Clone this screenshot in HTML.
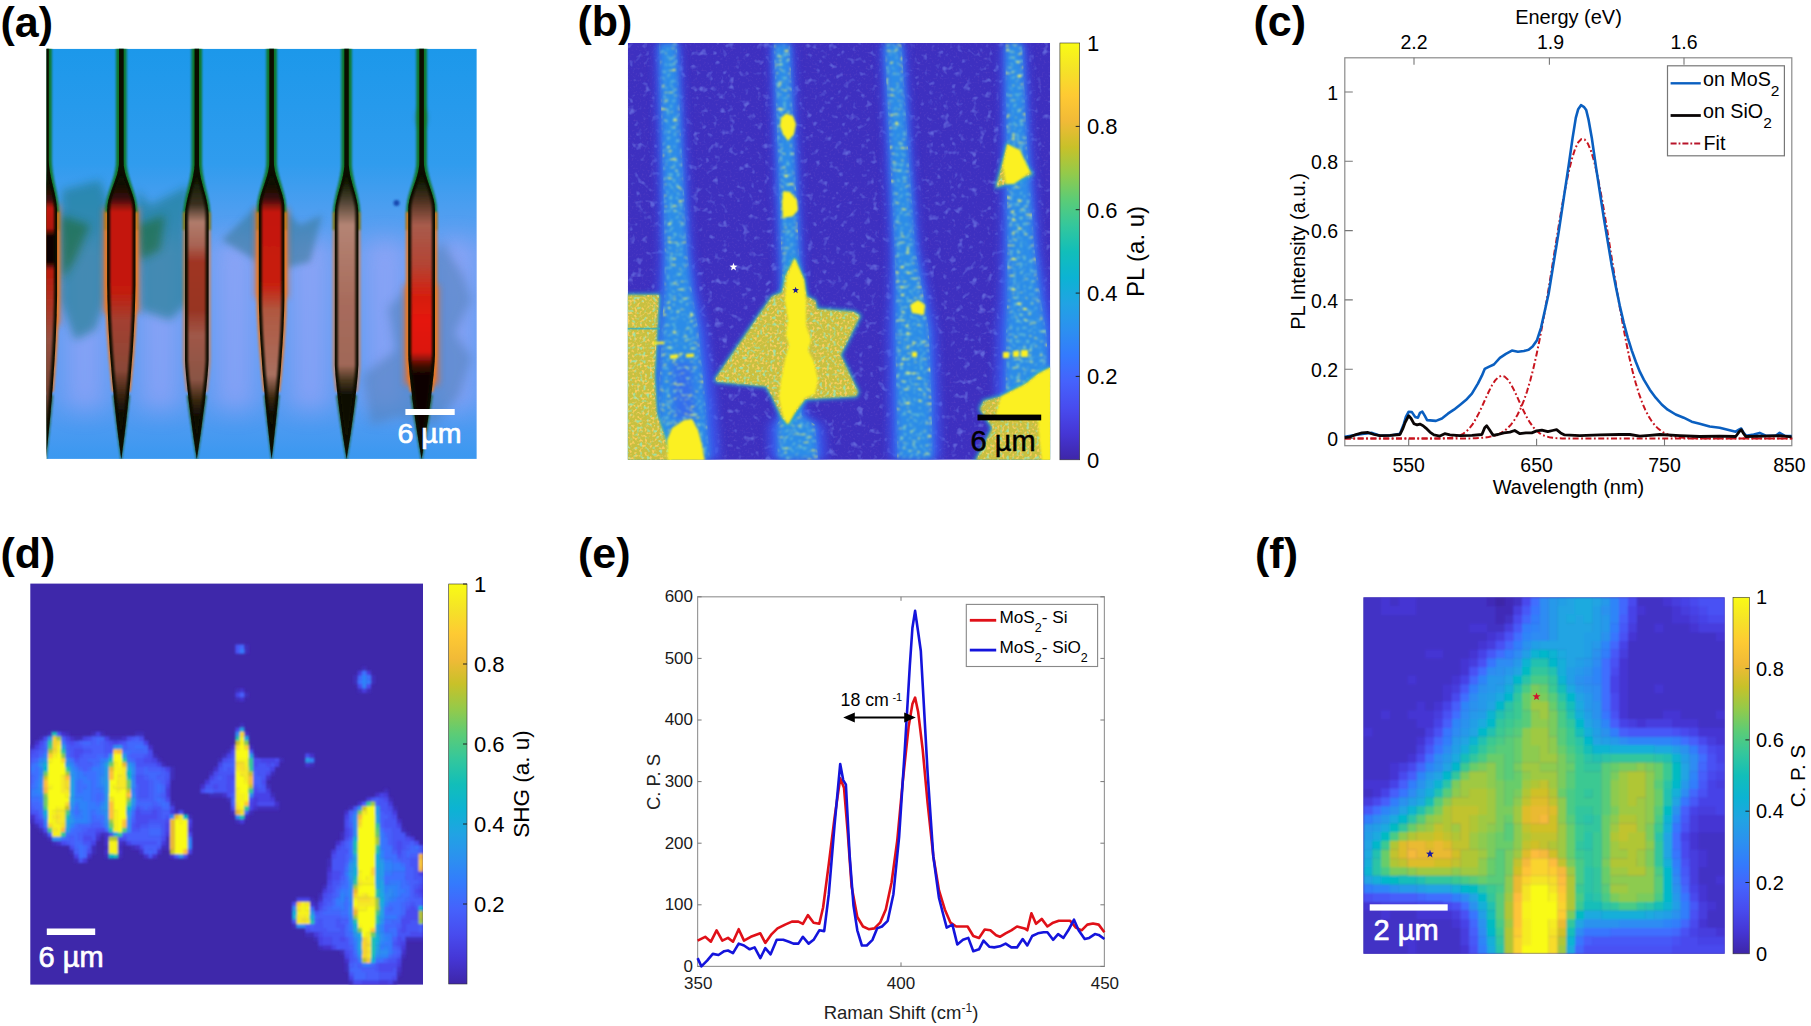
<!DOCTYPE html><html><head><meta charset="utf-8"><title>Figure</title><style>html,body{margin:0;padding:0;background:#fff}svg{display:block}text{font-family:"Liberation Sans",sans-serif}</style></head><body><svg width="1811" height="1026" viewBox="0 0 1811 1026"><defs><linearGradient id="par" x1="0" y1="0" x2="0" y2="1"><stop offset="0.0000" stop-color="#f9fb15"/><stop offset="0.0625" stop-color="#f5e327"/><stop offset="0.1250" stop-color="#feca33"/><stop offset="0.1875" stop-color="#f1ba37"/><stop offset="0.2500" stop-color="#c8c129"/><stop offset="0.3125" stop-color="#94ca4a"/><stop offset="0.3750" stop-color="#5ccc76"/><stop offset="0.4375" stop-color="#34c79c"/><stop offset="0.5000" stop-color="#12beb9"/><stop offset="0.5625" stop-color="#0cb3d3"/><stop offset="0.6250" stop-color="#21a3e3"/><stop offset="0.6875" stop-color="#2c90f0"/><stop offset="0.7500" stop-color="#347afd"/><stop offset="0.8125" stop-color="#4562fc"/><stop offset="0.8750" stop-color="#484cef"/><stop offset="0.9375" stop-color="#4536d5"/><stop offset="1.0000" stop-color="#3e26a8"/></linearGradient><filter id="bl05" x="-30%" y="-30%" width="160%" height="160%"><feGaussianBlur stdDeviation="0.5"/></filter><filter id="bl1" x="-30%" y="-30%" width="160%" height="160%"><feGaussianBlur stdDeviation="1"/></filter><filter id="bl2" x="-30%" y="-30%" width="160%" height="160%"><feGaussianBlur stdDeviation="2"/></filter><filter id="bl3" x="-30%" y="-30%" width="160%" height="160%"><feGaussianBlur stdDeviation="3"/></filter><filter id="bl4" x="-30%" y="-30%" width="160%" height="160%"><feGaussianBlur stdDeviation="4"/></filter><filter id="bl5" x="-30%" y="-30%" width="160%" height="160%"><feGaussianBlur stdDeviation="5"/></filter><filter id="bl12" x="-30%" y="-30%" width="160%" height="160%"><feGaussianBlur stdDeviation="12"/></filter></defs><rect width="1811" height="1026" fill="#fff"/><g id="pa"><text x="0.5" y="36.5" font-size="43" font-weight="bold">(a)</text><defs><clipPath id="ca"><rect x="46.5" y="48.7" width="430.3" height="410.2"/></clipPath><linearGradient id="abg" x1="0" y1="0" x2="0" y2="1"><stop offset="0" stop-color="#1c98ea"/><stop offset="0.28" stop-color="#309cee"/><stop offset="0.5" stop-color="#68a0f2"/><stop offset="0.85" stop-color="#5c9cf2"/><stop offset="1" stop-color="#3a98f0"/></linearGradient><linearGradient id="ag1" gradientUnits="userSpaceOnUse" x1="0" y1="160" x2="0" y2="460"><stop offset="0.033" stop-color="#081000" stop-opacity="0"/><stop offset="0.083" stop-color="#101004" stop-opacity="1"/><stop offset="0.133" stop-color="#401008" stop-opacity="1"/><stop offset="0.160" stop-color="#c01408" stop-opacity="1"/><stop offset="0.227" stop-color="#b01408" stop-opacity="1"/><stop offset="0.253" stop-color="#100404" stop-opacity="1"/><stop offset="0.340" stop-color="#100404" stop-opacity="1"/><stop offset="0.367" stop-color="#b81a0c" stop-opacity="1"/><stop offset="0.467" stop-color="#b03020" stop-opacity="1"/><stop offset="0.600" stop-color="#985040" stop-opacity="1"/><stop offset="0.800" stop-color="#704030" stop-opacity="1"/><stop offset="0.900" stop-color="#201408" stop-opacity="1"/></linearGradient><linearGradient id="ag2" gradientUnits="userSpaceOnUse" x1="0" y1="160" x2="0" y2="460"><stop offset="0.033" stop-color="#081000" stop-opacity="0"/><stop offset="0.083" stop-color="#101004" stop-opacity="1"/><stop offset="0.127" stop-color="#381008" stop-opacity="1"/><stop offset="0.173" stop-color="#c41408" stop-opacity="1"/><stop offset="0.433" stop-color="#c41a0c" stop-opacity="1"/><stop offset="0.533" stop-color="#a44030" stop-opacity="1"/><stop offset="0.700" stop-color="#8a4838" stop-opacity="1"/><stop offset="0.783" stop-color="#3a2410" stop-opacity="1"/><stop offset="0.850" stop-color="#0c0a04" stop-opacity="1"/></linearGradient><linearGradient id="ag3" gradientUnits="userSpaceOnUse" x1="0" y1="160" x2="0" y2="460"><stop offset="0.033" stop-color="#081000" stop-opacity="0"/><stop offset="0.083" stop-color="#182008" stop-opacity="1"/><stop offset="0.147" stop-color="#3a3020" stop-opacity="1"/><stop offset="0.207" stop-color="#b07c6c" stop-opacity="1"/><stop offset="0.283" stop-color="#a86454" stop-opacity="1"/><stop offset="0.340" stop-color="#a03424" stop-opacity="1"/><stop offset="0.500" stop-color="#983424" stop-opacity="1"/><stop offset="0.583" stop-color="#a05848" stop-opacity="1"/><stop offset="0.733" stop-color="#8a5444" stop-opacity="1"/><stop offset="0.800" stop-color="#3a2810" stop-opacity="1"/><stop offset="0.860" stop-color="#0c0a04" stop-opacity="1"/></linearGradient><linearGradient id="ag4" gradientUnits="userSpaceOnUse" x1="0" y1="160" x2="0" y2="460"><stop offset="0.033" stop-color="#081000" stop-opacity="0"/><stop offset="0.083" stop-color="#101004" stop-opacity="1"/><stop offset="0.127" stop-color="#381008" stop-opacity="1"/><stop offset="0.173" stop-color="#c41408" stop-opacity="1"/><stop offset="0.417" stop-color="#c82010" stop-opacity="1"/><stop offset="0.500" stop-color="#b05840" stop-opacity="1"/><stop offset="0.717" stop-color="#a87060" stop-opacity="1"/><stop offset="0.793" stop-color="#3a2810" stop-opacity="1"/><stop offset="0.850" stop-color="#0c0a04" stop-opacity="1"/></linearGradient><linearGradient id="ag5" gradientUnits="userSpaceOnUse" x1="0" y1="160" x2="0" y2="460"><stop offset="0.033" stop-color="#081000" stop-opacity="0"/><stop offset="0.083" stop-color="#182008" stop-opacity="1"/><stop offset="0.133" stop-color="#4a4030" stop-opacity="1"/><stop offset="0.217" stop-color="#b48474" stop-opacity="1"/><stop offset="0.467" stop-color="#a86c5c" stop-opacity="1"/><stop offset="0.683" stop-color="#a06858" stop-opacity="1"/><stop offset="0.733" stop-color="#4a3820" stop-opacity="1"/><stop offset="0.783" stop-color="#101004" stop-opacity="1"/></linearGradient><linearGradient id="ag6" gradientUnits="userSpaceOnUse" x1="0" y1="160" x2="0" y2="460"><stop offset="0.033" stop-color="#081000" stop-opacity="0"/><stop offset="0.083" stop-color="#182008" stop-opacity="1"/><stop offset="0.133" stop-color="#4a3020" stop-opacity="1"/><stop offset="0.217" stop-color="#a85c4c" stop-opacity="1"/><stop offset="0.350" stop-color="#b44434" stop-opacity="1"/><stop offset="0.450" stop-color="#d42010" stop-opacity="1"/><stop offset="0.533" stop-color="#e41808" stop-opacity="1"/><stop offset="0.640" stop-color="#dc1808" stop-opacity="1"/><stop offset="0.687" stop-color="#400c06" stop-opacity="1"/><stop offset="0.720" stop-color="#0c0404" stop-opacity="1"/></linearGradient></defs><g clip-path="url(#ca)"><rect x="46.5" y="48.7" width="430.3" height="410.2" fill="url(#abg)"/><g fill="#b8a8fa" opacity="0.45" filter="url(#bl12)"><rect x="67" y="240" width="36" height="170"/><rect x="142" y="240" width="36" height="170"/><rect x="217" y="240" width="36" height="170"/><rect x="292" y="240" width="36" height="170"/><rect x="367" y="240" width="36" height="170"/><rect x="437" y="240" width="36" height="170"/></g><g fill="#1c7c8c" opacity="0.62" filter="url(#bl4)"><polygon points="62,190 100,180 108,200 106,300 95,330 75,340 60,300"/><polygon points="137,190 150,205 190,185 186,230 192,300 170,320 140,310"/></g><g fill="#1a6a30" opacity="0.6" filter="url(#bl4)"><polygon points="60,215 90,225 75,260 62,280"/><polygon points="137,225 165,215 160,250 140,260"/></g><g fill="#3a7a9a" opacity="0.6" filter="url(#bl3)"><polygon points="222,240 258,205 258,262"/><polygon points="285,210 300,225 322,215 310,262 285,268"/></g><g fill="#5080b8" opacity="0.55" filter="url(#bl5)"><polygon points="442,241 463,275 471.5,300 455,333 471.5,358 459,396 434,425 400,417 371,425 362.6,375 396,350 388,308 404.5,291"/></g><ellipse cx="421.5" cy="118" rx="6" ry="11" fill="#2a7a48" opacity="0.55" filter="url(#bl2)"/><g fill="#f06a20" opacity="0.75" filter="url(#bl3)"><rect x="103.5" y="208" width="35.6" height="105"/><rect x="255.3" y="208" width="32.6" height="90"/><rect x="404.5" y="285" width="34.2" height="100"/><rect x="40" y="205" width="20" height="120"/></g><g fill="#0c7418" opacity="0.9" filter="url(#bl1)"><path d="M39.2 40L39.2 45L39.2 50L39.2 55L39.2 60L39.2 65L39.2 70L39.2 75L39.2 80L39.2 85L39.2 90L39.2 95L39.2 100L39.2 105L39.2 110L39.2 115L39.2 120L39.2 125L39.2 130L39.2 135L39.2 140L39.2 145L39.2 150L39.2 155L39.2 160L39 165L38.5 170L37.8 175L36.9 180L35.9 185L34.8 190L33.9 195L33.1 200L32.5 205L32.1 210L32.1 215L32.1 220L32.1 225L32.1 230L58.9 230L58.9 225L58.9 220L58.9 215L58.9 210L58.5 205L57.9 200L57.1 195L56.2 190L55.1 185L54.1 180L53.2 175L52.5 170L52 165L51.8 160L51.8 155L51.8 150L51.8 145L51.8 140L51.8 135L51.8 130L51.8 125L51.8 120L51.8 115L51.8 110L51.8 105L51.8 100L51.8 95L51.8 90L51.8 85L51.8 80L51.8 75L51.8 70L51.8 65L51.8 60L51.8 55L51.8 50L51.8 45L51.8 40Z"/><path d="M116 40L116 45L116 50L116 55L116 60L116 65L116 70L116 75L116 80L116 85L116 90L116 95L116 100L116 105L116 110L116 115L116 120L116 125L116 130L116 135L116 140L116 145L116 150L116 155L116 160L115.9 165L115.2 170L114.1 175L112.6 180L111 185L109.3 190L107.8 195L106.5 200L105.6 205L105.3 210L105.3 215L105.3 220L105.3 225L105.3 230L137.3 230L137.3 225L137.3 220L137.3 215L137.3 210L137 205L136.1 200L134.8 195L133.3 190L131.6 185L130 180L128.5 175L127.4 170L126.7 165L126.6 160L126.6 155L126.6 150L126.6 145L126.6 140L126.6 135L126.6 130L126.6 125L126.6 120L126.6 115L126.6 110L126.6 105L126.6 100L126.6 95L126.6 90L126.6 85L126.6 80L126.6 75L126.6 70L126.6 65L126.6 60L126.6 55L126.6 50L126.6 45L126.6 40Z"/><path d="M191.6 40L191.6 45L191.6 50L191.6 55L191.6 60L191.6 65L191.6 70L191.6 75L191.6 80L191.6 85L191.6 90L191.6 95L191.6 100L191.6 105L191.6 110L191.6 115L191.6 120L191.6 125L191.6 130L191.6 135L191.6 140L191.6 145L191.6 150L191.6 155L191.6 160L191.6 165L191.2 170L190.5 175L189.6 180L188.5 185L187.3 190L186.1 195L185 200L184.1 205L183.5 210L183.2 215L183.2 220L183.2 225L183.2 230L210.4 230L210.4 225L210.4 220L210.4 215L210.1 210L209.5 205L208.6 200L207.5 195L206.3 190L205.1 185L204 180L203.1 175L202.4 170L202 165L202 160L202 155L202 150L202 145L202 140L202 135L202 130L202 125L202 120L202 115L202 110L202 105L202 100L202 95L202 90L202 85L202 80L202 75L202 70L202 65L202 60L202 55L202 50L202 45L202 40Z"/><path d="M266.3 40L266.3 45L266.3 50L266.3 55L266.3 60L266.3 65L266.3 70L266.3 75L266.3 80L266.3 85L266.3 90L266.3 95L266.3 100L266.3 105L266.3 110L266.3 115L266.3 120L266.3 125L266.3 130L266.3 135L266.3 140L266.3 145L266.3 150L266.3 155L266.3 160L266.2 165L265.6 170L264.5 175L263.1 180L261.7 185L260.2 190L258.8 195L257.7 200L257.1 205L257 210L257 215L257 220L257 225L257 230L286.2 230L286.2 225L286.2 220L286.2 215L286.2 210L286.1 205L285.5 200L284.4 195L283 190L281.6 185L280.1 180L278.7 175L277.6 170L277 165L276.9 160L276.9 155L276.9 150L276.9 145L276.9 140L276.9 135L276.9 130L276.9 125L276.9 120L276.9 115L276.9 110L276.9 105L276.9 100L276.9 95L276.9 90L276.9 85L276.9 80L276.9 75L276.9 70L276.9 65L276.9 60L276.9 55L276.9 50L276.9 45L276.9 40Z"/><path d="M341.4 40L341.4 45L341.4 50L341.4 55L341.4 60L341.4 65L341.4 70L341.4 75L341.4 80L341.4 85L341.4 90L341.4 95L341.4 100L341.4 105L341.4 110L341.4 115L341.4 120L341.4 125L341.4 130L341.4 135L341.4 140L341.4 145L341.4 150L341.4 155L341.4 160L341.4 165L341 170L340.2 175L339.2 180L338.1 185L336.8 190L335.6 195L334.6 200L333.7 205L333.1 210L333 215L333 220L333 225L333 230L360.2 230L360.2 225L360.2 220L360.2 215L360.1 210L359.5 205L358.6 200L357.6 195L356.4 190L355.1 185L354 180L353 175L352.2 170L351.8 165L351.8 160L351.8 155L351.8 150L351.8 145L351.8 140L351.8 135L351.8 130L351.8 125L351.8 120L351.8 115L351.8 110L351.8 105L351.8 100L351.8 95L351.8 90L351.8 85L351.8 80L351.8 75L351.8 70L351.8 65L351.8 60L351.8 55L351.8 50L351.8 45L351.8 40Z"/><path d="M416.3 40L416.3 45L416.3 50L416.3 55L416.3 60L416.3 65L416.3 70L416.3 75L416.3 80L416.3 85L416.3 90L416.3 95L416.3 100L416.3 105L416.3 110L416.3 115L416.3 120L416.3 125L416.3 130L416.3 135L416.3 140L416.3 145L416.3 150L416.3 155L416.3 160L416.2 165L415.6 170L414.5 175L413.2 180L411.7 185L410.1 190L408.7 195L407.5 200L406.7 205L406.4 210L406.4 215L406.4 220L406.4 225L406.4 230L436.8 230L436.8 225L436.8 220L436.8 215L436.8 210L436.5 205L435.7 200L434.5 195L433.1 190L431.5 185L430 180L428.7 175L427.6 170L427 165L426.9 160L426.9 155L426.9 150L426.9 145L426.9 140L426.9 135L426.9 130L426.9 125L426.9 120L426.9 115L426.9 110L426.9 105L426.9 100L426.9 95L426.9 90L426.9 85L426.9 80L426.9 75L426.9 70L426.9 65L426.9 60L426.9 55L426.9 50L426.9 45L426.9 40Z"/></g><g fill="#1c5c18" opacity="0.8" filter="url(#bl1)"><path d="M37.8 395L38.2 400L38.7 405L39.2 410L39.7 415L40.2 420L40.7 425L41.2 430L41.8 435L42.4 440L42.9 445L43.5 450L44.1 455L44.7 460L45.5 465L45.5 465L46.3 460L46.9 455L47.5 450L48.1 445L48.6 440L49.2 435L49.8 430L50.3 425L50.8 420L51.3 415L51.8 410L52.3 405L52.8 400L53.2 395Z"/><path d="M112.5 395L113 400L113.6 405L114.2 410L114.8 415L115.4 420L116 425L116.7 430L117.3 435L118 440L118.7 445L119.4 450L120.1 455L120.8 460L121.3 463L121.3 463L121.8 460L122.5 455L123.2 450L123.9 445L124.6 440L125.3 435L125.9 430L126.6 425L127.2 420L127.8 415L128.4 410L129 405L129.6 400L130.1 395Z"/><path d="M186.7 395L187.3 400L188 405L188.6 410L189.3 415L190 420L190.8 425L191.5 430L192.3 435L193 440L193.8 445L194.6 450L195.5 455L196.3 460L196.8 463L196.8 463L197.3 460L198.1 455L199 450L199.8 445L200.6 440L201.3 435L202.1 430L202.8 425L203.6 420L204.3 415L205 410L205.6 405L206.3 400L206.9 395Z"/><path d="M263.6 395L264.1 400L264.6 405L265.2 410L265.7 415L266.3 420L266.9 425L267.5 430L268.1 435L268.7 440L269.3 445L269.9 450L270.6 455L271.2 460L271.6 463L271.6 463L272 460L272.6 455L273.3 450L273.9 445L274.5 440L275.1 435L275.7 430L276.3 425L276.9 420L277.5 415L278 410L278.6 405L279.1 400L279.6 395Z"/><path d="M336.1 395L336.7 400L337.4 405L338.1 410L338.8 415L339.5 420L340.3 425L341.1 430L341.9 435L342.7 440L343.5 445L344.3 450L345.2 455L346.1 460L346.6 463L346.6 463L347.1 460L348 455L348.9 450L349.7 445L350.5 440L351.3 435L352.1 430L352.9 425L353.7 420L354.4 415L355.1 410L355.8 405L356.5 400L357.1 395Z"/><path d="M410.5 395L411.2 400L411.9 405L412.6 410L413.4 415L414.2 420L415 425L415.8 430L416.6 435L417.5 440L418.3 445L419.2 450L420.1 455L421 460L421.6 463L421.6 463L422.2 460L423.1 455L424 450L424.9 445L425.7 440L426.6 435L427.4 430L428.2 425L429 420L429.8 415L430.6 410L431.3 405L432 400L432.7 395Z"/></g><path d="M31.5 212L31.5 217L31.5 222L31.5 227L31.5 232L31.5 237L31.5 242L31.5 247L31.5 252L31.5 257L31.5 262L31.5 267L31.5 272L31.5 277L31.5 282L31.5 287L31.5 292L31.6 297L31.7 302L31.8 307L31.9 312L32.1 317L32.3 322L32.5 327L32.8 332L33 337L33.3 342L33.6 347L34 352L34.3 357L34.7 362L35.1 367L35.5 372L35.9 377L36.3 382L36.8 387L37.3 392L53.7 392L54.2 387L54.7 382L55.1 377L55.5 372L55.9 367L56.3 362L56.7 357L57 352L57.4 347L57.7 342L58 337L58.2 332L58.5 327L58.7 322L58.9 317L59.1 312L59.2 307L59.3 302L59.4 297L59.5 292L59.5 287L59.5 282L59.5 277L59.5 272L59.5 267L59.5 262L59.5 257L59.5 252L59.5 247L59.5 242L59.5 237L59.5 232L59.5 227L59.5 222L59.5 217L59.5 212Z" fill="#ee7a1c" opacity="0.85" filter="url(#bl1)"/><path d="M104.7 212L104.7 217L104.7 222L104.7 227L104.7 232L104.7 237L104.7 242L104.7 247L104.7 252L104.7 257L104.7 262L104.7 267L104.7 272L104.7 277L104.7 282L104.8 287L104.8 292L105 297L105.1 302L105.3 307L105.5 312L105.8 317L106 322L106.3 327L106.6 332L106.9 337L107.3 342L107.7 347L108.1 352L108.5 357L108.9 362L109.4 367L109.9 372L110.4 377L110.9 382L111.4 387L112 392L130.6 392L131.2 387L131.7 382L132.2 377L132.7 372L133.2 367L133.7 362L134.1 357L134.5 352L134.9 347L135.3 342L135.7 337L136 332L136.3 327L136.6 322L136.8 317L137.1 312L137.3 307L137.5 302L137.6 297L137.8 292L137.8 287L137.9 282L137.9 277L137.9 272L137.9 267L137.9 262L137.9 257L137.9 252L137.9 247L137.9 242L137.9 237L137.9 232L137.9 227L137.9 222L137.9 217L137.9 212Z" fill="#ee7a1c" opacity="0.85" filter="url(#bl1)"/><path d="M182.8 212L182.6 217L182.6 222L182.6 227L182.6 232L182.6 237L182.6 242L182.6 247L182.6 252L182.6 257L182.6 262L182.6 267L182.6 272L182.6 277L182.6 282L182.6 287L182.6 292L182.6 297L182.6 302L182.6 307L182.6 312L182.6 317L182.6 322L182.6 327L182.6 332L182.6 337L182.6 342L182.6 347L182.6 352L182.6 357L182.7 362L183.1 367L183.5 372L184 377L184.6 382L185.2 387L185.9 392L207.7 392L208.4 387L209 382L209.6 377L210.1 372L210.5 367L210.9 362L211 357L211 352L211 347L211 342L211 337L211 332L211 327L211 322L211 317L211 312L211 307L211 302L211 297L211 292L211 287L211 282L211 277L211 272L211 267L211 262L211 257L211 252L211 247L211 242L211 237L211 232L211 227L211 222L211 217L210.8 212Z" fill="#ee7a1c" opacity="0.5" filter="url(#bl1)"/><path d="M256.4 212L256.4 217L256.4 222L256.4 227L256.4 232L256.4 237L256.4 242L256.4 247L256.4 252L256.4 257L256.4 262L256.4 267L256.4 272L256.4 277L256.4 282L256.4 287L256.4 292L256.4 297L256.4 302L256.5 307L256.7 312L256.9 317L257.2 322L257.5 327L257.8 332L258.1 337L258.5 342L258.8 347L259.2 352L259.7 357L260.1 362L260.6 367L261 372L261.5 377L262 382L262.6 387L263.1 392L280.1 392L280.6 387L281.2 382L281.7 377L282.2 372L282.6 367L283.1 362L283.5 357L284 352L284.4 347L284.7 342L285.1 337L285.4 332L285.7 327L286 322L286.3 317L286.5 312L286.7 307L286.8 302L286.8 297L286.8 292L286.8 287L286.8 282L286.8 277L286.8 272L286.8 267L286.8 262L286.8 257L286.8 252L286.8 247L286.8 242L286.8 237L286.8 232L286.8 227L286.8 222L286.8 217L286.8 212Z" fill="#ee7a1c" opacity="0.85" filter="url(#bl1)"/><path d="M332.5 212L332.4 217L332.4 222L332.4 227L332.4 232L332.4 237L332.4 242L332.4 247L332.4 252L332.4 257L332.4 262L332.4 267L332.4 272L332.4 277L332.4 282L332.4 287L332.4 292L332.4 297L332.4 302L332.4 307L332.4 312L332.4 317L332.4 322L332.4 327L332.4 332L332.4 337L332.4 342L332.4 347L332.4 352L332.4 357L332.4 362L332.5 367L332.9 372L333.4 377L333.9 382L334.5 387L335.2 392L358 392L358.7 387L359.3 382L359.8 377L360.3 372L360.7 367L360.8 362L360.8 357L360.8 352L360.8 347L360.8 342L360.8 337L360.8 332L360.8 327L360.8 322L360.8 317L360.8 312L360.8 307L360.8 302L360.8 297L360.8 292L360.8 287L360.8 282L360.8 277L360.8 272L360.8 267L360.8 262L360.8 257L360.8 252L360.8 247L360.8 242L360.8 237L360.8 232L360.8 227L360.8 222L360.8 217L360.7 212Z" fill="#ee7a1c" opacity="0.5" filter="url(#bl1)"/><path d="M405.8 212L405.8 217L405.8 222L405.8 227L405.8 232L405.8 237L405.8 242L405.8 247L405.8 252L405.8 257L405.8 262L405.8 267L405.8 272L405.8 277L405.8 282L405.8 287L405.8 292L405.8 297L405.8 302L405.8 307L405.8 312L405.8 317L405.8 322L405.8 327L405.8 332L405.8 337L405.8 342L405.8 347L405.8 352L405.9 357L406.2 362L406.7 367L407.2 372L407.7 377L408.4 382L409 387L409.7 392L433.5 392L434.2 387L434.8 382L435.5 377L436 372L436.5 367L437 362L437.3 357L437.4 352L437.4 347L437.4 342L437.4 337L437.4 332L437.4 327L437.4 322L437.4 317L437.4 312L437.4 307L437.4 302L437.4 297L437.4 292L437.4 287L437.4 282L437.4 277L437.4 272L437.4 267L437.4 262L437.4 257L437.4 252L437.4 247L437.4 242L437.4 237L437.4 232L437.4 227L437.4 222L437.4 217L437.4 212Z" fill="#ee7a1c" opacity="0.85" filter="url(#bl1)"/><g fill="#0a0a04" filter="url(#bl05)"><path d="M42.2 40L42.2 45L42.2 50L42.2 55L42.2 60L42.2 65L42.2 70L42.2 75L42.2 80L42.2 85L42.2 90L42.2 95L42.2 100L42.2 105L42.2 110L42.2 115L42.2 120L42.2 125L42.2 130L42.2 135L42.2 140L42.2 145L42.2 150L42.2 155L42.2 160L42 165L41.4 170L40.5 175L39.5 180L38.3 185L37.1 190L36 195L35 200L34.3 205L33.9 210L33.9 215L33.9 220L33.9 225L33.9 230L33.9 235L33.9 240L33.9 245L33.9 250L33.9 255L33.9 260L33.9 265L33.9 270L33.9 275L33.9 280L33.9 285L33.9 290L33.9 295L34 300L34.1 305L34.2 310L34.3 315L34.5 320L34.7 325L34.9 330L35.1 335L35.3 340L35.6 345L35.8 350L36.1 355L36.4 360L36.7 365L37.1 370L37.4 375L37.8 380L38.1 385L38.5 390L38.9 395L39.3 400L39.8 405L40.2 410L40.6 415L41.1 420L41.6 425L42.1 430L42.6 435L43.1 440L43.6 445L44.2 450L44.7 455L45.3 460L45.5 462L45.5 462L45.7 460L46.3 455L46.8 450L47.4 445L47.9 440L48.4 435L48.9 430L49.4 425L49.9 420L50.4 415L50.8 410L51.2 405L51.7 400L52.1 395L52.5 390L52.9 385L53.2 380L53.6 375L53.9 370L54.3 365L54.6 360L54.9 355L55.2 350L55.4 345L55.7 340L55.9 335L56.1 330L56.3 325L56.5 320L56.7 315L56.8 310L56.9 305L57 300L57.1 295L57.1 290L57.1 285L57.1 280L57.1 275L57.1 270L57.1 265L57.1 260L57.1 255L57.1 250L57.1 245L57.1 240L57.1 235L57.1 230L57.1 225L57.1 220L57.1 215L57.1 210L56.7 205L56 200L55 195L53.9 190L52.7 185L51.5 180L50.5 175L49.6 170L49 165L48.8 160L48.8 155L48.8 150L48.8 145L48.8 140L48.8 135L48.8 130L48.8 125L48.8 120L48.8 115L48.8 110L48.8 105L48.8 100L48.8 95L48.8 90L48.8 85L48.8 80L48.8 75L48.8 70L48.8 65L48.8 60L48.8 55L48.8 50L48.8 45L48.8 40Z"/><path d="M119 40L119 45L119 50L119 55L119 60L119 65L119 70L119 75L119 80L119 85L119 90L119 95L119 100L119 105L119 110L119 115L119 120L119 125L119 130L119 135L119 140L119 145L119 150L119 155L119 160L118.9 165L118.1 170L116.9 175L115.2 180L113.4 185L111.6 190L109.9 195L108.4 200L107.5 205L107.1 210L107.1 215L107.1 220L107.1 225L107.1 230L107.1 235L107.1 240L107.1 245L107.1 250L107.1 255L107.1 260L107.1 265L107.1 270L107.1 275L107.1 280L107.1 285L107.2 290L107.3 295L107.4 300L107.6 305L107.7 310L107.9 315L108.1 320L108.4 325L108.6 330L108.9 335L109.2 340L109.5 345L109.8 350L110.2 355L110.6 360L111 365L111.4 370L111.8 375L112.2 380L112.7 385L113.2 390L113.6 395L114.2 400L114.7 405L115.2 410L115.8 415L116.3 420L116.9 425L117.5 430L118.1 435L118.8 440L119.4 445L120.1 450L120.7 455L121.3 459L121.3 459L121.9 455L122.5 450L123.2 445L123.8 440L124.5 435L125.1 430L125.7 425L126.3 420L126.8 415L127.4 410L127.9 405L128.4 400L129 395L129.4 390L129.9 385L130.4 380L130.8 375L131.2 370L131.6 365L132 360L132.4 355L132.8 350L133.1 345L133.4 340L133.7 335L134 330L134.2 325L134.5 320L134.7 315L134.9 310L135 305L135.2 300L135.3 295L135.4 290L135.5 285L135.5 280L135.5 275L135.5 270L135.5 265L135.5 260L135.5 255L135.5 250L135.5 245L135.5 240L135.5 235L135.5 230L135.5 225L135.5 220L135.5 215L135.5 210L135.1 205L134.2 200L132.7 195L131 190L129.2 185L127.4 180L125.7 175L124.5 170L123.7 165L123.6 160L123.6 155L123.6 150L123.6 145L123.6 140L123.6 135L123.6 130L123.6 125L123.6 120L123.6 115L123.6 110L123.6 105L123.6 100L123.6 95L123.6 90L123.6 85L123.6 80L123.6 75L123.6 70L123.6 65L123.6 60L123.6 55L123.6 50L123.6 45L123.6 40Z"/><path d="M194.6 40L194.6 45L194.6 50L194.6 55L194.6 60L194.6 65L194.6 70L194.6 75L194.6 80L194.6 85L194.6 90L194.6 95L194.6 100L194.6 105L194.6 110L194.6 115L194.6 120L194.6 125L194.6 130L194.6 135L194.6 140L194.6 145L194.6 150L194.6 155L194.6 160L194.6 165L194.1 170L193.3 175L192.3 180L191 185L189.7 190L188.3 195L187.1 200L186.1 205L185.3 210L185 215L185 220L185 225L185 230L185 235L185 240L185 245L185 250L185 255L185 260L185 265L185 270L185 275L185 280L185 285L185 290L185 295L185 300L185 305L185 310L185 315L185 320L185 325L185 330L185 335L185 340L185 345L185 350L185 355L185 360L185.2 365L185.6 370L186 375L186.5 380L187 385L187.5 390L188.1 395L188.6 400L189.2 405L189.9 410L190.5 415L191.2 420L191.8 425L192.5 430L193.2 435L193.9 440L194.7 445L195.4 450L196.2 455L196.8 459L196.8 459L197.4 455L198.2 450L198.9 445L199.7 440L200.4 435L201.1 430L201.8 425L202.4 420L203.1 415L203.7 410L204.4 405L205 400L205.5 395L206.1 390L206.6 385L207.1 380L207.6 375L208 370L208.4 365L208.6 360L208.6 355L208.6 350L208.6 345L208.6 340L208.6 335L208.6 330L208.6 325L208.6 320L208.6 315L208.6 310L208.6 305L208.6 300L208.6 295L208.6 290L208.6 285L208.6 280L208.6 275L208.6 270L208.6 265L208.6 260L208.6 255L208.6 250L208.6 245L208.6 240L208.6 235L208.6 230L208.6 225L208.6 220L208.6 215L208.3 210L207.5 205L206.5 200L205.3 195L203.9 190L202.6 185L201.3 180L200.3 175L199.5 170L199 165L199 160L199 155L199 150L199 145L199 140L199 135L199 130L199 125L199 120L199 115L199 110L199 105L199 100L199 95L199 90L199 85L199 80L199 75L199 70L199 65L199 60L199 55L199 50L199 45L199 40Z"/><path d="M269.3 40L269.3 45L269.3 50L269.3 55L269.3 60L269.3 65L269.3 70L269.3 75L269.3 80L269.3 85L269.3 90L269.3 95L269.3 100L269.3 105L269.3 110L269.3 115L269.3 120L269.3 125L269.3 130L269.3 135L269.3 140L269.3 145L269.3 150L269.3 155L269.3 160L269.2 165L268.5 170L267.3 175L265.7 180L264.1 185L262.4 190L260.8 195L259.6 200L258.9 205L258.8 210L258.8 215L258.8 220L258.8 225L258.8 230L258.8 235L258.8 240L258.8 245L258.8 250L258.8 255L258.8 260L258.8 265L258.8 270L258.8 275L258.8 280L258.8 285L258.8 290L258.8 295L258.8 300L258.9 305L259 310L259.2 315L259.4 320L259.6 325L259.8 330L260.1 335L260.4 340L260.7 345L261.1 350L261.4 355L261.8 360L262.1 365L262.5 370L262.9 375L263.4 380L263.8 385L264.3 390L264.7 395L265.2 400L265.7 405L266.2 410L266.7 415L267.2 420L267.7 425L268.3 430L268.8 435L269.4 440L269.9 445L270.5 450L271.1 455L271.6 459L271.6 459L272.1 455L272.7 450L273.3 445L273.8 440L274.4 435L274.9 430L275.5 425L276 420L276.5 415L277 410L277.5 405L278 400L278.5 395L278.9 390L279.4 385L279.8 380L280.3 375L280.7 370L281.1 365L281.4 360L281.8 355L282.1 350L282.5 345L282.8 340L283.1 335L283.4 330L283.6 325L283.8 320L284 315L284.2 310L284.3 305L284.4 300L284.4 295L284.4 290L284.4 285L284.4 280L284.4 275L284.4 270L284.4 265L284.4 260L284.4 255L284.4 250L284.4 245L284.4 240L284.4 235L284.4 230L284.4 225L284.4 220L284.4 215L284.4 210L284.3 205L283.6 200L282.4 195L280.8 190L279.2 185L277.5 180L275.9 175L274.7 170L274 165L273.9 160L273.9 155L273.9 150L273.9 145L273.9 140L273.9 135L273.9 130L273.9 125L273.9 120L273.9 115L273.9 110L273.9 105L273.9 100L273.9 95L273.9 90L273.9 85L273.9 80L273.9 75L273.9 70L273.9 65L273.9 60L273.9 55L273.9 50L273.9 45L273.9 40Z"/><path d="M344.4 40L344.4 45L344.4 50L344.4 55L344.4 60L344.4 65L344.4 70L344.4 75L344.4 80L344.4 85L344.4 90L344.4 95L344.4 100L344.4 105L344.4 110L344.4 115L344.4 120L344.4 125L344.4 130L344.4 135L344.4 140L344.4 145L344.4 150L344.4 155L344.4 160L344.4 165L343.9 170L343.1 175L341.9 180L340.6 185L339.2 190L337.8 195L336.6 200L335.6 205L335 210L334.8 215L334.8 220L334.8 225L334.8 230L334.8 235L334.8 240L334.8 245L334.8 250L334.8 255L334.8 260L334.8 265L334.8 270L334.8 275L334.8 280L334.8 285L334.8 290L334.8 295L334.8 300L334.8 305L334.8 310L334.8 315L334.8 320L334.8 325L334.8 330L334.8 335L334.8 340L334.8 345L334.8 350L334.8 355L334.8 360L334.8 365L335.1 370L335.4 375L335.9 380L336.4 385L336.9 390L337.5 395L338.1 400L338.7 405L339.3 410L340 415L340.7 420L341.4 425L342.1 430L342.8 435L343.6 440L344.4 445L345.2 450L346 455L346.6 459L346.6 459L347.2 455L348 450L348.8 445L349.6 440L350.4 435L351.1 430L351.8 425L352.5 420L353.2 415L353.9 410L354.5 405L355.1 400L355.7 395L356.3 390L356.8 385L357.3 380L357.8 375L358.1 370L358.4 365L358.4 360L358.4 355L358.4 350L358.4 345L358.4 340L358.4 335L358.4 330L358.4 325L358.4 320L358.4 315L358.4 310L358.4 305L358.4 300L358.4 295L358.4 290L358.4 285L358.4 280L358.4 275L358.4 270L358.4 265L358.4 260L358.4 255L358.4 250L358.4 245L358.4 240L358.4 235L358.4 230L358.4 225L358.4 220L358.4 215L358.2 210L357.6 205L356.6 200L355.4 195L354 190L352.6 185L351.3 180L350.1 175L349.3 170L348.8 165L348.8 160L348.8 155L348.8 150L348.8 145L348.8 140L348.8 135L348.8 130L348.8 125L348.8 120L348.8 115L348.8 110L348.8 105L348.8 100L348.8 95L348.8 90L348.8 85L348.8 80L348.8 75L348.8 70L348.8 65L348.8 60L348.8 55L348.8 50L348.8 45L348.8 40Z"/><path d="M419.3 40L419.3 45L419.3 50L419.3 55L419.3 60L419.3 65L419.3 70L419.3 75L419.3 80L419.3 85L419.3 90L419.3 95L419.3 100L419.3 105L419.3 110L419.3 115L419.3 120L419.3 125L419.3 130L419.3 135L419.3 140L419.3 145L419.3 150L419.3 155L419.3 160L419.2 165L418.5 170L417.3 175L415.8 180L414.1 185L412.4 190L410.8 195L409.4 200L408.5 205L408.2 210L408.2 215L408.2 220L408.2 225L408.2 230L408.2 235L408.2 240L408.2 245L408.2 250L408.2 255L408.2 260L408.2 265L408.2 270L408.2 275L408.2 280L408.2 285L408.2 290L408.2 295L408.2 300L408.2 305L408.2 310L408.2 315L408.2 320L408.2 325L408.2 330L408.2 335L408.2 340L408.2 345L408.2 350L408.2 355L408.4 360L408.8 365L409.2 370L409.6 375L410.2 380L410.7 385L411.3 390L411.9 395L412.5 400L413.2 405L413.9 410L414.6 415L415.3 420L416.1 425L416.8 430L417.6 435L418.4 440L419.2 445L420.1 450L420.9 455L421.6 459L421.6 459L422.3 455L423.1 450L424 445L424.8 440L425.6 435L426.4 430L427.1 425L427.9 420L428.6 415L429.3 410L430 405L430.7 400L431.3 395L431.9 390L432.5 385L433 380L433.6 375L434 370L434.4 365L434.8 360L435 355L435 350L435 345L435 340L435 335L435 330L435 325L435 320L435 315L435 310L435 305L435 300L435 295L435 290L435 285L435 280L435 275L435 270L435 265L435 260L435 255L435 250L435 245L435 240L435 235L435 230L435 225L435 220L435 215L435 210L434.7 205L433.8 200L432.4 195L430.8 190L429.1 185L427.4 180L425.9 175L424.7 170L424 165L423.9 160L423.9 155L423.9 150L423.9 145L423.9 140L423.9 135L423.9 130L423.9 125L423.9 120L423.9 115L423.9 110L423.9 105L423.9 100L423.9 95L423.9 90L423.9 85L423.9 80L423.9 75L423.9 70L423.9 65L423.9 60L423.9 55L423.9 50L423.9 45L423.9 40Z"/></g><g filter="url(#bl1)"><path d="M44.7 168L43.9 173L42.9 178L41.8 183L40.6 188L39.4 193L38.4 198L37.6 203L37 208L36.9 213L36.9 218L36.9 223L36.9 228L36.9 233L36.9 238L36.9 243L36.9 248L36.9 253L36.9 258L36.9 263L36.9 268L36.9 273L36.9 278L36.9 283L36.9 288L36.9 293L37 298L37 303L37.2 308L37.3 313L37.4 318L37.6 323L37.8 328L38 333L38.2 338L38.5 343L38.7 348L39 353L39.3 358L39.6 363L39.9 368L40.3 373L40.6 378L41 383L41.4 388L41.8 393L42.2 398L42.6 403L43 408L43.5 413L43.9 418L44.4 423L44.9 428L45.5 433L45.5 433L46.1 428L46.6 423L47.1 418L47.5 413L48 408L48.4 403L48.8 398L49.2 393L49.6 388L50 383L50.4 378L50.7 373L51.1 368L51.4 363L51.7 358L52 353L52.3 348L52.5 343L52.8 338L53 333L53.2 328L53.4 323L53.6 318L53.7 313L53.8 308L54 303L54 298L54.1 293L54.1 288L54.1 283L54.1 278L54.1 273L54.1 268L54.1 263L54.1 258L54.1 253L54.1 248L54.1 243L54.1 238L54.1 233L54.1 228L54.1 223L54.1 218L54.1 213L54 208L53.4 203L52.6 198L51.6 193L50.4 188L49.2 183L48.1 178L47.1 173L46.3 168Z" fill="url(#ag1)"/><path d="M121.1 170L119.9 175L118.2 180L116.4 185L114.6 190L112.9 195L111.4 200L110.5 205L110.1 210L110.1 215L110.1 220L110.1 225L110.1 230L110.1 235L110.1 240L110.1 245L110.1 250L110.1 255L110.1 260L110.1 265L110.1 270L110.1 275L110.1 280L110.1 285L110.2 290L110.3 295L110.4 300L110.6 305L110.7 310L110.9 315L111.1 320L111.4 325L111.6 330L111.9 335L112.2 340L112.5 345L112.8 350L113.2 355L113.6 360L114 365L114.4 370L114.8 375L115.2 380L115.7 385L116.2 390L116.6 395L117.2 400L117.7 405L118.2 410L118.8 415L119.3 420L119.9 425L120.5 430L121.1 435L121.3 440L121.3 440L121.5 435L122.1 430L122.7 425L123.3 420L123.8 415L124.4 410L124.9 405L125.4 400L126 395L126.4 390L126.9 385L127.4 380L127.8 375L128.2 370L128.6 365L129 360L129.4 355L129.8 350L130.1 345L130.4 340L130.7 335L131 330L131.2 325L131.5 320L131.7 315L131.9 310L132 305L132.2 300L132.3 295L132.4 290L132.5 285L132.5 280L132.5 275L132.5 270L132.5 265L132.5 260L132.5 255L132.5 250L132.5 245L132.5 240L132.5 235L132.5 230L132.5 225L132.5 220L132.5 215L132.5 210L132.1 205L131.2 200L129.7 195L128 190L126.2 185L124.4 180L122.7 175L121.5 170Z" fill="url(#ag2)"/><path d="M196.7 171L196.2 176L195 181L193.7 186L192.4 191L191.1 196L189.9 201L188.9 206L188.2 211L188 216L188 221L188 226L188 231L188 236L188 241L188 246L188 251L188 256L188 261L188 266L188 271L188 276L188 281L188 286L188 291L188 296L188 301L188 306L188 311L188 316L188 321L188 326L188 331L188 336L188 341L188 346L188 351L188 356L188 361L188.3 366L188.7 371L189.1 376L189.6 381L190.1 386L190.6 391L191.2 396L191.8 401L192.4 406L193 411L193.6 416L194.3 421L195 426L195.7 431L196.4 436L196.8 441L196.8 441L197.2 436L197.9 431L198.6 426L199.3 421L200 416L200.6 411L201.2 406L201.8 401L202.4 396L203 391L203.5 386L204 381L204.5 376L204.9 371L205.3 366L205.6 361L205.6 356L205.6 351L205.6 346L205.6 341L205.6 336L205.6 331L205.6 326L205.6 321L205.6 316L205.6 311L205.6 306L205.6 301L205.6 296L205.6 291L205.6 286L205.6 281L205.6 276L205.6 271L205.6 266L205.6 261L205.6 256L205.6 251L205.6 246L205.6 241L205.6 236L205.6 231L205.6 226L205.6 221L205.6 216L205.4 211L204.7 206L203.7 201L202.5 196L201.2 191L199.9 186L198.6 181L197.4 176L197 171Z" fill="url(#ag3)"/><path d="M271.5 170L270.3 175L268.7 180L267.1 185L265.4 190L263.8 195L262.6 200L261.9 205L261.8 210L261.8 215L261.8 220L261.8 225L261.8 230L261.8 235L261.8 240L261.8 245L261.8 250L261.8 255L261.8 260L261.8 265L261.8 270L261.8 275L261.8 280L261.8 285L261.8 290L261.8 295L261.8 300L261.9 305L262 310L262.2 315L262.4 320L262.6 325L262.8 330L263.1 335L263.4 340L263.7 345L264.1 350L264.4 355L264.8 360L265.1 365L265.5 370L265.9 375L266.4 380L266.8 385L267.3 390L267.7 395L268.2 400L268.7 405L269.2 410L269.7 415L270.2 420L270.7 425L271.3 430L271.6 435L271.6 435L271.9 430L272.5 425L273 420L273.5 415L274 410L274.5 405L275 400L275.5 395L275.9 390L276.4 385L276.8 380L277.3 375L277.7 370L278.1 365L278.4 360L278.8 355L279.1 350L279.5 345L279.8 340L280.1 335L280.4 330L280.6 325L280.8 320L281 315L281.2 310L281.3 305L281.4 300L281.4 295L281.4 290L281.4 285L281.4 280L281.4 275L281.4 270L281.4 265L281.4 260L281.4 255L281.4 250L281.4 245L281.4 240L281.4 235L281.4 230L281.4 225L281.4 220L281.4 215L281.4 210L281.3 205L280.6 200L279.4 195L277.8 190L276.2 185L274.5 180L272.9 175L271.8 170Z" fill="url(#ag4)"/><path d="M346.5 171L345.8 176L344.7 181L343.3 186L341.9 191L340.5 196L339.4 201L338.4 206L337.9 211L337.8 216L337.8 221L337.8 226L337.8 231L337.8 236L337.8 241L337.8 246L337.8 251L337.8 256L337.8 261L337.8 266L337.8 271L337.8 276L337.8 281L337.8 286L337.8 291L337.8 296L337.8 301L337.8 306L337.8 311L337.8 316L337.8 321L337.8 326L337.8 331L337.8 336L337.8 341L337.8 346L337.8 351L337.8 356L337.8 361L337.8 366L338.1 371L338.5 376L339 381L339.5 386L340 391L340.6 396L341.2 401L341.8 406L342.5 411L343.1 416L343.8 421L344.5 426L345.3 431L346 436L346.6 441L346.6 441L347.2 436L347.9 431L348.7 426L349.4 421L350.1 416L350.7 411L351.4 406L352 401L352.6 396L353.2 391L353.7 386L354.2 381L354.7 376L355.1 371L355.4 366L355.4 361L355.4 356L355.4 351L355.4 346L355.4 341L355.4 336L355.4 331L355.4 326L355.4 321L355.4 316L355.4 311L355.4 306L355.4 301L355.4 296L355.4 291L355.4 286L355.4 281L355.4 276L355.4 271L355.4 266L355.4 261L355.4 256L355.4 251L355.4 246L355.4 241L355.4 236L355.4 231L355.4 226L355.4 221L355.4 216L355.3 211L354.8 206L353.8 201L352.7 196L351.3 191L349.9 186L348.5 181L347.4 176L346.8 171Z" fill="url(#ag5)"/><path d="M421.5 170L420.3 175L418.8 180L417.1 185L415.4 190L413.8 195L412.4 200L411.5 205L411.2 210L411.2 215L411.2 220L411.2 225L411.2 230L411.2 235L411.2 240L411.2 245L411.2 250L411.2 255L411.2 260L411.2 265L411.2 270L411.2 275L411.2 280L411.2 285L411.2 290L411.2 295L411.2 300L411.2 305L411.2 310L411.2 315L411.2 320L411.2 325L411.2 330L411.2 335L411.2 340L411.2 345L411.2 350L411.2 355L411.4 360L411.8 365L412.2 370L412.6 375L413.2 380L413.7 385L414.3 390L414.9 395L415.5 400L416.2 405L416.9 410L417.6 415L418.3 420L419.1 425L419.8 430L420.6 435L421.4 440L421.6 445L421.6 445L421.8 440L422.6 435L423.4 430L424.1 425L424.9 420L425.6 415L426.3 410L427 405L427.7 400L428.3 395L428.9 390L429.5 385L430 380L430.6 375L431 370L431.4 365L431.8 360L432 355L432 350L432 345L432 340L432 335L432 330L432 325L432 320L432 315L432 310L432 305L432 300L432 295L432 290L432 285L432 280L432 275L432 270L432 265L432 260L432 255L432 250L432 245L432 240L432 235L432 230L432 225L432 220L432 215L432 210L431.7 205L430.8 200L429.4 195L427.8 190L426.1 185L424.4 180L422.9 175L421.8 170Z" fill="url(#ag6)"/></g><circle cx="396.5" cy="203" r="3" fill="#1848b0" filter="url(#bl1)"/><rect x="405.4" y="409" width="49.3" height="6" fill="#fff"/><text x="397.5" y="442.8" font-size="28.5" fill="#fff" stroke="#fff" stroke-width="0.7">6 µm</text></g></g><g id="pb"><text x="577.5" y="36" font-size="43" font-weight="bold">(b)</text><defs><clipPath id="cb"><rect x="627.8" y="43" width="422.3" height="416.8"/></clipPath><filter id="nb1" x="0" y="0" width="1" height="1"><feTurbulence type="fractalNoise" baseFrequency="0.14" numOctaves="2" seed="4"/><feColorMatrix values="0 0 0 0 0.28  0 0 0 0 0.42  0 0 0 0 1  0 4 0 0 -2.35"/></filter><filter id="nb2" x="0" y="0" width="1" height="1"><feTurbulence type="fractalNoise" baseFrequency="0.4" numOctaves="1" seed="9"/><feColorMatrix values="0 0 0 0 1  0 0 0 0 0.62  0 0 0 0 0.12  5 0 0 0 -2.5"/></filter><filter id="nb3" x="0" y="0" width="1" height="1"><feTurbulence type="fractalNoise" baseFrequency="0.3" numOctaves="1" seed="21"/><feColorMatrix values="0 0 0 0 0.3  0 0 0 0 0.8  0 0 0 0 0.5  0 5 0 0 -2.75"/></filter><filter id="nb4" x="0" y="0" width="1" height="1"><feTurbulence type="fractalNoise" baseFrequency="0.18 0.36" numOctaves="1" seed="33"/><feColorMatrix values="0 0 0 0 0.95  0 0 0 0 0.95  0 0 0 0 0.1  0 0 10 0 -6.35"/></filter><filter id="nb5" x="0" y="0" width="1" height="1"><feTurbulence type="fractalNoise" baseFrequency="0.5" numOctaves="1" seed="7"/><feColorMatrix values="0 0 0 0 0.2  0 0 0 0 0.1  0 0 0 0 0.6  3 0 0 0 -1.6"/></filter></defs><g clip-path="url(#cb)"><rect x="627.8" y="43" width="422.3" height="416.8" fill="#3e30c0"/><rect x="627.8" y="43" width="422.3" height="416.8" filter="url(#nb1)" opacity="0.42"/><rect x="627.8" y="43" width="422.3" height="416.8" filter="url(#nb5)" opacity="0.3"/><g fill="#3a5cf0" filter="url(#bl5)" opacity="0.9"><polygon points="655.4,43 658.2,150 659.9,250 658.5,290 653.5,330 648.6,400 651.5,460 720.5,460 715.4,400 706.5,330 697.5,290 692.1,250 685.8,150 680.6,43"/><polygon points="770.1,43 773.9,150 777.4,250 779.4,300 778.2,415 768.4,425 769.2,460 826.8,460 823.6,425 805.8,415 804.6,300 802.6,250 798.1,150 793.1,43"/><polygon points="880.9,43 885.8,150 890,250 889.5,290 887.9,330 888.7,400 889.7,460 940.3,460 939.3,400 936.1,330 928.5,290 920,250 912.2,150 905.1,43"/><polygon points="1001.6,43 1002,150 1001.5,250 999.9,300 997.2,330 995.8,400 995.5,460 1064.5,460 1060.2,400 1054.8,330 1048.2,300 1040.5,250 1032,150 1025.8,43"/></g><g fill="#2a96e8" filter="url(#bl3)" opacity="0.85"><polygon points="659.2,43 662.4,150 664.8,250 664.4,290 661.6,330 658.8,400 662,460 710,460 705.2,400 698.4,330 691.6,290 687.2,250 681.6,150 676.8,43"/><polygon points="773.6,43 777.6,150 781.2,250 783.2,300 782.4,415 776.8,425 778,460 818,460 815.2,425 801.6,415 800.8,300 798.8,250 794.4,150 789.6,43"/><polygon points="884.6,43 889.8,150 894.6,250 895.4,290 895.2,330 896.4,400 897.4,460 932.6,460 931.6,400 928.8,330 922.6,290 915.4,250 908.2,150 901.4,43"/><polygon points="1005.3,43 1006.6,150 1007.4,250 1007.2,300 1006,330 1005.6,400 1006,460 1054,460 1050.4,400 1046,330 1040.8,300 1034.6,250 1027.4,150 1022.1,43"/></g><polygon points="672,362 692,362 696,420 674,420" fill="#3a58f0" opacity="0.6" filter="url(#bl4)"/><clipPath id="cbs"><polygon points="659.2,43 662.4,150 664.8,250 664.4,290 661.6,330 658.8,400 662,460 710,460 705.2,400 698.4,330 691.6,290 687.2,250 681.6,150 676.8,43"/><polygon points="773.6,43 777.6,150 781.2,250 783.2,300 782.4,415 776.8,425 778,460 818,460 815.2,425 801.6,415 800.8,300 798.8,250 794.4,150 789.6,43"/><polygon points="884.6,43 889.8,150 894.6,250 895.4,290 895.2,330 896.4,400 897.4,460 932.6,460 931.6,400 928.8,330 922.6,290 915.4,250 908.2,150 901.4,43"/><polygon points="1005.3,43 1006.6,150 1007.4,250 1007.2,300 1006,330 1005.6,400 1006,460 1054,460 1050.4,400 1046,330 1040.8,300 1034.6,250 1027.4,150 1022.1,43"/></clipPath><g clip-path="url(#cbs)" filter="url(#bl1)"><rect x="627.8" y="43" width="422.3" height="416.8" filter="url(#nb4)"/><rect x="627.8" y="43" width="422.3" height="416.8" filter="url(#nb3)" opacity="0.6"/></g><g fill="#28b4c8" filter="url(#bl2)" stroke="#28b4c8" stroke-width="3" stroke-linejoin="round"><polygon points="794.6,258.5 785.8,275 781.9,292.7 772,296.6 715.6,378.5 716.6,381.4 766.3,386.3 772,396 782,417.5 787.8,424.3 795.6,411.6 805.3,399 856,396 858,392 840.4,355 860,316 854,312 817,309 815,300.5 806.3,296.5 803.4,279"/><polygon points="627,295 659,295 654.6,376 656.7,413.5 664,434.5 672,462 627,462"/><polygon points="1051,367.4 1038.7,373.7 1026,384 1001,396.8 984,401 980,409 992.6,428 975.8,461 1051,461"/><polygon points="1007.5,144.3 996.3,187.3 1032,174"/></g><g fill="#c8c040" filter="url(#bl1)"><polygon points="794.6,258.5 785.8,275 781.9,292.7 772,296.6 715.6,378.5 716.6,381.4 766.3,386.3 772,396 782,417.5 787.8,424.3 795.6,411.6 805.3,399 856,396 858,392 840.4,355 860,316 854,312 817,309 815,300.5 806.3,296.5 803.4,279"/><polygon points="627,295 659,295 654.6,376 656.7,413.5 664,434.5 672,462 627,462"/><polygon points="1051,367.4 1038.7,373.7 1026,384 1001,396.8 984,401 980,409 992.6,428 975.8,461 1051,461"/><polygon points="1007.5,144.3 996.3,187.3 1032,174"/></g><clipPath id="cbf"><polygon points="794.6,258.5 785.8,275 781.9,292.7 772,296.6 715.6,378.5 716.6,381.4 766.3,386.3 772,396 782,417.5 787.8,424.3 795.6,411.6 805.3,399 856,396 858,392 840.4,355 860,316 854,312 817,309 815,300.5 806.3,296.5 803.4,279"/><polygon points="627,295 659,295 654.6,376 656.7,413.5 664,434.5 672,462 627,462"/><polygon points="1051,367.4 1038.7,373.7 1026,384 1001,396.8 984,401 980,409 992.6,428 975.8,461 1051,461"/><polygon points="1007.5,144.3 996.3,187.3 1032,174"/></clipPath><g clip-path="url(#cbf)"><rect x="627.8" y="43" width="422.3" height="416.8" filter="url(#nb2)" opacity="0.9"/><rect x="627.8" y="43" width="422.3" height="416.8" filter="url(#nb3)" opacity="0.8"/></g><path d="M627 328.6H660" stroke="#30b0c0" stroke-width="1.6" opacity="0.8"/><g fill="#fbf020" filter="url(#bl1)"><polygon points="794.6,258.5 787,276 785,300 788,320 786,335 789,345 785,360 781,380 779,398 783,416 787.8,424.3 796,410 805,398 815,394 818,380 814,362 808,350 811,340 806,325 806,300 804,280"/><polygon points="668,462 667,440 672,428 684,420 692,419 698,430 702,445 705,462"/><polygon points="1051,367.4 1038.7,373.7 1026,384 1001,396.8 996,415 1010,420 1038,420 1040,445 1042,461 1051,461"/><polygon points="1007.5,144.3 1020,150 1030,172 1014,184 1006,184 1003,165"/><polygon points="781,118 786,113.5 793,116 796,124 794,134 788,141 783,134 780,126"/><polygon points="783,191 790,192 797,200 798,210 793,216 783,218 782,205"/><polygon points="910,305 918,300 925,305 924,315 912,313"/><polygon points="653,342 664,341.5 664,344 653,344.5"/><polygon points="670,355 678,354 678,358 670,359"/><polygon points="686,354 694,353.5 694,357 686,357.5"/><polygon points="912,352 917,352 917,357 912,357"/><polygon points="1003,352 1009,352 1009,358 1003,358"/><polygon points="1013,351 1019,351 1019,357 1013,357"/><polygon points="1021,350 1028,350 1028,357 1021,357"/></g><polygon points="733.5,262.8 734.5,265.6 737.5,265.7 735.2,267.5 736.0,270.4 733.5,268.8 731.0,270.4 731.8,267.5 729.5,265.7 732.5,265.6" fill="#fff"/><polygon points="795.6,286.7 796.5,289.1 799.0,289.2 797.0,290.8 797.7,293.2 795.6,291.8 793.5,293.2 794.2,290.8 792.2,289.2 794.7,289.1" fill="#1a1a90"/><rect x="977.5" y="414.6" width="63.7" height="5.8" fill="#000"/><text x="970.5" y="450.5" font-size="29" fill="#000" stroke="#000" stroke-width="0.5">6 µm</text></g><rect x="1059.9" y="43" width="19.8" height="416.8" fill="url(#par)" stroke="#333" stroke-width="0.6"/><text x="1087" y="50.8" font-size="22">1</text><text x="1087" y="134.2" font-size="22">0.8</text><text x="1087" y="217.5" font-size="22">0.6</text><text x="1087" y="300.9" font-size="22">0.4</text><text x="1087" y="384.2" font-size="22">0.2</text><text x="1087" y="467.6" font-size="22">0</text><path d="M1079.7 126.4h-4M1079.7 209.7h-4M1079.7 293.1h-4M1079.7 376.4h-4" stroke="#222" stroke-width="1"/><text transform="translate(1143.5 251.5) rotate(-90)" font-size="24" text-anchor="middle">PL (a. u)</text></g><g id="pc"><text x="1253.5" y="36" font-size="43" font-weight="bold">(c)</text><rect x="1344.8" y="57.8" width="447" height="387.9" fill="#fff" stroke="#8a8a8a" stroke-width="1.2"/><path d="M1408.7 445.7v-7M1536.6 445.7v-7M1664.5 445.7v-7M1344.8 438.5h8M1344.8 369.2h8M1344.8 299.9h8M1344.8 230.6h8M1344.8 161.3h8M1344.8 92h8M1414 57.8v7M1549.4 57.8v7M1684 57.8v7" stroke="#777" stroke-width="1.1" fill="none"/><polyline points="1344.8,438.5 1347.9,438.5 1351.1,438.5 1354.3,438.5 1357.5,438.5 1360.7,438.5 1363.9,438.5 1367.1,438.5 1370.3,438.5 1373.5,438.5 1376.7,438.5 1379.9,438.5 1383.1,438.5 1386.3,438.5 1389.5,438.5 1392.7,438.5 1395.9,438.5 1399.1,438.5 1402.3,438.5 1405.5,438.5 1408.7,438.5 1411.9,438.5 1415.1,438.5 1418.3,438.5 1421.5,438.5 1424.7,438.5 1427.9,438.5 1431.1,438.5 1434.3,438.5 1437.5,438.5 1440.7,438.4 1443.9,438.3 1447.1,438.1 1450.3,437.9 1453.5,437.4 1456.7,436.6 1459.9,435.5 1463.1,433.8 1466.3,431.4 1469.5,428.2 1472.7,424.1 1475.8,418.9 1479,412.9 1482.2,406.1 1485.4,399 1488.6,392 1491.8,385.7 1495,380.6 1498.2,377.2 1501.4,375.8 1504.6,376.6 1507.8,379.6 1511,384.3 1514.2,390.4 1517.4,397.3 1520.6,404.5 1523.8,411.3 1527,417.6 1530.2,422.9 1533.4,427.3 1536.6,430.8 1539.8,433.3 1543,435.2 1546.2,436.4 1549.4,437.2 1552.6,437.8 1555.8,438.1 1559,438.3 1562.2,438.4 1565.4,438.4 1568.6,438.5 1571.8,438.5 1575,438.5 1578.2,438.5 1581.4,438.5 1584.6,438.5 1587.8,438.5 1591,438.5 1594.2,438.5 1597.4,438.5 1600.5,438.5 1603.7,438.5 1606.9,438.5 1610.1,438.5 1613.3,438.5 1616.5,438.5 1619.7,438.5 1622.9,438.5 1626.1,438.5 1629.3,438.5 1632.5,438.5 1635.7,438.5 1638.9,438.5 1642.1,438.5 1645.3,438.5 1648.5,438.5 1651.7,438.5 1654.9,438.5 1658.1,438.5 1661.3,438.5 1664.5,438.5 1667.7,438.5 1670.9,438.5 1674.1,438.5 1677.3,438.5 1680.5,438.5 1683.7,438.5 1686.9,438.5 1690.1,438.5 1693.3,438.5 1696.5,438.5 1699.7,438.5 1702.9,438.5 1706.1,438.5 1709.3,438.5 1712.5,438.5 1715.7,438.5 1718.9,438.5 1722.1,438.5 1725.3,438.5 1728.5,438.5 1731.6,438.5 1734.8,438.5 1738,438.5 1741.2,438.5 1744.4,438.5 1747.6,438.5 1750.8,438.5 1754,438.5 1757.2,438.5 1760.4,438.5 1763.6,438.5 1766.8,438.5 1770,438.5 1773.2,438.5 1776.4,438.5 1779.6,438.5 1782.8,438.5 1786,438.5 1789.2,438.5 1792.4,438.5" fill="none" stroke="#c8141e" stroke-width="2" stroke-dasharray="6 2.5 1.8 2.5"/><polyline points="1344.8,438.5 1347.9,438.5 1351.1,438.5 1354.3,438.5 1357.5,438.5 1360.7,438.5 1363.9,438.5 1367.1,438.5 1370.3,438.5 1373.5,438.5 1376.7,438.5 1379.9,438.5 1383.1,438.5 1386.3,438.5 1389.5,438.5 1392.7,438.5 1395.9,438.5 1399.1,438.5 1402.3,438.5 1405.5,438.5 1408.7,438.5 1411.9,438.5 1415.1,438.5 1418.3,438.5 1421.5,438.5 1424.7,438.5 1427.9,438.5 1431.1,438.5 1434.3,438.5 1437.5,438.5 1440.7,438.5 1443.9,438.5 1447.1,438.5 1450.3,438.5 1453.5,438.5 1456.7,438.5 1459.9,438.5 1463.1,438.4 1466.3,438.4 1469.5,438.4 1472.7,438.3 1475.8,438.2 1479,438 1482.2,437.8 1485.4,437.5 1488.6,437 1491.8,436.3 1495,435.5 1498.2,434.3 1501.4,432.7 1504.6,430.7 1507.8,428 1511,424.6 1514.2,420.3 1517.4,415 1520.6,408.5 1523.8,400.7 1527,391.5 1530.2,380.7 1533.4,368.3 1536.6,354.2 1539.8,338.6 1543,321.5 1546.2,303.2 1549.4,283.9 1552.6,263.9 1555.8,243.9 1559,224.1 1562.2,205.2 1565.4,187.8 1568.6,172.3 1571.8,159.2 1575,149.2 1578.2,142.4 1581.4,139.1 1584.6,139.4 1587.8,143.4 1591,150.9 1594.2,161.6 1597.4,175.2 1600.5,191.1 1603.7,208.9 1606.9,228 1610.1,247.9 1613.3,268 1616.5,287.8 1619.7,306.9 1622.9,325 1626.1,341.8 1629.3,357.2 1632.5,370.9 1635.7,383 1638.9,393.5 1642.1,402.4 1645.3,409.9 1648.5,416.2 1651.7,421.2 1654.9,425.3 1658.1,428.6 1661.3,431.1 1664.5,433.1 1667.7,434.5 1670.9,435.7 1674.1,436.5 1677.3,437.1 1680.5,437.5 1683.7,437.8 1686.9,438.1 1690.1,438.2 1693.3,438.3 1696.5,438.4 1699.7,438.4 1702.9,438.4 1706.1,438.5 1709.3,438.5 1712.5,438.5 1715.7,438.5 1718.9,438.5 1722.1,438.5 1725.3,438.5 1728.5,438.5 1731.6,438.5 1734.8,438.5 1738,438.5 1741.2,438.5 1744.4,438.5 1747.6,438.5 1750.8,438.5 1754,438.5 1757.2,438.5 1760.4,438.5 1763.6,438.5 1766.8,438.5 1770,438.5 1773.2,438.5 1776.4,438.5 1779.6,438.5 1782.8,438.5 1786,438.5 1789.2,438.5 1792.4,438.5" fill="none" stroke="#c8141e" stroke-width="2" stroke-dasharray="6 2.5 1.8 2.5"/><polyline points="1344.8,436.9 1354,435.3 1364,433.7 1372,432.9 1380,435.7 1392,435.3 1400,433.7 1403.9,423.7 1405.9,416.9 1408.7,411.7 1411.9,412.1 1415.1,416.9 1417.9,417.7 1419.9,412.9 1422.3,411.7 1424.7,415.7 1427.1,420.1 1435.9,420.9 1441.9,418.5 1447.9,413.7 1453.9,409.7 1459.9,404.9 1465.9,400.1 1471.9,393.7 1477.9,383.7 1481.9,375.7 1484.7,368.9 1488.7,366.9 1493.9,364.5 1499.9,357.8 1505.9,353.8 1511.9,350.6 1517.9,351.8 1523.9,351 1528.6,349.8 1532.6,346.6 1537,340.2 1541,327.8 1544.6,311.8 1548.6,293.8 1553.8,261.8 1559,229.9 1563.8,197.9 1568.6,165.9 1572.6,137.9 1575.8,117.9 1578.2,109.2 1581,105.2 1583.8,106.8 1586.2,110 1588.6,119.9 1591.8,137.9 1595.8,165.9 1599.8,191.9 1603.8,217.9 1607.8,241.8 1611.8,265.8 1615.8,286.6 1619.8,305.8 1623.8,323 1627.8,337.8 1631.8,350.6 1635.8,361.8 1639.8,371.7 1643.8,379.7 1649.8,389.7 1655.7,397.7 1661.7,404.5 1667.7,409.7 1675.7,414.5 1683.7,417.7 1691.7,421.7 1699.7,423.7 1709.7,426.5 1719.7,427.7 1727.7,429.7 1735.7,431.7 1738.9,429.7 1741.3,428.5 1743.7,432.9 1746.1,435.7 1753.7,434.5 1759.7,432.9 1765.7,435.7 1775.7,435.7 1779.6,432.9 1784.4,435.7 1791.6,436.1" fill="none" stroke="#0a5fc0" stroke-width="2.6" stroke-linejoin="round"/><polyline points="1344.8,437.7 1350,436.9 1356,434.5 1362,432.9 1368,432.5 1374,434.5 1380,435.7 1390,435.3 1400,434.5 1402.7,428.9 1405.1,422.5 1408.7,415.7 1411.1,418.5 1413.9,423.7 1417.1,424.9 1419.9,424.1 1423.1,425.7 1425.9,428.1 1429.9,432.1 1433.9,434.9 1439.9,436.1 1444.7,433.7 1449.9,434.9 1459.9,435.7 1471.9,435.3 1481.9,434.5 1484.7,427.7 1486.7,425.7 1489.5,429.7 1493.1,435.3 1497.9,434.5 1503.9,432.9 1509.9,432.1 1514.7,430.5 1519.9,433.7 1525.9,432.9 1531.8,432.9 1536.6,430.9 1541.8,430.1 1547.8,431.7 1552.6,430.5 1556.6,429.7 1560.6,432.9 1564.6,434.9 1579.8,435.7 1599.8,434.9 1619.8,434.5 1629.8,434.5 1639.8,436.1 1649.8,435.3 1659.7,434.5 1679.7,435.7 1699.7,436.5 1719.7,436.1 1735.7,436.5 1738.9,432.1 1741.3,429.7 1743.7,433.7 1745.7,436.5 1763.7,436.1 1779.6,435.7 1791.6,436.9" fill="none" stroke="#0a0505" stroke-width="2.8" stroke-linejoin="round"/><rect x="1667.5" y="65.8" width="116.9" height="90" fill="#fff" stroke="#777" stroke-width="1.2"/><path d="M1670.6 83.3h30.2" stroke="#0a5fc0" stroke-width="2.4"/><path d="M1670.6 115.5h30.2" stroke="#0a0505" stroke-width="2.8"/><path d="M1670.6 143.6h30.2" stroke="#b8142a" stroke-width="2" stroke-dasharray="6 2 1.8 2"/><text x="1703" y="85.7" font-size="19.7">on MoS<tspan dy="10.5" font-size="15.5">2</tspan></text><text x="1703" y="117.8" font-size="19.7">on SiO<tspan dy="10" font-size="15.5">2</tspan></text><text x="1703.5" y="150" font-size="19.7">Fit</text><text x="1408.7" y="472" font-size="19.5" text-anchor="middle">550</text><text x="1536.6" y="472" font-size="19.5" text-anchor="middle">650</text><text x="1664.5" y="472" font-size="19.5" text-anchor="middle">750</text><text x="1789.4" y="472" font-size="19.5" text-anchor="middle">850</text><text x="1338" y="446.1" font-size="19.5" text-anchor="end">0</text><text x="1338" y="376.8" font-size="19.5" text-anchor="end">0.2</text><text x="1338" y="307.5" font-size="19.5" text-anchor="end">0.4</text><text x="1338" y="238.2" font-size="19.5" text-anchor="end">0.6</text><text x="1338" y="168.9" font-size="19.5" text-anchor="end">0.8</text><text x="1338" y="99.6" font-size="19.5" text-anchor="end">1</text><text x="1568.5" y="493.5" font-size="20" text-anchor="middle">Wavelength (nm)</text><text x="1568.5" y="24.3" font-size="20" text-anchor="middle">Energy (eV)</text><text x="1414" y="49" font-size="19.5" text-anchor="middle">2.2</text><text x="1550.5" y="49" font-size="19.5" text-anchor="middle">1.9</text><text x="1684" y="49" font-size="19.5" text-anchor="middle">1.6</text><text transform="translate(1305 251.5) rotate(-90)" font-size="20.1" text-anchor="middle">PL Intensity (a.u.)</text></g><g id="pd"><text x="0.5" y="567.5" font-size="43" font-weight="bold">(d)</text><rect x="30.3" y="583.6" width="392.7" height="401" fill="#3e28aa"/><clipPath id="cd"><rect x="30.3" y="583.6" width="392.7" height="401"/></clipPath><g clip-path="url(#cd)"><g filter="url(#bl1)"><path fill="#4755f6" d="M235.4 644.6h4.7v4.7h-4.7zM235.4 649h4.7v4.7h-4.7zM56.5 731.8h4.7v4.7h-4.7zM130.7 736.2h4.7v4.7h-4.7zM65.2 740.5h4.7v4.7h-4.7zM73.9 740.5h4.7v4.7h-4.7zM104.5 740.5h4.7v4.7h-4.7zM121.9 740.5h4.7v4.7h-4.7zM39 744.9h4.7v4.7h-4.7zM69.6 744.9h13.4v4.7h-13.4zM104.5 744.9h9v4.7h-9zM34.7 749.2h4.7v4.7h-4.7zM69.6 749.2h4.7v4.7h-4.7zM82.7 749.2h9v4.7h-9zM104.5 749.2h9v4.7h-9zM248.5 749.2h4.7v4.7h-4.7zM30.3 753.6h9v4.7h-9zM69.6 753.6h4.7v4.7h-4.7zM78.3 753.6h4.7v4.7h-4.7zM143.7 753.6h4.7v4.7h-4.7zM231 753.6h4.7v4.7h-4.7zM73.9 757.9h4.7v4.7h-4.7zM135 757.9h9v4.7h-9zM226.7 757.9h4.7v4.7h-4.7zM135 762.3h22.1v4.7h-22.1zM257.2 762.3h9v4.7h-9zM270.3 762.3h4.7v4.7h-4.7zM161.2 766.7h4.7v4.7h-4.7zM217.9 766.7h4.7v4.7h-4.7zM226.7 766.7h4.7v4.7h-4.7zM252.8 766.7h17.8v4.7h-17.8zM165.6 771h4.7v4.7h-4.7zM217.9 771h17.8v4.7h-17.8zM257.2 771h9v4.7h-9zM135 775.4h9v4.7h-9zM165.6 775.4h4.7v4.7h-4.7zM213.6 775.4h4.7v4.7h-4.7zM222.3 775.4h4.7v4.7h-4.7zM261.6 775.4h4.7v4.7h-4.7zM135 779.7h13.4v4.7h-13.4zM209.2 779.7h17.8v4.7h-17.8zM231 779.7h4.7v4.7h-4.7zM139.4 784.1h9v4.7h-9zM204.8 784.1h9v4.7h-9zM217.9 784.1h9v4.7h-9zM231 784.1h4.7v4.7h-4.7zM252.8 784.1h4.7v4.7h-4.7zM261.6 784.1h4.7v4.7h-4.7zM139.4 788.5h9v4.7h-9zM213.6 788.5h13.4v4.7h-13.4zM231 788.5h4.7v4.7h-4.7zM257.2 788.5h9v4.7h-9zM139.4 792.8h9v4.7h-9zM370.6 797.2h4.7v4.7h-4.7zM379.4 797.2h4.7v4.7h-4.7zM379.4 801.5h9v4.7h-9zM135 805.9h4.7v4.7h-4.7zM152.5 805.9h9v4.7h-9zM353.2 805.9h4.7v4.7h-4.7zM379.4 805.9h9v4.7h-9zM30.3 810.3h9v4.7h-9zM139.4 810.3h13.4v4.7h-13.4zM156.8 810.3h4.7v4.7h-4.7zM383.7 810.3h9v4.7h-9zM156.8 814.6h4.7v4.7h-4.7zM165.6 814.6h4.7v4.7h-4.7zM388.1 814.6h4.7v4.7h-4.7zM148.1 819h17.8v4.7h-17.8zM383.7 819h13.4v4.7h-13.4zM130.7 823.3h4.7v4.7h-4.7zM139.4 823.3h9v4.7h-9zM161.2 823.3h4.7v4.7h-4.7zM383.7 823.3h13.4v4.7h-13.4zM87 827.7h9v4.7h-9zM130.7 827.7h9v4.7h-9zM161.2 827.7h4.7v4.7h-4.7zM348.8 827.7h4.7v4.7h-4.7zM392.5 827.7h9v4.7h-9zM82.7 832h13.4v4.7h-13.4zM161.2 832h4.7v4.7h-4.7zM348.8 832h4.7v4.7h-4.7zM392.5 832h13.4v4.7h-13.4zM91.4 836.4h4.7v4.7h-4.7zM392.5 836.4h13.4v4.7h-13.4zM65.2 840.8h4.7v4.7h-4.7zM82.7 840.8h9v4.7h-9zM130.7 840.8h26.5v4.7h-26.5zM392.5 840.8h4.7v4.7h-4.7zM401.2 840.8h9v4.7h-9zM87 845.1h4.7v4.7h-4.7zM156.8 845.1h4.7v4.7h-4.7zM340.1 845.1h4.7v4.7h-4.7zM392.5 845.1h4.7v4.7h-4.7zM401.2 845.1h4.7v4.7h-4.7zM418.6 845.1h4.7v4.7h-4.7zM335.7 849.5h13.4v4.7h-13.4zM148.1 853.8h4.7v4.7h-4.7zM335.7 853.8h9v4.7h-9zM396.8 853.8h4.7v4.7h-4.7zM78.3 858.2h4.7v4.7h-4.7zM331.4 858.2h13.4v4.7h-13.4zM409.9 858.2h9v4.7h-9zM331.4 862.6h13.4v4.7h-13.4zM409.9 862.6h9v4.7h-9zM331.4 866.9h13.4v4.7h-13.4zM414.3 866.9h4.7v4.7h-4.7zM340.1 871.3h4.7v4.7h-4.7zM414.3 871.3h4.7v4.7h-4.7zM414.3 875.6h9v4.7h-9zM331.4 880h9v4.7h-9zM418.6 880h4.7v4.7h-4.7zM331.4 884.4h4.7v4.7h-4.7zM414.3 884.4h4.7v4.7h-4.7zM331.4 888.7h4.7v4.7h-4.7zM327 893.1h4.7v4.7h-4.7zM414.3 893.1h4.7v4.7h-4.7zM322.6 897.4h9v4.7h-9zM322.6 901.8h4.7v4.7h-4.7zM409.9 901.8h4.7v4.7h-4.7zM405.5 906.1h4.7v4.7h-4.7zM414.3 906.1h4.7v4.7h-4.7zM313.9 910.5h4.7v4.7h-4.7zM401.2 914.9h4.7v4.7h-4.7zM292.1 919.2h4.7v4.7h-4.7zM318.3 919.2h4.7v4.7h-4.7zM335.7 919.2h4.7v4.7h-4.7zM409.9 919.2h9v4.7h-9zM313.9 923.6h9v4.7h-9zM335.7 923.6h9v4.7h-9zM405.5 923.6h13.4v4.7h-13.4zM309.6 927.9h17.8v4.7h-17.8zM340.1 927.9h4.7v4.7h-4.7zM396.8 927.9h4.7v4.7h-4.7zM405.5 927.9h13.4v4.7h-13.4zM322.6 932.3h22.1v4.7h-22.1zM396.8 932.3h13.4v4.7h-13.4zM331.4 936.7h9v4.7h-9zM344.5 936.7h4.7v4.7h-4.7zM401.2 936.7h4.7v4.7h-4.7zM331.4 941h17.8v4.7h-17.8zM392.5 941h4.7v4.7h-4.7zM335.7 945.4h13.4v4.7h-13.4zM396.8 945.4h4.7v4.7h-4.7zM348.8 949.7h4.7v4.7h-4.7zM348.8 954.1h4.7v4.7h-4.7zM396.8 954.1h4.7v4.7h-4.7zM348.8 958.4h4.7v4.7h-4.7zM388.1 958.4h9v4.7h-9zM375 962.8h4.7v4.7h-4.7zM375 967.2h4.7v4.7h-4.7zM392.5 967.2h4.7v4.7h-4.7zM348.8 971.5h4.7v4.7h-4.7zM379.4 971.5h17.8v4.7h-17.8zM379.4 975.9h13.4v4.7h-13.4z"/><path fill="#4367fd" d="M239.7 644.6h4.7v4.7h-4.7zM357.6 675.1h4.7v4.7h-4.7zM95.8 736.2h9v4.7h-9zM43.4 740.5h4.7v4.7h-4.7zM82.7 740.5h9v4.7h-9zM95.8 740.5h4.7v4.7h-4.7zM126.3 740.5h17.8v4.7h-17.8zM43.4 744.9h4.7v4.7h-4.7zM126.3 744.9h9v4.7h-9zM143.7 744.9h4.7v4.7h-4.7zM65.2 749.2h4.7v4.7h-4.7zM130.7 749.2h17.8v4.7h-17.8zM39 753.6h4.7v4.7h-4.7zM65.2 753.6h4.7v4.7h-4.7zM95.8 753.6h9v4.7h-9zM126.3 753.6h4.7v4.7h-4.7zM34.7 757.9h4.7v4.7h-4.7zM87 757.9h13.4v4.7h-13.4zM130.7 757.9h4.7v4.7h-4.7zM73.9 762.3h4.7v4.7h-4.7zM91.4 762.3h4.7v4.7h-4.7zM231 762.3h4.7v4.7h-4.7zM78.3 766.7h4.7v4.7h-4.7zM87 766.7h4.7v4.7h-4.7zM143.7 766.7h4.7v4.7h-4.7zM143.7 771h17.8v4.7h-17.8zM30.3 775.4h4.7v4.7h-4.7zM148.1 775.4h9v4.7h-9zM30.3 779.7h4.7v4.7h-4.7zM152.5 779.7h9v4.7h-9zM152.5 784.1h4.7v4.7h-4.7zM161.2 784.1h4.7v4.7h-4.7zM152.5 788.5h4.7v4.7h-4.7zM161.2 788.5h4.7v4.7h-4.7zM95.8 792.8h4.7v4.7h-4.7zM152.5 792.8h9v4.7h-9zM95.8 797.2h4.7v4.7h-4.7zM135 797.2h4.7v4.7h-4.7zM152.5 797.2h4.7v4.7h-4.7zM161.2 797.2h4.7v4.7h-4.7zM231 797.2h4.7v4.7h-4.7zM30.3 801.5h9v4.7h-9zM135 801.5h17.8v4.7h-17.8zM156.8 801.5h4.7v4.7h-4.7zM165.6 801.5h4.7v4.7h-4.7zM34.7 805.9h9v4.7h-9zM143.7 805.9h4.7v4.7h-4.7zM161.2 805.9h9v4.7h-9zM39 810.3h4.7v4.7h-4.7zM244.1 810.3h4.7v4.7h-4.7zM91.4 814.6h4.7v4.7h-4.7zM130.7 814.6h4.7v4.7h-4.7zM348.8 814.6h4.7v4.7h-4.7zM91.4 819h9v4.7h-9zM348.8 819h4.7v4.7h-4.7zM78.3 823.3h13.4v4.7h-13.4zM100.1 823.3h4.7v4.7h-4.7zM73.9 827.7h9v4.7h-9zM104.5 827.7h4.7v4.7h-4.7zM148.1 827.7h13.4v4.7h-13.4zM69.6 832h9v4.7h-9zM148.1 832h13.4v4.7h-13.4zM383.7 832h4.7v4.7h-4.7zM65.2 836.4h4.7v4.7h-4.7zM73.9 836.4h4.7v4.7h-4.7zM73.9 840.8h9v4.7h-9zM73.9 845.1h4.7v4.7h-4.7zM82.7 845.1h4.7v4.7h-4.7zM409.9 845.1h4.7v4.7h-4.7zM82.7 849.5h4.7v4.7h-4.7zM148.1 849.5h4.7v4.7h-4.7zM405.5 849.5h13.4v4.7h-13.4zM82.7 853.8h4.7v4.7h-4.7zM405.5 853.8h4.7v4.7h-4.7zM396.8 858.2h4.7v4.7h-4.7zM344.5 862.6h4.7v4.7h-4.7zM340.1 880h4.7v4.7h-4.7zM405.5 880h4.7v4.7h-4.7zM335.7 888.7h4.7v4.7h-4.7zM335.7 893.1h4.7v4.7h-4.7zM331.4 897.4h4.7v4.7h-4.7zM405.5 897.4h4.7v4.7h-4.7zM331.4 901.8h4.7v4.7h-4.7zM401.2 901.8h4.7v4.7h-4.7zM327 906.1h4.7v4.7h-4.7zM388.1 906.1h4.7v4.7h-4.7zM401.2 906.1h4.7v4.7h-4.7zM322.6 910.5h17.8v4.7h-17.8zM401.2 910.5h4.7v4.7h-4.7zM313.9 914.9h4.7v4.7h-4.7zM340.1 914.9h9v4.7h-9zM396.8 914.9h4.7v4.7h-4.7zM392.5 919.2h9v4.7h-9zM344.5 923.6h4.7v4.7h-4.7zM383.7 923.6h13.4v4.7h-13.4zM344.5 927.9h4.7v4.7h-4.7zM383.7 927.9h4.7v4.7h-4.7zM344.5 932.3h4.7v4.7h-4.7zM348.8 936.7h4.7v4.7h-4.7zM348.8 941h4.7v4.7h-4.7zM392.5 949.7h4.7v4.7h-4.7zM353.2 954.1h4.7v4.7h-4.7zM388.1 954.1h4.7v4.7h-4.7zM353.2 962.8h4.7v4.7h-4.7zM370.6 962.8h4.7v4.7h-4.7zM348.8 967.2h13.4v4.7h-13.4zM353.2 971.5h13.4v4.7h-13.4zM353.2 975.9h13.4v4.7h-13.4z"/><path fill="#412dbb" d="M244.1 644.6h4.7v4.7h-4.7zM244.1 649h4.7v4.7h-4.7zM361.9 666.4h4.7v4.7h-4.7zM353.2 675.1h4.7v4.7h-4.7zM370.6 675.1h4.7v4.7h-4.7zM353.2 679.5h4.7v4.7h-4.7zM370.6 679.5h4.7v4.7h-4.7zM235.4 688.2h4.7v4.7h-4.7zM357.6 688.2h4.7v4.7h-4.7zM366.3 688.2h4.7v4.7h-4.7zM244.1 692.6h4.7v4.7h-4.7zM235.4 696.9h4.7v4.7h-4.7zM239.7 723.1h4.7v4.7h-4.7zM47.8 731.8h4.7v4.7h-4.7zM65.2 731.8h4.7v4.7h-4.7zM91.4 731.8h4.7v4.7h-4.7zM100.1 731.8h4.7v4.7h-4.7zM135 731.8h9v4.7h-9zM39 736.2h4.7v4.7h-4.7zM73.9 736.2h9v4.7h-9zM108.8 736.2h13.4v4.7h-13.4zM30.3 744.9h4.7v4.7h-4.7zM248.5 744.9h4.7v4.7h-4.7zM226.7 749.2h4.7v4.7h-4.7zM152.5 753.6h4.7v4.7h-4.7zM222.3 753.6h4.7v4.7h-4.7zM252.8 753.6h4.7v4.7h-4.7zM156.8 757.9h4.7v4.7h-4.7zM217.9 757.9h4.7v4.7h-4.7zM279 757.9h4.7v4.7h-4.7zM161.2 762.3h4.7v4.7h-4.7zM309.6 762.3h4.7v4.7h-4.7zM169.9 766.7h4.7v4.7h-4.7zM169.9 771h4.7v4.7h-4.7zM209.2 771h4.7v4.7h-4.7zM270.3 771h4.7v4.7h-4.7zM169.9 775.4h4.7v4.7h-4.7zM265.9 784.1h4.7v4.7h-4.7zM383.7 788.5h4.7v4.7h-4.7zM209.2 792.8h13.4v4.7h-13.4zM270.3 792.8h4.7v4.7h-4.7zM226.7 797.2h4.7v4.7h-4.7zM388.1 797.2h4.7v4.7h-4.7zM169.9 801.5h4.7v4.7h-4.7zM257.2 805.9h22.1v4.7h-22.1zM348.8 805.9h4.7v4.7h-4.7zM392.5 805.9h4.7v4.7h-4.7zM174.3 810.3h4.7v4.7h-4.7zM231 810.3h4.7v4.7h-4.7zM248.5 810.3h4.7v4.7h-4.7zM187.4 814.6h4.7v4.7h-4.7zM244.1 814.6h4.7v4.7h-4.7zM30.3 819h4.7v4.7h-4.7zM235.4 819h4.7v4.7h-4.7zM34.7 823.3h4.7v4.7h-4.7zM39 827.7h4.7v4.7h-4.7zM401.2 827.7h4.7v4.7h-4.7zM43.4 832h4.7v4.7h-4.7zM100.1 832h4.7v4.7h-4.7zM340.1 832h4.7v4.7h-4.7zM405.5 832h4.7v4.7h-4.7zM47.8 836.4h4.7v4.7h-4.7zM165.6 836.4h4.7v4.7h-4.7zM340.1 836.4h4.7v4.7h-4.7zM52.1 840.8h4.7v4.7h-4.7zM121.9 840.8h4.7v4.7h-4.7zM165.6 840.8h4.7v4.7h-4.7zM91.4 845.1h4.7v4.7h-4.7zM104.5 845.1h4.7v4.7h-4.7zM117.6 845.1h4.7v4.7h-4.7zM130.7 845.1h4.7v4.7h-4.7zM161.2 845.1h9v4.7h-9zM69.6 849.5h4.7v4.7h-4.7zM91.4 849.5h4.7v4.7h-4.7zM104.5 853.8h4.7v4.7h-4.7zM117.6 853.8h4.7v4.7h-4.7zM73.9 858.2h4.7v4.7h-4.7zM327 858.2h4.7v4.7h-4.7zM327 862.6h4.7v4.7h-4.7zM322.6 884.4h4.7v4.7h-4.7zM318.3 893.1h4.7v4.7h-4.7zM309.6 897.4h4.7v4.7h-4.7zM313.9 901.8h4.7v4.7h-4.7zM292.1 923.6h4.7v4.7h-4.7zM305.2 932.3h9v4.7h-9zM313.9 936.7h4.7v4.7h-4.7zM405.5 936.7h17.8v4.7h-17.8zM318.3 945.4h4.7v4.7h-4.7zM340.1 949.7h4.7v4.7h-4.7zM401.2 954.1h4.7v4.7h-4.7zM344.5 962.8h4.7v4.7h-4.7zM344.5 967.2h4.7v4.7h-4.7zM396.8 971.5h4.7v4.7h-4.7zM348.8 980.2h4.7v4.7h-4.7zM392.5 980.2h4.7v4.7h-4.7z"/><path fill="#347afd" d="M239.7 649h4.7v4.7h-4.7zM366.3 679.5h4.7v4.7h-4.7zM60.8 740.5h4.7v4.7h-4.7zM100.1 757.9h4.7v4.7h-4.7zM34.7 762.3h4.7v4.7h-4.7zM30.3 766.7h4.7v4.7h-4.7zM73.9 766.7h4.7v4.7h-4.7zM91.4 766.7h9v4.7h-9zM78.3 771h4.7v4.7h-4.7zM95.8 771h4.7v4.7h-4.7zM78.3 775.4h9v4.7h-9zM95.8 775.4h4.7v4.7h-4.7zM34.7 779.7h4.7v4.7h-4.7zM73.9 779.7h4.7v4.7h-4.7zM82.7 779.7h9v4.7h-9zM95.8 779.7h4.7v4.7h-4.7zM34.7 784.1h4.7v4.7h-4.7zM73.9 784.1h4.7v4.7h-4.7zM87 784.1h4.7v4.7h-4.7zM95.8 784.1h4.7v4.7h-4.7zM30.3 788.5h4.7v4.7h-4.7zM73.9 788.5h4.7v4.7h-4.7zM82.7 788.5h9v4.7h-9zM100.1 788.5h4.7v4.7h-4.7zM30.3 792.8h9v4.7h-9zM73.9 792.8h17.8v4.7h-17.8zM39 797.2h4.7v4.7h-4.7zM82.7 797.2h9v4.7h-9zM73.9 801.5h4.7v4.7h-4.7zM87 801.5h9v4.7h-9zM87 805.9h13.4v4.7h-13.4zM78.3 810.3h4.7v4.7h-4.7zM87 810.3h4.7v4.7h-4.7zM95.8 810.3h4.7v4.7h-4.7zM353.2 810.3h4.7v4.7h-4.7zM73.9 814.6h9v4.7h-9zM87 814.6h4.7v4.7h-4.7zM87 819h4.7v4.7h-4.7zM43.4 823.3h4.7v4.7h-4.7zM379.4 832h4.7v4.7h-4.7zM187.4 836.4h4.7v4.7h-4.7zM379.4 836.4h4.7v4.7h-4.7zM379.4 840.8h4.7v4.7h-4.7zM379.4 845.1h4.7v4.7h-4.7zM383.7 858.2h9v4.7h-9zM392.5 862.6h9v4.7h-9zM392.5 866.9h13.4v4.7h-13.4zM344.5 871.3h4.7v4.7h-4.7zM383.7 871.3h9v4.7h-9zM388.1 880h13.4v4.7h-13.4zM396.8 884.4h4.7v4.7h-4.7zM340.1 888.7h9v4.7h-9zM396.8 888.7h9v4.7h-9zM344.5 893.1h4.7v4.7h-4.7zM396.8 893.1h4.7v4.7h-4.7zM335.7 897.4h4.7v4.7h-4.7zM392.5 897.4h4.7v4.7h-4.7zM335.7 901.8h9v4.7h-9zM340.1 906.1h4.7v4.7h-4.7zM383.7 914.9h13.4v4.7h-13.4zM348.8 923.6h4.7v4.7h-4.7zM348.8 927.9h4.7v4.7h-4.7zM383.7 932.3h9v4.7h-9zM388.1 936.7h4.7v4.7h-4.7zM353.2 941h4.7v4.7h-4.7zM383.7 941h9v4.7h-9zM353.2 945.4h4.7v4.7h-4.7zM379.4 945.4h4.7v4.7h-4.7zM388.1 945.4h4.7v4.7h-4.7zM388.1 949.7h4.7v4.7h-4.7zM357.6 958.4h4.7v4.7h-4.7zM361.9 962.8h9v4.7h-9z"/><path fill="#463adc" d="M357.6 670.8h4.7v4.7h-4.7zM366.3 670.8h4.7v4.7h-4.7zM361.9 688.2h4.7v4.7h-4.7zM204.8 779.7h4.7v4.7h-4.7zM165.6 788.5h4.7v4.7h-4.7zM265.9 788.5h4.7v4.7h-4.7zM165.6 792.8h4.7v4.7h-4.7zM383.7 792.8h4.7v4.7h-4.7zM252.8 797.2h4.7v4.7h-4.7zM270.3 797.2h4.7v4.7h-4.7zM366.3 797.2h4.7v4.7h-4.7zM252.8 801.5h4.7v4.7h-4.7zM388.1 801.5h4.7v4.7h-4.7zM169.9 810.3h4.7v4.7h-4.7zM392.5 810.3h4.7v4.7h-4.7zM239.7 819h4.7v4.7h-4.7zM187.4 823.3h4.7v4.7h-4.7zM95.8 832h4.7v4.7h-4.7zM165.6 832h4.7v4.7h-4.7zM409.9 836.4h4.7v4.7h-4.7zM161.2 840.8h4.7v4.7h-4.7zM331.4 849.5h4.7v4.7h-4.7zM82.7 858.2h4.7v4.7h-4.7zM327 871.3h4.7v4.7h-4.7zM327 875.6h4.7v4.7h-4.7zM322.6 888.7h4.7v4.7h-4.7zM313.9 932.3h4.7v4.7h-4.7zM401.2 945.4h4.7v4.7h-4.7zM396.8 962.8h4.7v4.7h-4.7zM379.4 980.2h9v4.7h-9z"/><path fill="#3d70ff" d="M361.9 670.8h4.7v4.7h-4.7zM366.3 675.1h4.7v4.7h-4.7zM357.6 679.5h4.7v4.7h-4.7zM135 744.9h9v4.7h-9zM43.4 749.2h4.7v4.7h-4.7zM121.9 749.2h9v4.7h-9zM69.6 757.9h4.7v4.7h-4.7zM126.3 757.9h4.7v4.7h-4.7zM30.3 762.3h4.7v4.7h-4.7zM95.8 762.3h4.7v4.7h-4.7zM34.7 766.7h4.7v4.7h-4.7zM30.3 771h9v4.7h-9zM82.7 771h13.4v4.7h-13.4zM34.7 775.4h4.7v4.7h-4.7zM87 775.4h9v4.7h-9zM78.3 779.7h4.7v4.7h-4.7zM91.4 779.7h4.7v4.7h-4.7zM30.3 784.1h4.7v4.7h-4.7zM78.3 784.1h9v4.7h-9zM91.4 784.1h4.7v4.7h-4.7zM156.8 784.1h4.7v4.7h-4.7zM78.3 788.5h4.7v4.7h-4.7zM91.4 788.5h9v4.7h-9zM156.8 788.5h4.7v4.7h-4.7zM91.4 792.8h4.7v4.7h-4.7zM100.1 792.8h4.7v4.7h-4.7zM30.3 797.2h9v4.7h-9zM91.4 797.2h4.7v4.7h-4.7zM100.1 797.2h4.7v4.7h-4.7zM156.8 797.2h4.7v4.7h-4.7zM39 801.5h4.7v4.7h-4.7zM95.8 801.5h4.7v4.7h-4.7zM161.2 801.5h4.7v4.7h-4.7zM73.9 805.9h4.7v4.7h-4.7zM73.9 810.3h4.7v4.7h-4.7zM91.4 810.3h4.7v4.7h-4.7zM130.7 810.3h4.7v4.7h-4.7zM95.8 814.6h9v4.7h-9zM100.1 819h4.7v4.7h-4.7zM73.9 823.3h4.7v4.7h-4.7zM69.6 827.7h4.7v4.7h-4.7zM379.4 827.7h4.7v4.7h-4.7zM65.2 832h4.7v4.7h-4.7zM60.8 836.4h4.7v4.7h-4.7zM383.7 836.4h4.7v4.7h-4.7zM348.8 840.8h4.7v4.7h-4.7zM383.7 840.8h4.7v4.7h-4.7zM78.3 845.1h4.7v4.7h-4.7zM348.8 845.1h4.7v4.7h-4.7zM383.7 845.1h9v4.7h-9zM414.3 845.1h4.7v4.7h-4.7zM78.3 849.5h4.7v4.7h-4.7zM348.8 849.5h4.7v4.7h-4.7zM383.7 849.5h9v4.7h-9zM78.3 853.8h4.7v4.7h-4.7zM348.8 853.8h4.7v4.7h-4.7zM383.7 853.8h13.4v4.7h-13.4zM392.5 858.2h4.7v4.7h-4.7zM401.2 862.6h4.7v4.7h-4.7zM344.5 866.9h4.7v4.7h-4.7zM392.5 871.3h13.4v4.7h-13.4zM344.5 875.6h4.7v4.7h-4.7zM383.7 875.6h22.1v4.7h-22.1zM344.5 880h4.7v4.7h-4.7zM383.7 880h4.7v4.7h-4.7zM401.2 880h4.7v4.7h-4.7zM340.1 884.4h9v4.7h-9zM401.2 884.4h9v4.7h-9zM405.5 888.7h4.7v4.7h-4.7zM401.2 893.1h9v4.7h-9zM344.5 897.4h4.7v4.7h-4.7zM396.8 897.4h9v4.7h-9zM344.5 901.8h4.7v4.7h-4.7zM388.1 901.8h13.4v4.7h-13.4zM309.6 906.1h4.7v4.7h-4.7zM331.4 906.1h9v4.7h-9zM344.5 906.1h4.7v4.7h-4.7zM383.7 906.1h4.7v4.7h-4.7zM392.5 906.1h9v4.7h-9zM340.1 910.5h9v4.7h-9zM383.7 910.5h17.8v4.7h-17.8zM383.7 919.2h9v4.7h-9zM388.1 927.9h9v4.7h-9zM348.8 932.3h4.7v4.7h-4.7zM392.5 932.3h4.7v4.7h-4.7zM353.2 949.7h4.7v4.7h-4.7zM375 958.4h9v4.7h-9z"/><path fill="#2e83f9" d="M361.9 675.1h4.7v4.7h-4.7zM361.9 679.5h4.7v4.7h-4.7zM361.9 683.9h4.7v4.7h-4.7zM43.4 753.6h4.7v4.7h-4.7zM39 757.9h4.7v4.7h-4.7zM104.5 757.9h4.7v4.7h-4.7zM309.6 757.9h4.7v4.7h-4.7zM69.6 762.3h4.7v4.7h-4.7zM100.1 762.3h4.7v4.7h-4.7zM130.7 762.3h4.7v4.7h-4.7zM39 766.7h4.7v4.7h-4.7zM100.1 766.7h4.7v4.7h-4.7zM39 771h4.7v4.7h-4.7zM73.9 771h4.7v4.7h-4.7zM100.1 771h4.7v4.7h-4.7zM73.9 775.4h4.7v4.7h-4.7zM130.7 775.4h4.7v4.7h-4.7zM100.1 784.1h4.7v4.7h-4.7zM34.7 788.5h4.7v4.7h-4.7zM130.7 788.5h4.7v4.7h-4.7zM39 792.8h4.7v4.7h-4.7zM73.9 797.2h9v4.7h-9zM78.3 801.5h9v4.7h-9zM100.1 801.5h4.7v4.7h-4.7zM78.3 805.9h9v4.7h-9zM130.7 805.9h4.7v4.7h-4.7zM69.6 810.3h4.7v4.7h-4.7zM82.7 810.3h4.7v4.7h-4.7zM100.1 810.3h4.7v4.7h-4.7zM82.7 814.6h4.7v4.7h-4.7zM43.4 819h4.7v4.7h-4.7zM73.9 819h13.4v4.7h-13.4zM69.6 823.3h4.7v4.7h-4.7zM104.5 823.3h4.7v4.7h-4.7zM187.4 840.8h4.7v4.7h-4.7zM187.4 845.1h4.7v4.7h-4.7zM379.4 849.5h4.7v4.7h-4.7zM379.4 853.8h4.7v4.7h-4.7zM348.8 858.2h4.7v4.7h-4.7zM383.7 862.6h9v4.7h-9zM383.7 866.9h9v4.7h-9zM383.7 884.4h13.4v4.7h-13.4zM383.7 888.7h4.7v4.7h-4.7zM392.5 888.7h4.7v4.7h-4.7zM340.1 893.1h4.7v4.7h-4.7zM392.5 893.1h4.7v4.7h-4.7zM340.1 897.4h4.7v4.7h-4.7zM388.1 897.4h4.7v4.7h-4.7zM348.8 901.8h4.7v4.7h-4.7zM383.7 901.8h4.7v4.7h-4.7zM348.8 914.9h4.7v4.7h-4.7zM348.8 919.2h4.7v4.7h-4.7zM379.4 923.6h4.7v4.7h-4.7zM379.4 927.9h4.7v4.7h-4.7zM353.2 936.7h4.7v4.7h-4.7zM383.7 936.7h4.7v4.7h-4.7zM379.4 941h4.7v4.7h-4.7zM383.7 945.4h4.7v4.7h-4.7zM379.4 954.1h9v4.7h-9z"/><path fill="#484cef" d="M357.6 683.9h4.7v4.7h-4.7zM366.3 683.9h4.7v4.7h-4.7zM43.4 736.2h4.7v4.7h-4.7zM87 736.2h4.7v4.7h-4.7zM126.3 736.2h4.7v4.7h-4.7zM139.4 736.2h4.7v4.7h-4.7zM39 740.5h4.7v4.7h-4.7zM69.6 740.5h4.7v4.7h-4.7zM108.8 740.5h4.7v4.7h-4.7zM117.6 740.5h4.7v4.7h-4.7zM30.3 749.2h4.7v4.7h-4.7zM73.9 749.2h9v4.7h-9zM148.1 749.2h4.7v4.7h-4.7zM231 749.2h4.7v4.7h-4.7zM73.9 753.6h4.7v4.7h-4.7zM148.1 753.6h4.7v4.7h-4.7zM305.2 753.6h4.7v4.7h-4.7zM143.7 757.9h9v4.7h-9zM222.3 757.9h4.7v4.7h-4.7zM252.8 757.9h9v4.7h-9zM274.6 757.9h4.7v4.7h-4.7zM252.8 762.3h4.7v4.7h-4.7zM265.9 762.3h4.7v4.7h-4.7zM213.6 771h4.7v4.7h-4.7zM265.9 771h4.7v4.7h-4.7zM226.7 775.4h9v4.7h-9zM165.6 779.7h4.7v4.7h-4.7zM226.7 779.7h4.7v4.7h-4.7zM261.6 779.7h4.7v4.7h-4.7zM213.6 784.1h4.7v4.7h-4.7zM226.7 784.1h4.7v4.7h-4.7zM200.5 788.5h4.7v4.7h-4.7zM226.7 788.5h4.7v4.7h-4.7zM252.8 788.5h4.7v4.7h-4.7zM226.7 792.8h4.7v4.7h-4.7zM165.6 797.2h4.7v4.7h-4.7zM248.5 797.2h4.7v4.7h-4.7zM383.7 797.2h4.7v4.7h-4.7zM257.2 801.5h17.8v4.7h-17.8zM231 805.9h4.7v4.7h-4.7zM388.1 805.9h4.7v4.7h-4.7zM135 810.3h4.7v4.7h-4.7zM152.5 810.3h4.7v4.7h-4.7zM178.7 810.3h4.7v4.7h-4.7zM34.7 814.6h4.7v4.7h-4.7zM135 814.6h22.1v4.7h-22.1zM392.5 814.6h4.7v4.7h-4.7zM39 819h4.7v4.7h-4.7zM135 819h13.4v4.7h-13.4zM165.6 819h4.7v4.7h-4.7zM344.5 819h4.7v4.7h-4.7zM135 823.3h4.7v4.7h-4.7zM344.5 823.3h4.7v4.7h-4.7zM43.4 827.7h4.7v4.7h-4.7zM95.8 827.7h9v4.7h-9zM108.8 832h4.7v4.7h-4.7zM187.4 832h4.7v4.7h-4.7zM82.7 836.4h9v4.7h-9zM117.6 836.4h9v4.7h-9zM161.2 836.4h4.7v4.7h-4.7zM344.5 836.4h4.7v4.7h-4.7zM405.5 836.4h4.7v4.7h-4.7zM60.8 840.8h4.7v4.7h-4.7zM340.1 840.8h4.7v4.7h-4.7zM396.8 840.8h4.7v4.7h-4.7zM414.3 840.8h4.7v4.7h-4.7zM69.6 845.1h4.7v4.7h-4.7zM139.4 845.1h4.7v4.7h-4.7zM335.7 845.1h4.7v4.7h-4.7zM396.8 845.1h4.7v4.7h-4.7zM87 849.5h4.7v4.7h-4.7zM396.8 849.5h4.7v4.7h-4.7zM183 853.8h4.7v4.7h-4.7zM331.4 853.8h4.7v4.7h-4.7zM331.4 871.3h9v4.7h-9zM331.4 875.6h9v4.7h-9zM327 884.4h4.7v4.7h-4.7zM418.6 884.4h4.7v4.7h-4.7zM327 888.7h4.7v4.7h-4.7zM414.3 888.7h4.7v4.7h-4.7zM322.6 893.1h4.7v4.7h-4.7zM418.6 893.1h4.7v4.7h-4.7zM292.1 901.8h4.7v4.7h-4.7zM318.3 906.1h4.7v4.7h-4.7zM409.9 906.1h4.7v4.7h-4.7zM405.5 910.5h13.4v4.7h-13.4zM405.5 914.9h13.4v4.7h-13.4zM401.2 919.2h9v4.7h-9zM401.2 923.6h4.7v4.7h-4.7zM305.2 927.9h4.7v4.7h-4.7zM401.2 927.9h4.7v4.7h-4.7zM318.3 932.3h4.7v4.7h-4.7zM409.9 932.3h13.4v4.7h-13.4zM322.6 936.7h9v4.7h-9zM340.1 936.7h4.7v4.7h-4.7zM396.8 936.7h4.7v4.7h-4.7zM322.6 941h9v4.7h-9zM396.8 941h4.7v4.7h-4.7zM344.5 949.7h4.7v4.7h-4.7zM379.4 962.8h17.8v4.7h-17.8zM379.4 967.2h13.4v4.7h-13.4zM392.5 975.9h4.7v4.7h-4.7zM353.2 980.2h9v4.7h-9z"/><path fill="#4433cc" d="M239.7 688.2h4.7v4.7h-4.7zM239.7 696.9h4.7v4.7h-4.7zM60.8 731.8h4.7v4.7h-4.7zM244.1 731.8h4.7v4.7h-4.7zM69.6 736.2h4.7v4.7h-4.7zM121.9 736.2h4.7v4.7h-4.7zM34.7 740.5h4.7v4.7h-4.7zM148.1 744.9h4.7v4.7h-4.7zM231 744.9h4.7v4.7h-4.7zM309.6 753.6h4.7v4.7h-4.7zM305.2 762.3h4.7v4.7h-4.7zM213.6 766.7h4.7v4.7h-4.7zM265.9 775.4h4.7v4.7h-4.7zM200.5 784.1h4.7v4.7h-4.7zM222.3 792.8h4.7v4.7h-4.7zM375 792.8h4.7v4.7h-4.7zM274.6 801.5h4.7v4.7h-4.7zM357.6 801.5h4.7v4.7h-4.7zM252.8 805.9h4.7v4.7h-4.7zM344.5 810.3h4.7v4.7h-4.7zM30.3 814.6h4.7v4.7h-4.7zM396.8 819h4.7v4.7h-4.7zM187.4 827.7h4.7v4.7h-4.7zM104.5 832h4.7v4.7h-4.7zM95.8 836.4h4.7v4.7h-4.7zM104.5 836.4h4.7v4.7h-4.7zM56.5 840.8h4.7v4.7h-4.7zM104.5 840.8h4.7v4.7h-4.7zM117.6 840.8h4.7v4.7h-4.7zM335.7 840.8h4.7v4.7h-4.7zM135 845.1h4.7v4.7h-4.7zM104.5 849.5h4.7v4.7h-4.7zM117.6 849.5h4.7v4.7h-4.7zM139.4 849.5h4.7v4.7h-4.7zM156.8 849.5h4.7v4.7h-4.7zM87 853.8h4.7v4.7h-4.7zM143.7 853.8h4.7v4.7h-4.7zM152.5 853.8h4.7v4.7h-4.7zM169.9 853.8h4.7v4.7h-4.7zM327 866.9h4.7v4.7h-4.7zM318.3 897.4h4.7v4.7h-4.7zM309.6 901.8h4.7v4.7h-4.7zM313.9 906.1h4.7v4.7h-4.7zM322.6 945.4h9v4.7h-9zM401.2 949.7h4.7v4.7h-4.7zM344.5 958.4h4.7v4.7h-4.7zM396.8 967.2h4.7v4.7h-4.7z"/><path fill="#4743e7" d="M235.4 692.6h4.7v4.7h-4.7zM235.4 727.4h4.7v4.7h-4.7zM95.8 731.8h4.7v4.7h-4.7zM65.2 736.2h4.7v4.7h-4.7zM82.7 736.2h4.7v4.7h-4.7zM104.5 736.2h4.7v4.7h-4.7zM113.2 740.5h4.7v4.7h-4.7zM143.7 740.5h4.7v4.7h-4.7zM34.7 744.9h4.7v4.7h-4.7zM226.7 753.6h4.7v4.7h-4.7zM152.5 757.9h4.7v4.7h-4.7zM261.6 757.9h13.4v4.7h-13.4zM156.8 762.3h4.7v4.7h-4.7zM217.9 762.3h4.7v4.7h-4.7zM274.6 762.3h4.7v4.7h-4.7zM165.6 766.7h4.7v4.7h-4.7zM270.3 766.7h4.7v4.7h-4.7zM209.2 775.4h4.7v4.7h-4.7zM165.6 784.1h4.7v4.7h-4.7zM252.8 792.8h17.8v4.7h-17.8zM379.4 792.8h4.7v4.7h-4.7zM257.2 797.2h13.4v4.7h-13.4zM248.5 801.5h4.7v4.7h-4.7zM169.9 805.9h4.7v4.7h-4.7zM248.5 805.9h4.7v4.7h-4.7zM344.5 814.6h4.7v4.7h-4.7zM34.7 819h4.7v4.7h-4.7zM187.4 819h4.7v4.7h-4.7zM39 823.3h4.7v4.7h-4.7zM165.6 823.3h4.7v4.7h-4.7zM396.8 823.3h4.7v4.7h-4.7zM165.6 827.7h4.7v4.7h-4.7zM344.5 827.7h4.7v4.7h-4.7zM344.5 832h4.7v4.7h-4.7zM91.4 840.8h4.7v4.7h-4.7zM126.3 840.8h4.7v4.7h-4.7zM187.4 849.5h4.7v4.7h-4.7zM73.9 853.8h4.7v4.7h-4.7zM418.6 871.3h4.7v4.7h-4.7zM327 880h4.7v4.7h-4.7zM418.6 888.7h4.7v4.7h-4.7zM296.5 897.4h13.4v4.7h-13.4zM318.3 901.8h4.7v4.7h-4.7zM318.3 936.7h4.7v4.7h-4.7zM318.3 941h4.7v4.7h-4.7zM401.2 941h4.7v4.7h-4.7zM331.4 945.4h4.7v4.7h-4.7zM344.5 954.1h4.7v4.7h-4.7zM396.8 958.4h4.7v4.7h-4.7zM348.8 975.9h4.7v4.7h-4.7zM361.9 980.2h17.8v4.7h-17.8zM388.1 980.2h4.7v4.7h-4.7z"/><path fill="#465efb" d="M239.7 692.6h4.7v4.7h-4.7zM60.8 736.2h4.7v4.7h-4.7zM91.4 736.2h4.7v4.7h-4.7zM135 736.2h4.7v4.7h-4.7zM78.3 740.5h4.7v4.7h-4.7zM91.4 740.5h4.7v4.7h-4.7zM100.1 740.5h4.7v4.7h-4.7zM65.2 744.9h4.7v4.7h-4.7zM82.7 744.9h22.1v4.7h-22.1zM121.9 744.9h4.7v4.7h-4.7zM39 749.2h4.7v4.7h-4.7zM91.4 749.2h13.4v4.7h-13.4zM82.7 753.6h13.4v4.7h-13.4zM104.5 753.6h4.7v4.7h-4.7zM130.7 753.6h13.4v4.7h-13.4zM30.3 757.9h4.7v4.7h-4.7zM78.3 757.9h9v4.7h-9zM231 757.9h4.7v4.7h-4.7zM78.3 762.3h13.4v4.7h-13.4zM222.3 762.3h9v4.7h-9zM82.7 766.7h4.7v4.7h-4.7zM135 766.7h9v4.7h-9zM148.1 766.7h13.4v4.7h-13.4zM222.3 766.7h4.7v4.7h-4.7zM231 766.7h4.7v4.7h-4.7zM135 771h9v4.7h-9zM161.2 771h4.7v4.7h-4.7zM252.8 771h4.7v4.7h-4.7zM143.7 775.4h4.7v4.7h-4.7zM156.8 775.4h9v4.7h-9zM217.9 775.4h4.7v4.7h-4.7zM252.8 775.4h9v4.7h-9zM148.1 779.7h4.7v4.7h-4.7zM161.2 779.7h4.7v4.7h-4.7zM252.8 779.7h9v4.7h-9zM135 784.1h4.7v4.7h-4.7zM148.1 784.1h4.7v4.7h-4.7zM257.2 784.1h4.7v4.7h-4.7zM135 788.5h4.7v4.7h-4.7zM148.1 788.5h4.7v4.7h-4.7zM204.8 788.5h9v4.7h-9zM135 792.8h4.7v4.7h-4.7zM148.1 792.8h4.7v4.7h-4.7zM161.2 792.8h4.7v4.7h-4.7zM231 792.8h4.7v4.7h-4.7zM139.4 797.2h13.4v4.7h-13.4zM375 797.2h4.7v4.7h-4.7zM152.5 801.5h4.7v4.7h-4.7zM231 801.5h4.7v4.7h-4.7zM361.9 801.5h4.7v4.7h-4.7zM375 801.5h4.7v4.7h-4.7zM30.3 805.9h4.7v4.7h-4.7zM139.4 805.9h4.7v4.7h-4.7zM148.1 805.9h4.7v4.7h-4.7zM161.2 810.3h9v4.7h-9zM348.8 810.3h4.7v4.7h-4.7zM379.4 810.3h4.7v4.7h-4.7zM39 814.6h4.7v4.7h-4.7zM161.2 814.6h4.7v4.7h-4.7zM379.4 814.6h9v4.7h-9zM130.7 819h4.7v4.7h-4.7zM379.4 819h4.7v4.7h-4.7zM91.4 823.3h9v4.7h-9zM148.1 823.3h13.4v4.7h-13.4zM348.8 823.3h4.7v4.7h-4.7zM379.4 823.3h4.7v4.7h-4.7zM82.7 827.7h4.7v4.7h-4.7zM139.4 827.7h9v4.7h-9zM383.7 827.7h9v4.7h-9zM47.8 832h4.7v4.7h-4.7zM78.3 832h4.7v4.7h-4.7zM121.9 832h26.5v4.7h-26.5zM388.1 832h4.7v4.7h-4.7zM69.6 836.4h4.7v4.7h-4.7zM78.3 836.4h4.7v4.7h-4.7zM126.3 836.4h35.2v4.7h-35.2zM348.8 836.4h4.7v4.7h-4.7zM388.1 836.4h4.7v4.7h-4.7zM69.6 840.8h4.7v4.7h-4.7zM156.8 840.8h4.7v4.7h-4.7zM344.5 840.8h4.7v4.7h-4.7zM388.1 840.8h4.7v4.7h-4.7zM409.9 840.8h4.7v4.7h-4.7zM143.7 845.1h13.4v4.7h-13.4zM344.5 845.1h4.7v4.7h-4.7zM405.5 845.1h4.7v4.7h-4.7zM73.9 849.5h4.7v4.7h-4.7zM143.7 849.5h4.7v4.7h-4.7zM152.5 849.5h4.7v4.7h-4.7zM392.5 849.5h4.7v4.7h-4.7zM401.2 849.5h4.7v4.7h-4.7zM418.6 849.5h4.7v4.7h-4.7zM174.3 853.8h4.7v4.7h-4.7zM344.5 853.8h4.7v4.7h-4.7zM401.2 853.8h4.7v4.7h-4.7zM409.9 853.8h9v4.7h-9zM344.5 858.2h4.7v4.7h-4.7zM401.2 858.2h9v4.7h-9zM405.5 862.6h4.7v4.7h-4.7zM405.5 866.9h9v4.7h-9zM405.5 871.3h9v4.7h-9zM340.1 875.6h4.7v4.7h-4.7zM405.5 875.6h9v4.7h-9zM409.9 880h9v4.7h-9zM335.7 884.4h4.7v4.7h-4.7zM409.9 884.4h4.7v4.7h-4.7zM409.9 888.7h4.7v4.7h-4.7zM331.4 893.1h4.7v4.7h-4.7zM409.9 893.1h4.7v4.7h-4.7zM409.9 897.4h13.4v4.7h-13.4zM327 901.8h4.7v4.7h-4.7zM405.5 901.8h4.7v4.7h-4.7zM414.3 901.8h9v4.7h-9zM322.6 906.1h4.7v4.7h-4.7zM318.3 910.5h4.7v4.7h-4.7zM318.3 914.9h22.1v4.7h-22.1zM313.9 919.2h4.7v4.7h-4.7zM322.6 919.2h13.4v4.7h-13.4zM340.1 919.2h9v4.7h-9zM305.2 923.6h9v4.7h-9zM322.6 923.6h13.4v4.7h-13.4zM396.8 923.6h4.7v4.7h-4.7zM418.6 923.6h4.7v4.7h-4.7zM327 927.9h13.4v4.7h-13.4zM418.6 927.9h4.7v4.7h-4.7zM392.5 936.7h4.7v4.7h-4.7zM348.8 945.4h4.7v4.7h-4.7zM392.5 945.4h4.7v4.7h-4.7zM396.8 949.7h4.7v4.7h-4.7zM392.5 954.1h4.7v4.7h-4.7zM353.2 958.4h4.7v4.7h-4.7zM383.7 958.4h4.7v4.7h-4.7zM348.8 962.8h4.7v4.7h-4.7zM357.6 962.8h4.7v4.7h-4.7zM361.9 967.2h13.4v4.7h-13.4zM366.3 971.5h13.4v4.7h-13.4zM366.3 975.9h13.4v4.7h-13.4z"/><path fill="#21a3e3" d="M239.7 727.4h4.7v4.7h-4.7zM60.8 744.9h4.7v4.7h-4.7zM248.5 753.6h4.7v4.7h-4.7zM104.5 762.3h4.7v4.7h-4.7zM69.6 779.7h4.7v4.7h-4.7zM69.6 784.1h4.7v4.7h-4.7zM69.6 788.5h4.7v4.7h-4.7zM69.6 792.8h4.7v4.7h-4.7zM375 814.6h4.7v4.7h-4.7zM375 819h4.7v4.7h-4.7zM65.2 823.3h4.7v4.7h-4.7zM353.2 858.2h4.7v4.7h-4.7zM379.4 880h4.7v4.7h-4.7zM379.4 884.4h4.7v4.7h-4.7zM379.4 888.7h4.7v4.7h-4.7zM379.4 906.1h4.7v4.7h-4.7zM379.4 910.5h4.7v4.7h-4.7zM375 923.6h4.7v4.7h-4.7zM375 927.9h4.7v4.7h-4.7zM357.6 941h4.7v4.7h-4.7zM357.6 945.4h4.7v4.7h-4.7zM375 945.4h4.7v4.7h-4.7z"/><path fill="#12beb9" d="M52.1 731.8h4.7v4.7h-4.7zM108.8 757.9h4.7v4.7h-4.7zM126.3 775.4h4.7v4.7h-4.7zM65.2 814.6h4.7v4.7h-4.7zM353.2 840.8h4.7v4.7h-4.7zM353.2 845.1h4.7v4.7h-4.7zM113.2 853.8h4.7v4.7h-4.7zM353.2 875.6h4.7v4.7h-4.7zM370.6 954.1h4.7v4.7h-4.7z"/><path fill="#2d8cf3" d="M235.4 731.8h4.7v4.7h-4.7zM113.2 744.9h4.7v4.7h-4.7zM65.2 757.9h4.7v4.7h-4.7zM69.6 766.7h4.7v4.7h-4.7zM130.7 766.7h4.7v4.7h-4.7zM130.7 771h4.7v4.7h-4.7zM39 775.4h4.7v4.7h-4.7zM100.1 775.4h4.7v4.7h-4.7zM39 779.7h4.7v4.7h-4.7zM100.1 779.7h4.7v4.7h-4.7zM130.7 779.7h4.7v4.7h-4.7zM130.7 784.1h4.7v4.7h-4.7zM39 788.5h4.7v4.7h-4.7zM130.7 792.8h4.7v4.7h-4.7zM248.5 792.8h4.7v4.7h-4.7zM69.6 805.9h4.7v4.7h-4.7zM100.1 805.9h4.7v4.7h-4.7zM357.6 805.9h4.7v4.7h-4.7zM69.6 814.6h4.7v4.7h-4.7zM169.9 814.6h4.7v4.7h-4.7zM235.4 814.6h4.7v4.7h-4.7zM353.2 814.6h4.7v4.7h-4.7zM104.5 819h4.7v4.7h-4.7zM126.3 819h4.7v4.7h-4.7zM353.2 819h4.7v4.7h-4.7zM126.3 823.3h4.7v4.7h-4.7zM353.2 823.3h4.7v4.7h-4.7zM126.3 827.7h4.7v4.7h-4.7zM353.2 827.7h4.7v4.7h-4.7zM353.2 832h4.7v4.7h-4.7zM52.1 836.4h9v4.7h-9zM348.8 880h4.7v4.7h-4.7zM348.8 884.4h4.7v4.7h-4.7zM348.8 888.7h4.7v4.7h-4.7zM388.1 888.7h4.7v4.7h-4.7zM348.8 893.1h4.7v4.7h-4.7zM383.7 893.1h9v4.7h-9zM348.8 897.4h4.7v4.7h-4.7zM383.7 897.4h4.7v4.7h-4.7zM292.1 906.1h4.7v4.7h-4.7zM348.8 906.1h4.7v4.7h-4.7zM348.8 910.5h4.7v4.7h-4.7zM296.5 923.6h9v4.7h-9zM379.4 932.3h4.7v4.7h-4.7zM379.4 936.7h4.7v4.7h-4.7zM379.4 949.7h9v4.7h-9zM357.6 954.1h4.7v4.7h-4.7zM375 954.1h4.7v4.7h-4.7z"/><path fill="#fad42e" d="M239.7 731.8h4.7v4.7h-4.7zM52.1 736.2h4.7v4.7h-4.7zM52.1 740.5h4.7v4.7h-4.7zM52.1 744.9h4.7v4.7h-4.7zM244.1 744.9h4.7v4.7h-4.7zM60.8 757.9h4.7v4.7h-4.7zM65.2 801.5h4.7v4.7h-4.7zM357.6 819h4.7v4.7h-4.7zM47.8 823.3h4.7v4.7h-4.7zM370.6 866.9h4.7v4.7h-4.7zM370.6 871.3h4.7v4.7h-4.7zM353.2 893.1h4.7v4.7h-4.7zM353.2 906.1h4.7v4.7h-4.7zM361.9 936.7h4.7v4.7h-4.7zM361.9 941h4.7v4.7h-4.7zM361.9 945.4h4.7v4.7h-4.7zM361.9 949.7h4.7v4.7h-4.7zM361.9 954.1h4.7v4.7h-4.7z"/><path fill="#2994ed" d="M47.8 736.2h4.7v4.7h-4.7zM117.6 744.9h4.7v4.7h-4.7zM108.8 753.6h4.7v4.7h-4.7zM43.4 757.9h4.7v4.7h-4.7zM39 762.3h4.7v4.7h-4.7zM69.6 771h4.7v4.7h-4.7zM39 784.1h4.7v4.7h-4.7zM104.5 792.8h4.7v4.7h-4.7zM104.5 797.2h4.7v4.7h-4.7zM69.6 801.5h4.7v4.7h-4.7zM130.7 801.5h4.7v4.7h-4.7zM104.5 810.3h4.7v4.7h-4.7zM104.5 814.6h4.7v4.7h-4.7zM126.3 814.6h4.7v4.7h-4.7zM69.6 819h4.7v4.7h-4.7zM178.7 853.8h4.7v4.7h-4.7zM379.4 858.2h4.7v4.7h-4.7zM348.8 862.6h4.7v4.7h-4.7zM348.8 866.9h4.7v4.7h-4.7zM348.8 875.6h4.7v4.7h-4.7zM379.4 875.6h4.7v4.7h-4.7zM309.6 910.5h4.7v4.7h-4.7zM379.4 919.2h4.7v4.7h-4.7zM353.2 932.3h4.7v4.7h-4.7z"/><path fill="#9fc942" d="M56.5 736.2h4.7v4.7h-4.7zM65.2 771h4.7v4.7h-4.7zM126.3 797.2h4.7v4.7h-4.7zM370.6 801.5h4.7v4.7h-4.7zM108.8 819h4.7v4.7h-4.7zM375 836.4h4.7v4.7h-4.7zM375 840.8h4.7v4.7h-4.7zM353.2 884.4h4.7v4.7h-4.7zM375 897.4h4.7v4.7h-4.7zM375 901.8h4.7v4.7h-4.7zM375 906.1h4.7v4.7h-4.7zM353.2 914.9h4.7v4.7h-4.7zM418.6 919.2h4.7v4.7h-4.7z"/><path fill="#24c2ae" d="M235.4 736.2h4.7v4.7h-4.7zM65.2 766.7h4.7v4.7h-4.7zM239.7 814.6h4.7v4.7h-4.7zM108.8 827.7h4.7v4.7h-4.7zM353.2 849.5h4.7v4.7h-4.7zM375 849.5h4.7v4.7h-4.7zM375 888.7h4.7v4.7h-4.7zM375 893.1h4.7v4.7h-4.7zM375 914.9h4.7v4.7h-4.7zM309.6 919.2h4.7v4.7h-4.7zM353.2 919.2h4.7v4.7h-4.7zM375 919.2h4.7v4.7h-4.7zM370.6 936.7h4.7v4.7h-4.7zM370.6 941h4.7v4.7h-4.7zM370.6 945.4h4.7v4.7h-4.7zM370.6 949.7h4.7v4.7h-4.7z"/><path fill="#f6f21e" d="M239.7 736.2h4.7v4.7h-4.7zM239.7 740.5h4.7v4.7h-4.7zM56.5 744.9h4.7v4.7h-4.7zM56.5 749.2h4.7v4.7h-4.7zM52.1 753.6h4.7v4.7h-4.7zM47.8 757.9h4.7v4.7h-4.7zM235.4 757.9h13.4v4.7h-13.4zM113.2 762.3h4.7v4.7h-4.7zM244.1 762.3h4.7v4.7h-4.7zM113.2 766.7h9v4.7h-9zM117.6 771h4.7v4.7h-4.7zM244.1 779.7h4.7v4.7h-4.7zM47.8 784.1h4.7v4.7h-4.7zM113.2 784.1h4.7v4.7h-4.7zM117.6 788.5h4.7v4.7h-4.7zM235.4 788.5h4.7v4.7h-4.7zM65.2 792.8h4.7v4.7h-4.7zM235.4 792.8h9v4.7h-9zM235.4 797.2h9v4.7h-9zM56.5 805.9h9v4.7h-9zM239.7 805.9h4.7v4.7h-4.7zM52.1 810.3h4.7v4.7h-4.7zM113.2 810.3h4.7v4.7h-4.7zM113.2 814.6h4.7v4.7h-4.7zM52.1 819h4.7v4.7h-4.7zM113.2 819h4.7v4.7h-4.7zM178.7 819h4.7v4.7h-4.7zM52.1 823.3h9v4.7h-9zM113.2 823.3h4.7v4.7h-4.7zM56.5 827.7h4.7v4.7h-4.7zM113.2 827.7h4.7v4.7h-4.7zM52.1 832h9v4.7h-9zM108.8 840.8h9v4.7h-9zM108.8 845.1h9v4.7h-9zM108.8 849.5h9v4.7h-9zM357.6 871.3h4.7v4.7h-4.7zM357.6 875.6h4.7v4.7h-4.7zM366.3 875.6h9v4.7h-9zM361.9 880h13.4v4.7h-13.4zM357.6 884.4h4.7v4.7h-4.7zM357.6 893.1h4.7v4.7h-4.7zM366.3 893.1h4.7v4.7h-4.7zM353.2 897.4h4.7v4.7h-4.7zM300.8 901.8h4.7v4.7h-4.7zM300.8 906.1h4.7v4.7h-4.7zM357.6 906.1h9v4.7h-9zM296.5 910.5h13.4v4.7h-13.4zM305.2 914.9h4.7v4.7h-4.7zM357.6 923.6h4.7v4.7h-4.7zM366.3 932.3h4.7v4.7h-4.7z"/><path fill="#1caadf" d="M244.1 736.2h4.7v4.7h-4.7zM126.3 766.7h4.7v4.7h-4.7zM65.2 819h4.7v4.7h-4.7zM113.2 832h4.7v4.7h-4.7zM353.2 853.8h4.7v4.7h-4.7zM353.2 862.6h4.7v4.7h-4.7zM375 866.9h4.7v4.7h-4.7zM375 871.3h4.7v4.7h-4.7zM375 875.6h4.7v4.7h-4.7zM375 880h4.7v4.7h-4.7zM375 884.4h4.7v4.7h-4.7zM379.4 893.1h4.7v4.7h-4.7zM379.4 901.8h4.7v4.7h-4.7zM353.2 927.9h4.7v4.7h-4.7zM357.6 932.3h4.7v4.7h-4.7zM375 932.3h4.7v4.7h-4.7zM375 941h4.7v4.7h-4.7z"/><path fill="#2fc5a2" d="M47.8 740.5h4.7v4.7h-4.7zM60.8 749.2h4.7v4.7h-4.7zM121.9 757.9h4.7v4.7h-4.7zM117.6 832h4.7v4.7h-4.7zM375 845.1h4.7v4.7h-4.7zM353.2 880h4.7v4.7h-4.7z"/><path fill="#f6de29" d="M56.5 740.5h4.7v4.7h-4.7zM235.4 744.9h4.7v4.7h-4.7zM52.1 749.2h4.7v4.7h-4.7zM235.4 762.3h9v4.7h-9zM239.7 766.7h4.7v4.7h-4.7zM65.2 779.7h4.7v4.7h-4.7zM65.2 784.1h4.7v4.7h-4.7zM235.4 805.9h4.7v4.7h-4.7zM239.7 810.3h4.7v4.7h-4.7zM56.5 814.6h4.7v4.7h-4.7zM60.8 823.3h4.7v4.7h-4.7zM357.6 823.3h4.7v4.7h-4.7zM357.6 897.4h13.4v4.7h-13.4zM300.8 919.2h4.7v4.7h-4.7zM366.3 941h4.7v4.7h-4.7zM366.3 949.7h4.7v4.7h-4.7z"/><path fill="#c8c129" d="M235.4 740.5h4.7v4.7h-4.7zM248.5 771h4.7v4.7h-4.7zM43.4 775.4h4.7v4.7h-4.7zM248.5 784.1h4.7v4.7h-4.7zM126.3 788.5h4.7v4.7h-4.7zM65.2 805.9h4.7v4.7h-4.7zM361.9 805.9h4.7v4.7h-4.7zM169.9 849.5h4.7v4.7h-4.7z"/><path fill="#88cb53" d="M244.1 740.5h4.7v4.7h-4.7zM60.8 753.6h4.7v4.7h-4.7zM43.4 792.8h4.7v4.7h-4.7zM357.6 810.3h4.7v4.7h-4.7zM357.6 927.9h4.7v4.7h-4.7z"/><path fill="#48cb86" d="M47.8 744.9h4.7v4.7h-4.7zM126.3 801.5h4.7v4.7h-4.7zM43.4 805.9h4.7v4.7h-4.7zM65.2 810.3h4.7v4.7h-4.7zM47.8 827.7h4.7v4.7h-4.7zM375 910.5h4.7v4.7h-4.7z"/><path fill="#f9fb15" d="M239.7 744.9h4.7v4.7h-4.7zM235.4 749.2h13.4v4.7h-13.4zM56.5 753.6h4.7v4.7h-4.7zM113.2 753.6h9v4.7h-9zM235.4 753.6h13.4v4.7h-13.4zM52.1 757.9h9v4.7h-9zM113.2 757.9h9v4.7h-9zM47.8 762.3h17.8v4.7h-17.8zM117.6 762.3h4.7v4.7h-4.7zM47.8 766.7h17.8v4.7h-17.8zM47.8 771h17.8v4.7h-17.8zM113.2 771h4.7v4.7h-4.7zM235.4 771h4.7v4.7h-4.7zM47.8 775.4h13.4v4.7h-13.4zM113.2 775.4h4.7v4.7h-4.7zM235.4 775.4h9v4.7h-9zM47.8 779.7h13.4v4.7h-13.4zM108.8 779.7h9v4.7h-9zM235.4 779.7h9v4.7h-9zM52.1 784.1h9v4.7h-9zM108.8 784.1h4.7v4.7h-4.7zM235.4 784.1h13.4v4.7h-13.4zM47.8 788.5h13.4v4.7h-13.4zM108.8 788.5h9v4.7h-9zM121.9 788.5h4.7v4.7h-4.7zM239.7 788.5h9v4.7h-9zM47.8 792.8h17.8v4.7h-17.8zM108.8 792.8h17.8v4.7h-17.8zM244.1 792.8h4.7v4.7h-4.7zM47.8 797.2h22.1v4.7h-22.1zM113.2 797.2h13.4v4.7h-13.4zM244.1 797.2h4.7v4.7h-4.7zM47.8 801.5h17.8v4.7h-17.8zM113.2 801.5h13.4v4.7h-13.4zM239.7 801.5h4.7v4.7h-4.7zM47.8 805.9h9v4.7h-9zM113.2 805.9h13.4v4.7h-13.4zM366.3 805.9h9v4.7h-9zM47.8 810.3h4.7v4.7h-4.7zM117.6 810.3h9v4.7h-9zM366.3 810.3h9v4.7h-9zM47.8 814.6h4.7v4.7h-4.7zM117.6 814.6h9v4.7h-9zM361.9 814.6h13.4v4.7h-13.4zM47.8 819h4.7v4.7h-4.7zM117.6 819h4.7v4.7h-4.7zM174.3 819h4.7v4.7h-4.7zM183 819h4.7v4.7h-4.7zM361.9 819h13.4v4.7h-13.4zM117.6 823.3h4.7v4.7h-4.7zM174.3 823.3h13.4v4.7h-13.4zM361.9 823.3h13.4v4.7h-13.4zM117.6 827.7h4.7v4.7h-4.7zM174.3 827.7h13.4v4.7h-13.4zM357.6 827.7h17.8v4.7h-17.8zM174.3 832h13.4v4.7h-13.4zM357.6 832h17.8v4.7h-17.8zM174.3 836.4h13.4v4.7h-13.4zM357.6 836.4h17.8v4.7h-17.8zM174.3 840.8h13.4v4.7h-13.4zM357.6 840.8h17.8v4.7h-17.8zM174.3 845.1h13.4v4.7h-13.4zM357.6 845.1h17.8v4.7h-17.8zM174.3 849.5h9v4.7h-9zM357.6 849.5h17.8v4.7h-17.8zM357.6 853.8h17.8v4.7h-17.8zM357.6 858.2h17.8v4.7h-17.8zM357.6 862.6h17.8v4.7h-17.8zM357.6 866.9h13.4v4.7h-13.4zM361.9 871.3h9v4.7h-9zM361.9 875.6h4.7v4.7h-4.7zM361.9 884.4h13.4v4.7h-13.4zM357.6 888.7h17.8v4.7h-17.8zM370.6 893.1h4.7v4.7h-4.7zM353.2 901.8h4.7v4.7h-4.7zM305.2 906.1h4.7v4.7h-4.7zM366.3 906.1h9v4.7h-9zM357.6 910.5h17.8v4.7h-17.8zM357.6 914.9h17.8v4.7h-17.8zM357.6 919.2h17.8v4.7h-17.8zM361.9 923.6h13.4v4.7h-13.4zM361.9 927.9h9v4.7h-9zM361.9 932.3h4.7v4.7h-4.7z"/><path fill="#b4c533" d="M47.8 749.2h4.7v4.7h-4.7zM108.8 836.4h9v4.7h-9zM418.6 910.5h4.7v4.7h-4.7zM418.6 914.9h4.7v4.7h-4.7zM361.9 958.4h4.7v4.7h-4.7z"/><path fill="#feca33" d="M113.2 749.2h4.7v4.7h-4.7zM47.8 753.6h4.7v4.7h-4.7zM244.1 801.5h4.7v4.7h-4.7zM121.9 819h4.7v4.7h-4.7zM418.6 858.2h4.7v4.7h-4.7zM418.6 862.6h4.7v4.7h-4.7zM296.5 901.8h4.7v4.7h-4.7zM370.6 927.9h4.7v4.7h-4.7zM366.3 958.4h4.7v4.7h-4.7z"/><path fill="#f8ba3d" d="M117.6 749.2h4.7v4.7h-4.7zM248.5 775.4h4.7v4.7h-4.7zM248.5 779.7h4.7v4.7h-4.7zM43.4 788.5h4.7v4.7h-4.7zM357.6 814.6h4.7v4.7h-4.7zM60.8 827.7h4.7v4.7h-4.7zM418.6 853.8h4.7v4.7h-4.7zM418.6 866.9h4.7v4.7h-4.7z"/><path fill="#259ce7" d="M121.9 753.6h4.7v4.7h-4.7zM305.2 757.9h4.7v4.7h-4.7zM65.2 762.3h4.7v4.7h-4.7zM126.3 762.3h4.7v4.7h-4.7zM104.5 766.7h4.7v4.7h-4.7zM104.5 771h4.7v4.7h-4.7zM69.6 775.4h4.7v4.7h-4.7zM104.5 775.4h4.7v4.7h-4.7zM104.5 779.7h4.7v4.7h-4.7zM104.5 784.1h4.7v4.7h-4.7zM104.5 788.5h4.7v4.7h-4.7zM69.6 797.2h4.7v4.7h-4.7zM130.7 797.2h4.7v4.7h-4.7zM104.5 801.5h4.7v4.7h-4.7zM104.5 805.9h4.7v4.7h-4.7zM375 805.9h4.7v4.7h-4.7zM126.3 810.3h4.7v4.7h-4.7zM375 810.3h4.7v4.7h-4.7zM43.4 814.6h4.7v4.7h-4.7zM65.2 827.7h4.7v4.7h-4.7zM379.4 862.6h4.7v4.7h-4.7zM379.4 866.9h4.7v4.7h-4.7zM348.8 871.3h4.7v4.7h-4.7zM379.4 871.3h4.7v4.7h-4.7zM379.4 914.9h4.7v4.7h-4.7zM357.6 936.7h4.7v4.7h-4.7zM357.6 949.7h4.7v4.7h-4.7zM375 949.7h4.7v4.7h-4.7z"/><path fill="#39c895" d="M248.5 757.9h4.7v4.7h-4.7zM248.5 762.3h4.7v4.7h-4.7zM248.5 766.7h4.7v4.7h-4.7zM248.5 788.5h4.7v4.7h-4.7zM366.3 801.5h4.7v4.7h-4.7zM244.1 805.9h4.7v4.7h-4.7zM375 823.3h4.7v4.7h-4.7zM60.8 832h4.7v4.7h-4.7z"/><path fill="#13b0d7" d="M43.4 762.3h4.7v4.7h-4.7zM43.4 810.3h4.7v4.7h-4.7zM353.2 836.4h4.7v4.7h-4.7zM375 853.8h4.7v4.7h-4.7zM375 858.2h4.7v4.7h-4.7zM375 862.6h4.7v4.7h-4.7zM353.2 866.9h4.7v4.7h-4.7zM353.2 871.3h4.7v4.7h-4.7zM379.4 897.4h4.7v4.7h-4.7zM418.6 906.1h4.7v4.7h-4.7zM292.1 910.5h4.7v4.7h-4.7zM292.1 914.9h4.7v4.7h-4.7zM309.6 914.9h4.7v4.7h-4.7zM353.2 923.6h4.7v4.7h-4.7zM375 936.7h4.7v4.7h-4.7zM370.6 958.4h4.7v4.7h-4.7z"/><path fill="#71cd64" d="M108.8 762.3h4.7v4.7h-4.7zM43.4 771h4.7v4.7h-4.7zM126.3 779.7h4.7v4.7h-4.7zM126.3 784.1h4.7v4.7h-4.7zM43.4 797.2h4.7v4.7h-4.7zM43.4 801.5h4.7v4.7h-4.7zM108.8 823.3h4.7v4.7h-4.7zM375 832h4.7v4.7h-4.7zM370.6 932.3h4.7v4.7h-4.7z"/><path fill="#eaba31" d="M121.9 762.3h4.7v4.7h-4.7zM108.8 766.7h4.7v4.7h-4.7zM235.4 810.3h4.7v4.7h-4.7zM174.3 814.6h4.7v4.7h-4.7zM169.9 819h4.7v4.7h-4.7zM169.9 823.3h4.7v4.7h-4.7zM169.9 827.7h4.7v4.7h-4.7zM169.9 832h4.7v4.7h-4.7zM169.9 836.4h4.7v4.7h-4.7zM169.9 840.8h4.7v4.7h-4.7zM169.9 845.1h4.7v4.7h-4.7zM353.2 888.7h4.7v4.7h-4.7zM353.2 910.5h4.7v4.7h-4.7z"/><path fill="#05b6ce" d="M43.4 766.7h4.7v4.7h-4.7z"/><path fill="#f5e825" d="M121.9 766.7h4.7v4.7h-4.7zM235.4 766.7h4.7v4.7h-4.7zM244.1 766.7h4.7v4.7h-4.7zM121.9 771h4.7v4.7h-4.7zM239.7 771h9v4.7h-9zM60.8 775.4h4.7v4.7h-4.7zM117.6 775.4h9v4.7h-9zM244.1 775.4h4.7v4.7h-4.7zM60.8 779.7h4.7v4.7h-4.7zM117.6 779.7h9v4.7h-9zM60.8 784.1h4.7v4.7h-4.7zM117.6 784.1h9v4.7h-9zM60.8 788.5h9v4.7h-9zM108.8 797.2h4.7v4.7h-4.7zM235.4 801.5h4.7v4.7h-4.7zM56.5 810.3h9v4.7h-9zM361.9 810.3h4.7v4.7h-4.7zM52.1 814.6h4.7v4.7h-4.7zM60.8 814.6h4.7v4.7h-4.7zM178.7 814.6h4.7v4.7h-4.7zM56.5 819h9v4.7h-9zM52.1 827.7h4.7v4.7h-4.7zM357.6 880h4.7v4.7h-4.7zM361.9 893.1h4.7v4.7h-4.7zM370.6 897.4h4.7v4.7h-4.7zM305.2 901.8h4.7v4.7h-4.7zM357.6 901.8h17.8v4.7h-17.8zM296.5 906.1h4.7v4.7h-4.7zM296.5 914.9h9v4.7h-9zM296.5 919.2h4.7v4.7h-4.7zM305.2 919.2h4.7v4.7h-4.7zM366.3 936.7h4.7v4.7h-4.7zM366.3 945.4h4.7v4.7h-4.7zM366.3 954.1h4.7v4.7h-4.7z"/><path fill="#fec13a" d="M108.8 771h4.7v4.7h-4.7zM65.2 775.4h4.7v4.7h-4.7zM108.8 775.4h4.7v4.7h-4.7zM43.4 779.7h4.7v4.7h-4.7zM43.4 784.1h4.7v4.7h-4.7zM126.3 792.8h4.7v4.7h-4.7zM108.8 801.5h4.7v4.7h-4.7zM108.8 805.9h4.7v4.7h-4.7zM108.8 810.3h4.7v4.7h-4.7zM108.8 814.6h4.7v4.7h-4.7zM121.9 823.3h4.7v4.7h-4.7zM183 849.5h4.7v4.7h-4.7z"/><path fill="#02bac4" d="M126.3 771h4.7v4.7h-4.7zM126.3 805.9h4.7v4.7h-4.7zM183 814.6h4.7v4.7h-4.7zM108.8 853.8h4.7v4.7h-4.7z"/><path fill="#5ccc76" d="M121.9 827.7h4.7v4.7h-4.7zM375 827.7h4.7v4.7h-4.7z"/></g></g><rect x="46.8" y="928.5" width="48.4" height="6.5" fill="#fff"/><text x="38.5" y="966.5" font-size="29" fill="#fff" stroke="#fff" stroke-width="0.7">6 µm</text><rect x="448.7" y="584" width="18.3" height="400" fill="url(#par)" stroke="#333" stroke-width="0.6"/><text x="474" y="591.8" font-size="22">1</text><text x="474" y="671.8" font-size="22">0.8</text><text x="474" y="751.8" font-size="22">0.6</text><text x="474" y="831.8" font-size="22">0.4</text><text x="474" y="911.8" font-size="22">0.2</text><path d="M467 584h-4M467 664h-4M467 744h-4M467 824h-4M467 904h-4" stroke="#222" stroke-width="1"/><text transform="translate(528.5 784) rotate(-90)" font-size="22.5" text-anchor="middle">SHG (a. u)</text></g><g id="pe"><text x="578" y="567.5" font-size="43" font-weight="bold">(e)</text><rect x="697.6" y="596.8" width="406.8" height="369.6" fill="#fff" stroke="#9a9a9a" stroke-width="1.2"/><path d="M697.6 966.4h4M1104.4 966.4h-4M697.6 904.8h4M1104.4 904.8h-4M697.6 843.2h4M1104.4 843.2h-4M697.6 781.6h4M1104.4 781.6h-4M697.6 720h4M1104.4 720h-4M697.6 658.4h4M1104.4 658.4h-4M697.6 596.8h4M1104.4 596.8h-4M901 966.4v-4M901 596.8v4" stroke="#777" stroke-width="1" fill="none"/><polyline points="697.6,940.6 705.2,936.8 710.9,941.7 716.6,930.3 722.3,940.6 728,937.9 733,941.7 738.7,929.2 744,940.6 750.8,936.8 760.3,933.3 765.3,942.9 771.7,934.1 777.5,928.4 785.1,924.6 791.9,921.6 798.4,921.6 802.9,923.8 807.9,915.1 813.6,922.7 819.3,923.8 823.1,907.5 828.8,863.8 834.5,818.1 840.2,778.2 844,787.7 847.8,833.3 851.6,886.6 857.3,917 863,926.5 868.7,929.2 874.4,928.4 880.1,922.7 885.8,909.4 891.5,882.8 897.2,841 902.9,780.1 908.6,726.9 912.4,704.1 915.1,697.6 918.1,711.7 922.7,749.7 927.6,802.9 933.3,856.2 939,890.4 944.8,909.4 950.5,922.7 956.2,926.5 961.9,926.5 967.6,926.5 973.3,936 979,937.9 984.7,929.5 990.4,930.3 996.1,935.2 999.9,936.8 1005.6,933.3 1011.3,930.3 1017,926.5 1024.6,928.4 1027.3,930.3 1031.4,913.2 1036,923.8 1041.7,918.9 1047.4,926.5 1053.1,922.7 1058.8,920.8 1070.2,920.8 1075.9,927.6 1081.6,930.3 1087.3,924.6 1093,923.5 1098.7,924.6 1104.4,932.2" fill="none" stroke="#e01018" stroke-width="2.6" stroke-linejoin="round"/><polyline points="697.6,958.1 701.4,966.4 707.1,960.7 712.8,953.9 718.5,955 724.2,951.2 728,950.5 733,953.1 738.7,943.6 744,945.5 749.7,949.3 754.6,947.4 760.3,958.1 765.3,948.2 770.6,954.3 776.7,939.8 783.2,939.8 788.9,941.7 793.4,943.6 798.4,943.6 802.9,936.8 808.6,943.6 813.6,939.8 819.3,930.3 824.2,931.1 828.8,894.2 834.5,825.7 840.2,764.1 843.2,780.1 845.9,784.7 849.7,856.2 853.5,905.6 857.3,930.3 861.9,945.5 866.8,945.5 872.5,939.8 877.1,928.4 882,926.5 887.7,920.8 893.4,894.2 899.1,837.1 904.8,749.7 909.8,666 912.4,628 915.1,610.9 918.1,631.8 920.8,650.8 923.8,704.1 927.6,772.5 933.3,856.2 939,898 942.9,913.2 946.7,927.6 952.4,924.6 957.3,944.4 963,939.8 968.3,937.9 973.3,951.2 979,949.3 983.5,940.6 989.2,946.7 994.2,947.4 999.9,946.3 1005.6,943.6 1011.3,947.4 1017,947.4 1022.7,939 1027.3,945.5 1032.2,936 1037.9,933.3 1043.6,932.2 1047.4,932.2 1053.1,939.8 1058.1,934.1 1063.4,937.9 1068.3,930.3 1074,919.7 1078.6,930.3 1084.7,939 1089.2,937.9 1094.9,934.1 1098.7,934.9 1104.4,939" fill="none" stroke="#1414dc" stroke-width="2.6" stroke-linejoin="round"/><rect x="966.3" y="604.4" width="131.3" height="62.1" fill="#fff" stroke="#888" stroke-width="1.1"/><path d="M969.8 620.3h26.4" stroke="#e01018" stroke-width="2.8"/><path d="M969.8 650.1h26.4" stroke="#1414dc" stroke-width="2.8"/><text x="999.4" y="622.8" font-size="17.2">MoS<tspan dy="9" font-size="12.5">2</tspan><tspan dy="-9">- Si</tspan></text><text x="999.4" y="652.6" font-size="17.2">MoS<tspan dy="9" font-size="12.5">2</tspan><tspan dy="-9">- SiO</tspan><tspan dy="9" font-size="12.5">2</tspan></text><text x="840.5" y="706.3" font-size="17.8">18 cm<tspan dx="3.5" dy="-5.8" font-size="11">-1</tspan></text><path d="M850 717.5H909" stroke="#000" stroke-width="1.9"/><path d="M843.2 717.5l11.6-5v10zM915.8 717.5l-11.6-5v10z" fill="#000"/><text x="693" y="971.8" font-size="17" text-anchor="end" fill="#1a1a1a">0</text><text x="693" y="910.2" font-size="17" text-anchor="end" fill="#1a1a1a">100</text><text x="693" y="848.6" font-size="17" text-anchor="end" fill="#1a1a1a">200</text><text x="693" y="787" font-size="17" text-anchor="end" fill="#1a1a1a">300</text><text x="693" y="725.4" font-size="17" text-anchor="end" fill="#1a1a1a">400</text><text x="693" y="663.8" font-size="17" text-anchor="end" fill="#1a1a1a">500</text><text x="693" y="602.2" font-size="17" text-anchor="end" fill="#1a1a1a">600</text><text x="698.3" y="989" font-size="17" text-anchor="middle" fill="#1a1a1a">350</text><text x="901" y="989" font-size="17" text-anchor="middle" fill="#1a1a1a">400</text><text x="1104.9" y="989" font-size="17" text-anchor="middle" fill="#1a1a1a">450</text><text x="901" y="1018.5" font-size="18.5" text-anchor="middle" fill="#222">Raman Shift (cm<tspan dy="-7" font-size="12">-1</tspan><tspan dy="7">)</tspan></text><text transform="translate(660 782) rotate(-90)" font-size="18.5" text-anchor="middle" fill="#222">C. P. S</text></g><g id="pf"><text x="1255" y="568" font-size="43" font-weight="bold">(f)</text><rect x="1363.4" y="597.3" width="361.3" height="356.5" fill="#4030b0"/><clipPath id="cf"><rect x="1363.4" y="597.3" width="361.3" height="356.5"/></clipPath><g clip-path="url(#cf)"><g filter="url(#bl1)"><path fill="#4330c5" d="M1363.4 597.3h17.9v9h-17.9zM1389.8 597.3h9.1v9h-9.1zM1416.3 597.3h70.8v9h-70.8zM1513.2 597.3h9.1v9h-9.1zM1636.6 597.3h26.7v9h-26.7zM1363.4 606h17.9v9h-17.9zM1416.3 606h79.6v9h-79.6zM1645.4 606h26.7v9h-26.7zM1363.4 614.7h132.5v9h-132.5zM1504.4 614.7h9.1v9h-9.1zM1636.6 614.7h35.5v9h-35.5zM1363.4 623.4h106v9h-106zM1486.8 623.4h17.9v9h-17.9zM1636.6 623.4h17.9v9h-17.9zM1663 623.4h26.7v9h-26.7zM1363.4 632.1h123.7v9h-123.7zM1636.6 632.1h79.6v9h-79.6zM1363.4 640.8h114.9v9h-114.9zM1627.8 640.8h97.2v9h-97.2zM1363.4 649.5h62v9h-62zM1442.7 649.5h26.7v9h-26.7zM1627.8 649.5h97.2v9h-97.2zM1363.4 658.2h97.2v9h-97.2zM1627.8 658.2h97.2v9h-97.2zM1363.4 666.9h97.2v9h-97.2zM1627.8 666.9h97.2v9h-97.2zM1363.4 675.6h44.4v9h-44.4zM1416.3 675.6h35.5v9h-35.5zM1627.8 675.6h97.2v9h-97.2zM1363.4 684.3h79.6v9h-79.6zM1627.8 684.3h26.7v9h-26.7zM1663 684.3h62v9h-62zM1363.4 692.9h79.6v9h-79.6zM1627.8 692.9h97.2v9h-97.2zM1363.4 701.6h53.2v9h-53.2zM1425.1 701.6h9.1v9h-9.1zM1627.8 701.6h97.2v9h-97.2zM1363.4 710.3h17.9v9h-17.9zM1389.8 710.3h17.9v9h-17.9zM1627.8 710.3h35.5v9h-35.5zM1680.6 710.3h35.5v9h-35.5zM1363.4 719h53.2v9h-53.2zM1698.3 719h26.7v9h-26.7zM1372.2 727.7h53.2v9h-53.2zM1363.4 736.4h53.2v9h-53.2zM1363.4 745.1h53.2v9h-53.2zM1363.4 753.8h44.4v9h-44.4zM1363.4 762.5h26.7v9h-26.7zM1363.4 771.2h26.7v9h-26.7zM1363.4 788.6h9.1v9h-9.1zM1698.3 832.1h26.7v9h-26.7zM1698.3 840.8h26.7v9h-26.7zM1707.1 849.5h17.9v9h-17.9zM1707.1 858.2h17.9v9h-17.9zM1698.3 866.8h26.7v9h-26.7zM1698.3 875.5h17.9v9h-17.9zM1707.1 884.2h17.9v9h-17.9zM1707.1 892.9h17.9v9h-17.9zM1715.9 901.6h9.1v9h-9.1zM1363.4 910.3h17.9v9h-17.9zM1389.8 910.3h26.7v9h-26.7zM1707.1 910.3h17.9v9h-17.9zM1363.4 919h88.4v9h-88.4zM1707.1 919h17.9v9h-17.9zM1363.4 927.7h97.2v9h-97.2zM1363.4 936.4h35.5v9h-35.5zM1416.3 936.4h44.4v9h-44.4zM1363.4 945.1h44.4v9h-44.4zM1416.3 945.1h44.4v9h-44.4z"/><path fill="#4536d3" d="M1381 597.3h9.1v9h-9.1zM1398.6 597.3h17.9v9h-17.9zM1663 597.3h9.1v9h-9.1zM1381 606h35.5v9h-35.5zM1636.6 606h9.1v9h-9.1zM1671.8 606h9.1v9h-9.1zM1671.8 614.7h17.9v9h-17.9zM1469.1 623.4h17.9v9h-17.9zM1654.2 623.4h9.1v9h-9.1zM1689.5 623.4h9.1v9h-9.1zM1486.8 632.1h9.1v9h-9.1zM1627.8 632.1h9.1v9h-9.1zM1715.9 632.1h9.1v9h-9.1zM1478 640.8h9.1v9h-9.1zM1425.1 649.5h17.9v9h-17.9zM1469.1 649.5h9.1v9h-9.1zM1460.3 658.2h9.1v9h-9.1zM1619 658.2h9.1v9h-9.1zM1460.3 666.9h9.1v9h-9.1zM1619 666.9h9.1v9h-9.1zM1407.5 675.6h9.1v9h-9.1zM1451.5 675.6h9.1v9h-9.1zM1619 675.6h9.1v9h-9.1zM1442.7 684.3h9.1v9h-9.1zM1619 684.3h9.1v9h-9.1zM1654.2 684.3h9.1v9h-9.1zM1442.7 692.9h9.1v9h-9.1zM1619 692.9h9.1v9h-9.1zM1416.3 701.6h9.1v9h-9.1zM1433.9 701.6h9.1v9h-9.1zM1619 701.6h9.1v9h-9.1zM1381 710.3h9.1v9h-9.1zM1407.5 710.3h26.7v9h-26.7zM1619 710.3h9.1v9h-9.1zM1663 710.3h17.9v9h-17.9zM1715.9 710.3h9.1v9h-9.1zM1416.3 719h17.9v9h-17.9zM1636.6 719h9.1v9h-9.1zM1671.8 719h26.7v9h-26.7zM1363.4 727.7h9.1v9h-9.1zM1698.3 727.7h26.7v9h-26.7zM1416.3 736.4h9.1v9h-9.1zM1715.9 736.4h9.1v9h-9.1zM1407.5 753.8h9.1v9h-9.1zM1389.8 762.5h9.1v9h-9.1zM1389.8 771.2h9.1v9h-9.1zM1363.4 779.9h26.7v9h-26.7zM1372.2 788.6h9.1v9h-9.1zM1698.3 814.7h26.7v9h-26.7zM1698.3 823.4h26.7v9h-26.7zM1689.5 832.1h9.1v9h-9.1zM1689.5 840.8h9.1v9h-9.1zM1698.3 849.5h9.1v9h-9.1zM1698.3 858.2h9.1v9h-9.1zM1715.9 875.5h9.1v9h-9.1zM1698.3 884.2h9.1v9h-9.1zM1698.3 892.9h9.1v9h-9.1zM1363.4 901.6h17.9v9h-17.9zM1707.1 901.6h9.1v9h-9.1zM1381 910.3h9.1v9h-9.1zM1416.3 910.3h35.5v9h-35.5zM1451.5 919h9.1v9h-9.1zM1698.3 919h9.1v9h-9.1zM1715.9 927.7h9.1v9h-9.1zM1398.6 936.4h17.9v9h-17.9zM1407.5 945.1h9.1v9h-9.1zM1460.3 945.1h9.1v9h-9.1z"/><path fill="#402bb7" d="M1486.8 597.3h9.1v9h-9.1zM1504.4 597.3h9.1v9h-9.1zM1495.6 606h17.9v9h-17.9zM1495.6 614.7h9.1v9h-9.1z"/><path fill="#3e26a8" d="M1495.6 597.3h9.1v9h-9.1z"/><path fill="#484aee" d="M1522 597.3h9.1v9h-9.1zM1627.8 597.3h9.1v9h-9.1zM1689.5 597.3h9.1v9h-9.1zM1698.3 606h9.1v9h-9.1zM1513.2 614.7h9.1v9h-9.1zM1707.1 614.7h17.9v9h-17.9zM1610.1 666.9h9.1v9h-9.1zM1451.5 692.9h9.1v9h-9.1zM1610.1 692.9h9.1v9h-9.1zM1610.1 701.6h9.1v9h-9.1zM1680.6 727.7h9.1v9h-9.1zM1425.1 736.4h9.1v9h-9.1zM1698.3 736.4h9.1v9h-9.1zM1707.1 745.1h9.1v9h-9.1zM1416.3 753.8h9.1v9h-9.1zM1407.5 762.5h9.1v9h-9.1zM1715.9 762.5h9.1v9h-9.1zM1398.6 771.2h9.1v9h-9.1zM1707.1 771.2h9.1v9h-9.1zM1372.2 797.3h9.1v9h-9.1zM1680.6 840.8h9.1v9h-9.1zM1680.6 849.5h9.1v9h-9.1zM1689.5 892.9h9.1v9h-9.1zM1442.7 901.6h9.1v9h-9.1zM1689.5 919h9.1v9h-9.1zM1680.6 936.4h17.9v9h-17.9zM1671.8 945.1h53.2v9h-53.2z"/><path fill="#3f6eff" d="M1530.8 597.3h9.1v9h-9.1zM1513.2 632.1h9.1v9h-9.1zM1495.6 649.5h9.1v9h-9.1zM1601.3 658.2h9.1v9h-9.1zM1478 666.9h9.1v9h-9.1zM1601.3 666.9h9.1v9h-9.1zM1601.3 675.6h9.1v9h-9.1zM1601.3 684.3h9.1v9h-9.1zM1460.3 692.9h9.1v9h-9.1zM1601.3 692.9h9.1v9h-9.1zM1601.3 701.6h9.1v9h-9.1zM1451.5 710.3h9.1v9h-9.1zM1680.6 736.4h9.1v9h-9.1zM1425.1 753.8h9.1v9h-9.1zM1698.3 753.8h9.1v9h-9.1zM1372.2 806h9.1v9h-9.1zM1671.8 832.1h9.1v9h-9.1zM1671.8 840.8h9.1v9h-9.1zM1425.1 892.9h26.7v9h-26.7zM1460.3 901.6h9.1v9h-9.1zM1610.1 927.7h62v9h-62z"/><path fill="#2d8cf3" d="M1539.6 597.3h9.1v9h-9.1zM1539.6 606h9.1v9h-9.1zM1539.6 614.7h9.1v9h-9.1zM1539.6 623.4h9.1v9h-9.1zM1530.8 632.1h17.9v9h-17.9zM1513.2 649.5h9.1v9h-9.1zM1495.6 658.2h17.9v9h-17.9zM1592.5 658.2h9.1v9h-9.1zM1486.8 666.9h9.1v9h-9.1zM1583.7 675.6h9.1v9h-9.1zM1592.5 684.3h9.1v9h-9.1zM1469.1 692.9h9.1v9h-9.1zM1592.5 692.9h9.1v9h-9.1zM1460.3 710.3h9.1v9h-9.1zM1451.5 727.7h9.1v9h-9.1zM1619 736.4h9.1v9h-9.1zM1442.7 745.1h9.1v9h-9.1zM1433.9 753.8h9.1v9h-9.1zM1689.5 753.8h9.1v9h-9.1zM1689.5 762.5h9.1v9h-9.1zM1407.5 788.6h9.1v9h-9.1zM1680.6 788.6h9.1v9h-9.1zM1372.2 814.7h9.1v9h-9.1zM1671.8 875.5h9.1v9h-9.1zM1460.3 892.9h9.1v9h-9.1zM1619 919h44.4v9h-44.4zM1478 927.7h9.1v9h-9.1zM1574.9 927.7h9.1v9h-9.1z"/><path fill="#2699ea" d="M1548.5 597.3h9.1v9h-9.1zM1601.3 597.3h9.1v9h-9.1zM1548.5 606h9.1v9h-9.1zM1548.5 614.7h9.1v9h-9.1zM1601.3 614.7h9.1v9h-9.1zM1548.5 623.4h9.1v9h-9.1zM1601.3 623.4h9.1v9h-9.1zM1548.5 632.1h9.1v9h-9.1zM1592.5 640.8h9.1v9h-9.1zM1513.2 658.2h9.1v9h-9.1zM1583.7 658.2h9.1v9h-9.1zM1504.4 666.9h9.1v9h-9.1zM1574.9 666.9h9.1v9h-9.1zM1486.8 675.6h17.9v9h-17.9zM1486.8 684.3h9.1v9h-9.1zM1574.9 684.3h9.1v9h-9.1zM1478 692.9h9.1v9h-9.1zM1583.7 692.9h9.1v9h-9.1zM1478 701.6h9.1v9h-9.1zM1583.7 701.6h9.1v9h-9.1zM1469.1 710.3h9.1v9h-9.1zM1592.5 719h9.1v9h-9.1zM1460.3 727.7h9.1v9h-9.1zM1451.5 736.4h9.1v9h-9.1zM1610.1 736.4h9.1v9h-9.1zM1442.7 753.8h9.1v9h-9.1zM1425.1 771.2h9.1v9h-9.1zM1680.6 779.9h9.1v9h-9.1zM1381 814.7h9.1v9h-9.1zM1363.4 823.4h9.1v9h-9.1zM1398.6 884.2h17.9v9h-17.9zM1671.8 892.9h9.1v9h-9.1z"/><path fill="#249fe6" d="M1557.3 597.3h9.1v9h-9.1zM1592.5 606h9.1v9h-9.1zM1592.5 614.7h9.1v9h-9.1zM1592.5 623.4h9.1v9h-9.1zM1583.7 632.1h17.9v9h-17.9zM1530.8 640.8h9.1v9h-9.1zM1583.7 640.8h9.1v9h-9.1zM1522 649.5h9.1v9h-9.1zM1583.7 649.5h9.1v9h-9.1zM1574.9 658.2h9.1v9h-9.1zM1566.1 666.9h9.1v9h-9.1zM1566.1 675.6h9.1v9h-9.1zM1495.6 684.3h9.1v9h-9.1zM1486.8 692.9h9.1v9h-9.1zM1478 710.3h9.1v9h-9.1zM1583.7 710.3h9.1v9h-9.1zM1469.1 719h9.1v9h-9.1zM1592.5 727.7h9.1v9h-9.1zM1601.3 736.4h9.1v9h-9.1zM1451.5 745.1h9.1v9h-9.1zM1671.8 745.1h9.1v9h-9.1zM1680.6 753.8h9.1v9h-9.1zM1416.3 788.6h9.1v9h-9.1zM1407.5 797.3h9.1v9h-9.1zM1372.2 823.4h9.1v9h-9.1zM1363.4 832.1h9.1v9h-9.1zM1416.3 884.2h9.1v9h-9.1zM1671.8 901.6h9.1v9h-9.1zM1478 910.3h9.1v9h-9.1zM1663 910.3h9.1v9h-9.1z"/><path fill="#20a4e3" d="M1566.1 597.3h9.1v9h-9.1zM1592.5 597.3h9.1v9h-9.1zM1557.3 606h17.9v9h-17.9zM1557.3 614.7h9.1v9h-9.1zM1574.9 614.7h9.1v9h-9.1zM1557.3 623.4h35.5v9h-35.5zM1557.3 632.1h26.7v9h-26.7zM1539.6 640.8h44.4v9h-44.4zM1566.1 649.5h17.9v9h-17.9zM1566.1 658.2h9.1v9h-9.1zM1513.2 666.9h9.1v9h-9.1zM1504.4 675.6h9.1v9h-9.1zM1574.9 692.9h9.1v9h-9.1zM1486.8 701.6h9.1v9h-9.1zM1583.7 719h9.1v9h-9.1zM1469.1 727.7h9.1v9h-9.1zM1460.3 736.4h9.1v9h-9.1zM1592.5 736.4h9.1v9h-9.1zM1442.7 762.5h9.1v9h-9.1zM1680.6 762.5h9.1v9h-9.1zM1433.9 771.2h9.1v9h-9.1zM1680.6 771.2h9.1v9h-9.1zM1425.1 779.9h9.1v9h-9.1zM1671.8 797.3h9.1v9h-9.1zM1398.6 806h9.1v9h-9.1zM1663 832.1h9.1v9h-9.1zM1363.4 840.8h9.1v9h-9.1zM1663 840.8h9.1v9h-9.1zM1663 849.5h9.1v9h-9.1zM1363.4 875.5h9.1v9h-9.1zM1425.1 884.2h26.7v9h-26.7zM1469.1 892.9h9.1v9h-9.1zM1654.2 910.3h9.1v9h-9.1zM1574.9 919h9.1v9h-9.1z"/><path fill="#1caadf" d="M1574.9 597.3h17.9v9h-17.9zM1574.9 606h17.9v9h-17.9zM1566.1 614.7h9.1v9h-9.1zM1583.7 614.7h9.1v9h-9.1zM1557.3 649.5h9.1v9h-9.1zM1566.1 684.3h9.1v9h-9.1zM1495.6 692.9h9.1v9h-9.1zM1574.9 701.6h9.1v9h-9.1zM1478 719h9.1v9h-9.1zM1654.2 745.1h17.9v9h-17.9zM1451.5 753.8h9.1v9h-9.1zM1416.3 797.3h9.1v9h-9.1zM1389.8 814.7h9.1v9h-9.1zM1381 823.4h9.1v9h-9.1zM1372.2 832.1h9.1v9h-9.1zM1363.4 849.5h9.1v9h-9.1zM1583.7 910.3h17.9v9h-17.9zM1645.4 910.3h9.1v9h-9.1zM1486.8 945.1h9.1v9h-9.1zM1566.1 945.1h9.1v9h-9.1z"/><path fill="#2e85f8" d="M1610.1 597.3h9.1v9h-9.1zM1610.1 606h9.1v9h-9.1zM1610.1 614.7h9.1v9h-9.1zM1530.8 623.4h9.1v9h-9.1zM1522 632.1h9.1v9h-9.1zM1601.3 640.8h9.1v9h-9.1zM1592.5 666.9h9.1v9h-9.1zM1478 675.6h9.1v9h-9.1zM1592.5 675.6h9.1v9h-9.1zM1460.3 701.6h9.1v9h-9.1zM1451.5 719h9.1v9h-9.1zM1601.3 719h9.1v9h-9.1zM1627.8 736.4h44.4v9h-44.4zM1425.1 762.5h9.1v9h-9.1zM1416.3 771.2h9.1v9h-9.1zM1689.5 771.2h9.1v9h-9.1zM1381 806h9.1v9h-9.1zM1671.8 814.7h9.1v9h-9.1zM1671.8 866.8h9.1v9h-9.1zM1372.2 884.2h17.9v9h-17.9zM1663 919h9.1v9h-9.1zM1478 936.4h9.1v9h-9.1z"/><path fill="#4367fd" d="M1619 597.3h9.1v9h-9.1zM1619 606h9.1v9h-9.1zM1522 614.7h9.1v9h-9.1zM1504.4 640.8h9.1v9h-9.1zM1610.1 640.8h9.1v9h-9.1zM1469.1 675.6h9.1v9h-9.1zM1433.9 736.4h9.1v9h-9.1zM1416.3 762.5h9.1v9h-9.1zM1698.3 762.5h9.1v9h-9.1zM1689.5 788.6h9.1v9h-9.1zM1680.6 884.2h9.1v9h-9.1zM1416.3 892.9h9.1v9h-9.1zM1469.1 919h9.1v9h-9.1zM1680.6 919h9.1v9h-9.1zM1671.8 927.7h9.1v9h-9.1zM1574.9 945.1h9.1v9h-9.1z"/><path fill="#463cde" d="M1671.8 597.3h9.1v9h-9.1zM1513.2 606h9.1v9h-9.1zM1680.6 606h9.1v9h-9.1zM1689.5 614.7h9.1v9h-9.1zM1504.4 623.4h9.1v9h-9.1zM1627.8 623.4h9.1v9h-9.1zM1698.3 623.4h26.7v9h-26.7zM1495.6 632.1h9.1v9h-9.1zM1486.8 640.8h9.1v9h-9.1zM1619 649.5h9.1v9h-9.1zM1469.1 658.2h9.1v9h-9.1zM1451.5 684.3h9.1v9h-9.1zM1433.9 710.3h9.1v9h-9.1zM1627.8 719h9.1v9h-9.1zM1645.4 719h26.7v9h-26.7zM1425.1 727.7h9.1v9h-9.1zM1707.1 736.4h9.1v9h-9.1zM1416.3 745.1h9.1v9h-9.1zM1398.6 762.5h9.1v9h-9.1zM1715.9 779.9h9.1v9h-9.1zM1363.4 797.3h9.1v9h-9.1zM1698.3 806h17.9v9h-17.9zM1689.5 814.7h9.1v9h-9.1zM1689.5 823.4h9.1v9h-9.1zM1689.5 849.5h9.1v9h-9.1zM1689.5 858.2h9.1v9h-9.1zM1689.5 866.8h9.1v9h-9.1zM1689.5 875.5h9.1v9h-9.1zM1381 901.6h35.5v9h-35.5zM1698.3 901.6h9.1v9h-9.1zM1451.5 910.3h9.1v9h-9.1zM1698.3 910.3h9.1v9h-9.1zM1460.3 927.7h9.1v9h-9.1zM1698.3 927.7h17.9v9h-17.9zM1460.3 936.4h9.1v9h-9.1z"/><path fill="#4743e7" d="M1680.6 597.3h9.1v9h-9.1zM1627.8 606h9.1v9h-9.1zM1689.5 606h9.1v9h-9.1zM1627.8 614.7h9.1v9h-9.1zM1698.3 614.7h9.1v9h-9.1zM1619 640.8h9.1v9h-9.1zM1478 649.5h9.1v9h-9.1zM1460.3 675.6h9.1v9h-9.1zM1610.1 675.6h9.1v9h-9.1zM1610.1 684.3h9.1v9h-9.1zM1442.7 701.6h9.1v9h-9.1zM1433.9 719h9.1v9h-9.1zM1619 719h9.1v9h-9.1zM1689.5 727.7h9.1v9h-9.1zM1715.9 745.1h9.1v9h-9.1zM1715.9 753.8h9.1v9h-9.1zM1715.9 771.2h9.1v9h-9.1zM1389.8 779.9h9.1v9h-9.1zM1707.1 779.9h9.1v9h-9.1zM1381 788.6h9.1v9h-9.1zM1707.1 788.6h17.9v9h-17.9zM1698.3 797.3h26.7v9h-26.7zM1689.5 806h9.1v9h-9.1zM1715.9 806h9.1v9h-9.1zM1680.6 832.1h9.1v9h-9.1zM1689.5 884.2h9.1v9h-9.1zM1416.3 901.6h26.7v9h-26.7zM1460.3 919h9.1v9h-9.1zM1689.5 927.7h9.1v9h-9.1zM1698.3 936.4h26.7v9h-26.7z"/><path fill="#4851f4" d="M1698.3 597.3h26.7v9h-26.7zM1707.1 606h17.9v9h-17.9zM1504.4 632.1h9.1v9h-9.1zM1619 632.1h9.1v9h-9.1zM1495.6 640.8h9.1v9h-9.1zM1478 658.2h9.1v9h-9.1zM1610.1 658.2h9.1v9h-9.1zM1469.1 666.9h9.1v9h-9.1zM1442.7 710.3h9.1v9h-9.1zM1610.1 710.3h9.1v9h-9.1zM1433.9 727.7h9.1v9h-9.1zM1671.8 727.7h9.1v9h-9.1zM1707.1 753.8h9.1v9h-9.1zM1707.1 762.5h9.1v9h-9.1zM1698.3 788.6h9.1v9h-9.1zM1680.6 823.4h9.1v9h-9.1zM1680.6 858.2h9.1v9h-9.1zM1363.4 892.9h9.1v9h-9.1zM1451.5 901.6h9.1v9h-9.1zM1460.3 910.3h9.1v9h-9.1zM1689.5 910.3h9.1v9h-9.1zM1680.6 927.7h9.1v9h-9.1zM1671.8 936.4h9.1v9h-9.1zM1469.1 945.1h9.1v9h-9.1zM1583.7 945.1h88.4v9h-88.4z"/><path fill="#4758f8" d="M1522 606h9.1v9h-9.1zM1513.2 623.4h9.1v9h-9.1zM1619 623.4h9.1v9h-9.1zM1486.8 649.5h9.1v9h-9.1zM1610.1 649.5h9.1v9h-9.1zM1460.3 684.3h9.1v9h-9.1zM1627.8 727.7h44.4v9h-44.4zM1425.1 745.1h9.1v9h-9.1zM1698.3 779.9h9.1v9h-9.1zM1689.5 797.3h9.1v9h-9.1zM1363.4 806h9.1v9h-9.1zM1680.6 814.7h9.1v9h-9.1zM1680.6 866.8h9.1v9h-9.1zM1372.2 892.9h17.9v9h-17.9zM1689.5 901.6h9.1v9h-9.1zM1469.1 936.4h9.1v9h-9.1zM1592.5 936.4h79.6v9h-79.6z"/><path fill="#3876fe" d="M1530.8 606h9.1v9h-9.1zM1610.1 632.1h9.1v9h-9.1zM1486.8 658.2h9.1v9h-9.1zM1601.3 710.3h9.1v9h-9.1zM1442.7 727.7h9.1v9h-9.1zM1433.9 745.1h9.1v9h-9.1zM1398.6 788.6h9.1v9h-9.1zM1680.6 797.3h9.1v9h-9.1zM1671.8 823.4h9.1v9h-9.1zM1671.8 849.5h9.1v9h-9.1zM1680.6 892.9h9.1v9h-9.1zM1469.1 910.3h9.1v9h-9.1zM1583.7 927.7h26.7v9h-26.7zM1574.9 936.4h9.1v9h-9.1z"/><path fill="#2a92ee" d="M1601.3 606h9.1v9h-9.1zM1601.3 632.1h9.1v9h-9.1zM1522 640.8h9.1v9h-9.1zM1592.5 649.5h9.1v9h-9.1zM1495.6 666.9h9.1v9h-9.1zM1583.7 666.9h9.1v9h-9.1zM1574.9 675.6h9.1v9h-9.1zM1478 684.3h9.1v9h-9.1zM1583.7 684.3h9.1v9h-9.1zM1469.1 701.6h9.1v9h-9.1zM1592.5 701.6h9.1v9h-9.1zM1592.5 710.3h9.1v9h-9.1zM1460.3 719h9.1v9h-9.1zM1601.3 727.7h9.1v9h-9.1zM1680.6 745.1h9.1v9h-9.1zM1433.9 762.5h9.1v9h-9.1zM1416.3 779.9h9.1v9h-9.1zM1398.6 797.3h9.1v9h-9.1zM1389.8 806h9.1v9h-9.1zM1671.8 806h9.1v9h-9.1zM1389.8 884.2h9.1v9h-9.1zM1671.8 884.2h9.1v9h-9.1zM1469.1 901.6h9.1v9h-9.1zM1671.8 910.3h9.1v9h-9.1zM1478 919h9.1v9h-9.1zM1583.7 919h35.5v9h-35.5z"/><path fill="#317efb" d="M1530.8 614.7h9.1v9h-9.1zM1522 623.4h9.1v9h-9.1zM1610.1 623.4h9.1v9h-9.1zM1513.2 640.8h9.1v9h-9.1zM1504.4 649.5h9.1v9h-9.1zM1601.3 649.5h9.1v9h-9.1zM1469.1 684.3h9.1v9h-9.1zM1610.1 727.7h9.1v9h-9.1zM1442.7 736.4h9.1v9h-9.1zM1671.8 736.4h9.1v9h-9.1zM1689.5 745.1h9.1v9h-9.1zM1407.5 779.9h9.1v9h-9.1zM1689.5 779.9h9.1v9h-9.1zM1389.8 797.3h9.1v9h-9.1zM1363.4 814.7h9.1v9h-9.1zM1671.8 858.2h9.1v9h-9.1zM1363.4 884.2h9.1v9h-9.1zM1451.5 892.9h9.1v9h-9.1zM1680.6 901.6h9.1v9h-9.1zM1680.6 910.3h9.1v9h-9.1zM1671.8 919h9.1v9h-9.1zM1478 945.1h9.1v9h-9.1z"/><path fill="#465ffb" d="M1619 614.7h9.1v9h-9.1zM1451.5 701.6h9.1v9h-9.1zM1442.7 719h9.1v9h-9.1zM1610.1 719h9.1v9h-9.1zM1619 727.7h9.1v9h-9.1zM1689.5 736.4h9.1v9h-9.1zM1698.3 745.1h9.1v9h-9.1zM1407.5 771.2h9.1v9h-9.1zM1698.3 771.2h9.1v9h-9.1zM1398.6 779.9h9.1v9h-9.1zM1389.8 788.6h9.1v9h-9.1zM1381 797.3h9.1v9h-9.1zM1680.6 806h9.1v9h-9.1zM1680.6 875.5h9.1v9h-9.1zM1389.8 892.9h26.7v9h-26.7zM1469.1 927.7h9.1v9h-9.1zM1583.7 936.4h9.1v9h-9.1z"/><path fill="#0ab4d2" d="M1530.8 649.5h9.1v9h-9.1zM1548.5 649.5h9.1v9h-9.1zM1522 658.2h9.1v9h-9.1zM1557.3 675.6h9.1v9h-9.1zM1486.8 710.3h9.1v9h-9.1zM1469.1 736.4h9.1v9h-9.1zM1592.5 745.1h17.9v9h-17.9zM1671.8 753.8h9.1v9h-9.1zM1433.9 779.9h9.1v9h-9.1zM1407.5 806h9.1v9h-9.1zM1663 814.7h9.1v9h-9.1zM1363.4 866.8h9.1v9h-9.1zM1663 901.6h9.1v9h-9.1zM1566.1 936.4h9.1v9h-9.1z"/><path fill="#01b8ca" d="M1539.6 649.5h9.1v9h-9.1zM1548.5 658.2h9.1v9h-9.1zM1513.2 675.6h9.1v9h-9.1zM1504.4 692.9h9.1v9h-9.1zM1566.1 692.9h9.1v9h-9.1zM1495.6 701.6h9.1v9h-9.1zM1486.8 719h9.1v9h-9.1zM1574.9 719h9.1v9h-9.1zM1478 727.7h9.1v9h-9.1zM1583.7 736.4h9.1v9h-9.1zM1451.5 762.5h9.1v9h-9.1zM1442.7 771.2h9.1v9h-9.1zM1671.8 779.9h9.1v9h-9.1zM1398.6 814.7h9.1v9h-9.1zM1372.2 840.8h9.1v9h-9.1zM1663 866.8h9.1v9h-9.1zM1381 875.5h9.1v9h-9.1zM1663 875.5h9.1v9h-9.1zM1460.3 884.2h9.1v9h-9.1zM1663 884.2h9.1v9h-9.1zM1478 892.9h9.1v9h-9.1zM1663 892.9h9.1v9h-9.1zM1486.8 927.7h9.1v9h-9.1z"/><path fill="#21c1b0" d="M1530.8 658.2h17.9v9h-17.9zM1548.5 666.9h9.1v9h-9.1zM1513.2 684.3h9.1v9h-9.1zM1495.6 710.3h9.1v9h-9.1zM1566.1 710.3h9.1v9h-9.1zM1486.8 727.7h9.1v9h-9.1zM1478 736.4h9.1v9h-9.1zM1592.5 753.8h9.1v9h-9.1zM1663 753.8h9.1v9h-9.1zM1433.9 788.6h9.1v9h-9.1zM1663 788.6h9.1v9h-9.1zM1663 797.3h9.1v9h-9.1zM1416.3 806h9.1v9h-9.1zM1372.2 849.5h9.1v9h-9.1zM1416.3 875.5h9.1v9h-9.1zM1583.7 892.9h9.1v9h-9.1zM1486.8 901.6h9.1v9h-9.1z"/><path fill="#15afd9" d="M1557.3 658.2h9.1v9h-9.1zM1557.3 666.9h9.1v9h-9.1zM1504.4 684.3h9.1v9h-9.1zM1574.9 710.3h9.1v9h-9.1zM1583.7 727.7h9.1v9h-9.1zM1460.3 745.1h9.1v9h-9.1zM1610.1 745.1h44.4v9h-44.4zM1425.1 788.6h9.1v9h-9.1zM1671.8 788.6h9.1v9h-9.1zM1663 823.4h9.1v9h-9.1zM1363.4 858.2h9.1v9h-9.1zM1663 858.2h9.1v9h-9.1zM1372.2 875.5h9.1v9h-9.1zM1451.5 884.2h9.1v9h-9.1zM1478 901.6h9.1v9h-9.1zM1601.3 910.3h44.4v9h-44.4zM1486.8 936.4h9.1v9h-9.1z"/><path fill="#04bbc2" d="M1522 666.9h9.1v9h-9.1zM1671.8 762.5h9.1v9h-9.1zM1671.8 771.2h9.1v9h-9.1zM1663 806h9.1v9h-9.1zM1389.8 823.4h9.1v9h-9.1zM1381 832.1h9.1v9h-9.1zM1389.8 875.5h9.1v9h-9.1zM1469.1 884.2h9.1v9h-9.1zM1574.9 910.3h9.1v9h-9.1zM1486.8 919h9.1v9h-9.1z"/><path fill="#33c69d" d="M1530.8 666.9h17.9v9h-17.9zM1548.5 675.6h9.1v9h-9.1zM1513.2 692.9h9.1v9h-9.1zM1504.4 710.3h9.1v9h-9.1zM1495.6 719h9.1v9h-9.1zM1566.1 719h9.1v9h-9.1zM1478 745.1h9.1v9h-9.1zM1574.9 745.1h9.1v9h-9.1zM1469.1 753.8h9.1v9h-9.1zM1610.1 753.8h44.4v9h-44.4zM1583.7 762.5h17.9v9h-17.9zM1451.5 771.2h9.1v9h-9.1zM1583.7 788.6h9.1v9h-9.1zM1574.9 806h17.9v9h-17.9zM1574.9 814.7h9.1v9h-9.1zM1592.5 814.7h9.1v9h-9.1zM1398.6 823.4h9.1v9h-9.1zM1583.7 823.4h17.9v9h-17.9zM1574.9 840.8h9.1v9h-9.1zM1654.2 840.8h9.1v9h-9.1zM1583.7 849.5h9.1v9h-9.1zM1654.2 849.5h9.1v9h-9.1zM1583.7 858.2h9.1v9h-9.1zM1654.2 858.2h9.1v9h-9.1zM1592.5 866.8h9.1v9h-9.1zM1425.1 875.5h26.7v9h-26.7zM1592.5 875.5h9.1v9h-9.1zM1592.5 884.2h9.1v9h-9.1zM1486.8 892.9h9.1v9h-9.1zM1610.1 901.6h9.1v9h-9.1zM1636.6 901.6h9.1v9h-9.1zM1566.1 919h9.1v9h-9.1zM1495.6 936.4h9.1v9h-9.1z"/><path fill="#2cc4a7" d="M1522 675.6h9.1v9h-9.1zM1557.3 692.9h9.1v9h-9.1zM1504.4 701.6h9.1v9h-9.1zM1574.9 736.4h9.1v9h-9.1zM1583.7 753.8h9.1v9h-9.1zM1601.3 753.8h9.1v9h-9.1zM1654.2 753.8h9.1v9h-9.1zM1442.7 779.9h9.1v9h-9.1zM1663 779.9h9.1v9h-9.1zM1407.5 814.7h9.1v9h-9.1zM1583.7 814.7h9.1v9h-9.1zM1583.7 832.1h9.1v9h-9.1zM1654.2 832.1h9.1v9h-9.1zM1583.7 840.8h9.1v9h-9.1zM1372.2 858.2h9.1v9h-9.1zM1372.2 866.8h9.1v9h-9.1zM1583.7 866.8h9.1v9h-9.1zM1583.7 875.5h9.1v9h-9.1zM1478 884.2h9.1v9h-9.1zM1583.7 884.2h9.1v9h-9.1zM1592.5 892.9h9.1v9h-9.1zM1601.3 901.6h9.1v9h-9.1zM1645.4 901.6h9.1v9h-9.1zM1495.6 945.1h9.1v9h-9.1z"/><path fill="#48cb86" d="M1530.8 675.6h17.9v9h-17.9zM1522 684.3h9.1v9h-9.1zM1557.3 710.3h9.1v9h-9.1zM1513.2 719h9.1v9h-9.1zM1557.3 719h9.1v9h-9.1zM1504.4 727.7h9.1v9h-9.1zM1495.6 736.4h9.1v9h-9.1zM1486.8 745.1h9.1v9h-9.1zM1566.1 745.1h9.1v9h-9.1zM1478 753.8h9.1v9h-9.1zM1566.1 788.6h9.1v9h-9.1zM1566.1 797.3h9.1v9h-9.1zM1425.1 806h9.1v9h-9.1zM1566.1 806h9.1v9h-9.1zM1654.2 814.7h9.1v9h-9.1zM1389.8 832.1h9.1v9h-9.1zM1574.9 858.2h9.1v9h-9.1zM1381 866.8h9.1v9h-9.1zM1574.9 866.8h9.1v9h-9.1zM1654.2 866.8h9.1v9h-9.1zM1460.3 875.5h9.1v9h-9.1zM1574.9 875.5h9.1v9h-9.1zM1495.6 884.2h9.1v9h-9.1zM1574.9 892.9h9.1v9h-9.1zM1601.3 892.9h9.1v9h-9.1zM1654.2 892.9h9.1v9h-9.1zM1619 901.6h17.9v9h-17.9zM1495.6 919h9.1v9h-9.1z"/><path fill="#7acc5d" d="M1530.8 684.3h9.1v9h-9.1zM1539.6 692.9h9.1v9h-9.1zM1548.5 710.3h9.1v9h-9.1zM1548.5 719h9.1v9h-9.1zM1548.5 727.7h9.1v9h-9.1zM1557.3 753.8h9.1v9h-9.1zM1478 762.5h9.1v9h-9.1zM1513.2 762.5h9.1v9h-9.1zM1557.3 762.5h9.1v9h-9.1zM1619 762.5h17.9v9h-17.9zM1645.4 762.5h9.1v9h-9.1zM1460.3 771.2h9.1v9h-9.1zM1557.3 771.2h9.1v9h-9.1zM1610.1 771.2h9.1v9h-9.1zM1451.5 779.9h9.1v9h-9.1zM1495.6 779.9h9.1v9h-9.1zM1557.3 779.9h9.1v9h-9.1zM1495.6 788.6h9.1v9h-9.1zM1513.2 788.6h9.1v9h-9.1zM1495.6 797.3h9.1v9h-9.1zM1433.9 806h9.1v9h-9.1zM1495.6 806h17.9v9h-17.9zM1610.1 806h9.1v9h-9.1zM1495.6 814.7h9.1v9h-9.1zM1495.6 823.4h9.1v9h-9.1zM1645.4 823.4h9.1v9h-9.1zM1486.8 832.1h9.1v9h-9.1zM1645.4 832.1h9.1v9h-9.1zM1486.8 840.8h9.1v9h-9.1zM1486.8 849.5h9.1v9h-9.1zM1504.4 849.5h9.1v9h-9.1zM1645.4 849.5h9.1v9h-9.1zM1504.4 858.2h9.1v9h-9.1zM1566.1 858.2h9.1v9h-9.1zM1601.3 858.2h9.1v9h-9.1zM1645.4 858.2h9.1v9h-9.1zM1389.8 866.8h17.9v9h-17.9zM1504.4 866.8h9.1v9h-9.1zM1610.1 892.9h9.1v9h-9.1zM1636.6 892.9h17.9v9h-17.9zM1566.1 910.3h9.1v9h-9.1z"/><path fill="#68cd6b" d="M1539.6 684.3h9.1v9h-9.1zM1522 692.9h9.1v9h-9.1zM1522 701.6h9.1v9h-9.1zM1548.5 701.6h9.1v9h-9.1zM1513.2 736.4h9.1v9h-9.1zM1513.2 745.1h9.1v9h-9.1zM1557.3 745.1h9.1v9h-9.1zM1486.8 753.8h17.9v9h-17.9zM1513.2 753.8h9.1v9h-9.1zM1469.1 762.5h9.1v9h-9.1zM1495.6 762.5h9.1v9h-9.1zM1566.1 762.5h9.1v9h-9.1zM1610.1 762.5h9.1v9h-9.1zM1654.2 762.5h9.1v9h-9.1zM1495.6 771.2h9.1v9h-9.1zM1513.2 771.2h9.1v9h-9.1zM1654.2 771.2h9.1v9h-9.1zM1504.4 779.9h17.9v9h-17.9zM1504.4 788.6h9.1v9h-9.1zM1557.3 788.6h9.1v9h-9.1zM1654.2 788.6h9.1v9h-9.1zM1504.4 797.3h9.1v9h-9.1zM1654.2 797.3h9.1v9h-9.1zM1504.4 814.7h9.1v9h-9.1zM1601.3 814.7h9.1v9h-9.1zM1407.5 823.4h9.1v9h-9.1zM1566.1 823.4h9.1v9h-9.1zM1601.3 823.4h9.1v9h-9.1zM1495.6 832.1h9.1v9h-9.1zM1566.1 832.1h9.1v9h-9.1zM1601.3 832.1h9.1v9h-9.1zM1495.6 840.8h17.9v9h-17.9zM1566.1 840.8h9.1v9h-9.1zM1601.3 840.8h9.1v9h-9.1zM1381 849.5h9.1v9h-9.1zM1566.1 849.5h9.1v9h-9.1zM1601.3 849.5h9.1v9h-9.1zM1381 858.2h9.1v9h-9.1zM1486.8 858.2h9.1v9h-9.1zM1486.8 866.8h9.1v9h-9.1zM1601.3 866.8h9.1v9h-9.1zM1478 875.5h9.1v9h-9.1zM1601.3 875.5h9.1v9h-9.1z"/><path fill="#3bc992" d="M1548.5 684.3h9.1v9h-9.1zM1513.2 701.6h9.1v9h-9.1zM1557.3 701.6h9.1v9h-9.1zM1513.2 710.3h9.1v9h-9.1zM1504.4 719h9.1v9h-9.1zM1495.6 727.7h9.1v9h-9.1zM1566.1 727.7h9.1v9h-9.1zM1486.8 736.4h9.1v9h-9.1zM1566.1 736.4h9.1v9h-9.1zM1574.9 753.8h9.1v9h-9.1zM1460.3 762.5h9.1v9h-9.1zM1574.9 762.5h9.1v9h-9.1zM1663 762.5h9.1v9h-9.1zM1574.9 771.2h26.7v9h-26.7zM1663 771.2h9.1v9h-9.1zM1574.9 779.9h26.7v9h-26.7zM1574.9 788.6h9.1v9h-9.1zM1592.5 788.6h9.1v9h-9.1zM1574.9 797.3h26.7v9h-26.7zM1592.5 806h9.1v9h-9.1zM1574.9 823.4h9.1v9h-9.1zM1654.2 823.4h9.1v9h-9.1zM1574.9 832.1h9.1v9h-9.1zM1592.5 832.1h9.1v9h-9.1zM1381 840.8h9.1v9h-9.1zM1592.5 840.8h9.1v9h-9.1zM1574.9 849.5h9.1v9h-9.1zM1592.5 849.5h9.1v9h-9.1zM1592.5 858.2h9.1v9h-9.1zM1451.5 875.5h9.1v9h-9.1zM1486.8 884.2h9.1v9h-9.1zM1574.9 884.2h9.1v9h-9.1zM1574.9 901.6h9.1v9h-9.1zM1495.6 927.7h9.1v9h-9.1z"/><path fill="#12beb9" d="M1557.3 684.3h9.1v9h-9.1zM1566.1 701.6h9.1v9h-9.1zM1574.9 727.7h9.1v9h-9.1zM1469.1 745.1h9.1v9h-9.1zM1583.7 745.1h9.1v9h-9.1zM1460.3 753.8h9.1v9h-9.1zM1425.1 797.3h9.1v9h-9.1zM1398.6 875.5h17.9v9h-17.9zM1583.7 901.6h17.9v9h-17.9zM1654.2 901.6h9.1v9h-9.1zM1486.8 910.3h9.1v9h-9.1zM1566.1 927.7h9.1v9h-9.1z"/><path fill="#8dcb4f" d="M1530.8 692.9h9.1v9h-9.1zM1530.8 710.3h9.1v9h-9.1zM1530.8 719h17.9v9h-17.9zM1522 727.7h9.1v9h-9.1zM1522 736.4h9.1v9h-9.1zM1548.5 736.4h9.1v9h-9.1zM1522 745.1h17.9v9h-17.9zM1548.5 745.1h9.1v9h-9.1zM1522 753.8h17.9v9h-17.9zM1486.8 762.5h9.1v9h-9.1zM1539.6 762.5h17.9v9h-17.9zM1636.6 762.5h9.1v9h-9.1zM1486.8 771.2h9.1v9h-9.1zM1522 771.2h9.1v9h-9.1zM1645.4 771.2h9.1v9h-9.1zM1486.8 779.9h9.1v9h-9.1zM1610.1 779.9h9.1v9h-9.1zM1645.4 779.9h9.1v9h-9.1zM1451.5 788.6h9.1v9h-9.1zM1610.1 788.6h9.1v9h-9.1zM1645.4 788.6h9.1v9h-9.1zM1442.7 797.3h9.1v9h-9.1zM1513.2 797.3h9.1v9h-9.1zM1557.3 797.3h9.1v9h-9.1zM1610.1 797.3h9.1v9h-9.1zM1645.4 797.3h9.1v9h-9.1zM1557.3 806h9.1v9h-9.1zM1645.4 806h9.1v9h-9.1zM1425.1 814.7h9.1v9h-9.1zM1557.3 814.7h9.1v9h-9.1zM1610.1 814.7h9.1v9h-9.1zM1645.4 814.7h9.1v9h-9.1zM1416.3 823.4h9.1v9h-9.1zM1486.8 823.4h9.1v9h-9.1zM1513.2 823.4h9.1v9h-9.1zM1398.6 832.1h9.1v9h-9.1zM1478 832.1h9.1v9h-9.1zM1513.2 832.1h9.1v9h-9.1zM1478 840.8h9.1v9h-9.1zM1513.2 840.8h9.1v9h-9.1zM1645.4 840.8h9.1v9h-9.1zM1478 858.2h9.1v9h-9.1zM1407.5 866.8h9.1v9h-9.1zM1451.5 866.8h9.1v9h-9.1zM1478 866.8h9.1v9h-9.1zM1645.4 866.8h9.1v9h-9.1zM1504.4 875.5h9.1v9h-9.1zM1610.1 875.5h44.4v9h-44.4zM1504.4 884.2h9.1v9h-9.1zM1627.8 884.2h26.7v9h-26.7zM1619 892.9h17.9v9h-17.9z"/><path fill="#58cc79" d="M1548.5 692.9h9.1v9h-9.1zM1522 710.3h9.1v9h-9.1zM1522 719h9.1v9h-9.1zM1513.2 727.7h9.1v9h-9.1zM1557.3 727.7h9.1v9h-9.1zM1504.4 736.4h9.1v9h-9.1zM1557.3 736.4h9.1v9h-9.1zM1495.6 745.1h17.9v9h-17.9zM1504.4 753.8h9.1v9h-9.1zM1566.1 753.8h9.1v9h-9.1zM1504.4 762.5h9.1v9h-9.1zM1601.3 762.5h9.1v9h-9.1zM1504.4 771.2h9.1v9h-9.1zM1566.1 771.2h9.1v9h-9.1zM1601.3 771.2h9.1v9h-9.1zM1566.1 779.9h9.1v9h-9.1zM1601.3 779.9h9.1v9h-9.1zM1654.2 779.9h9.1v9h-9.1zM1442.7 788.6h9.1v9h-9.1zM1601.3 788.6h9.1v9h-9.1zM1433.9 797.3h9.1v9h-9.1zM1601.3 797.3h9.1v9h-9.1zM1601.3 806h9.1v9h-9.1zM1654.2 806h9.1v9h-9.1zM1416.3 814.7h9.1v9h-9.1zM1566.1 814.7h9.1v9h-9.1zM1504.4 823.4h9.1v9h-9.1zM1504.4 832.1h9.1v9h-9.1zM1495.6 849.5h9.1v9h-9.1zM1495.6 858.2h9.1v9h-9.1zM1495.6 866.8h9.1v9h-9.1zM1469.1 875.5h9.1v9h-9.1zM1486.8 875.5h17.9v9h-17.9zM1654.2 875.5h9.1v9h-9.1zM1601.3 884.2h9.1v9h-9.1zM1654.2 884.2h9.1v9h-9.1zM1495.6 892.9h9.1v9h-9.1zM1495.6 901.6h9.1v9h-9.1zM1495.6 910.3h9.1v9h-9.1z"/><path fill="#9fc942" d="M1530.8 701.6h17.9v9h-17.9zM1539.6 710.3h9.1v9h-9.1zM1530.8 727.7h17.9v9h-17.9zM1530.8 736.4h17.9v9h-17.9zM1539.6 745.1h9.1v9h-9.1zM1539.6 753.8h17.9v9h-17.9zM1522 762.5h17.9v9h-17.9zM1469.1 771.2h17.9v9h-17.9zM1530.8 771.2h26.7v9h-26.7zM1619 771.2h9.1v9h-9.1zM1460.3 779.9h26.7v9h-26.7zM1522 779.9h9.1v9h-9.1zM1548.5 779.9h9.1v9h-9.1zM1619 779.9h9.1v9h-9.1zM1460.3 788.6h9.1v9h-9.1zM1486.8 788.6h9.1v9h-9.1zM1619 788.6h9.1v9h-9.1zM1486.8 797.3h9.1v9h-9.1zM1619 797.3h9.1v9h-9.1zM1636.6 797.3h9.1v9h-9.1zM1486.8 806h9.1v9h-9.1zM1513.2 806h9.1v9h-9.1zM1619 806h26.7v9h-26.7zM1433.9 814.7h9.1v9h-9.1zM1478 814.7h17.9v9h-17.9zM1513.2 814.7h9.1v9h-9.1zM1636.6 814.7h9.1v9h-9.1zM1425.1 823.4h9.1v9h-9.1zM1451.5 823.4h9.1v9h-9.1zM1478 823.4h9.1v9h-9.1zM1557.3 823.4h9.1v9h-9.1zM1610.1 823.4h9.1v9h-9.1zM1636.6 823.4h9.1v9h-9.1zM1469.1 832.1h9.1v9h-9.1zM1557.3 832.1h9.1v9h-9.1zM1469.1 840.8h9.1v9h-9.1zM1557.3 840.8h9.1v9h-9.1zM1610.1 840.8h9.1v9h-9.1zM1478 849.5h9.1v9h-9.1zM1513.2 849.5h9.1v9h-9.1zM1557.3 849.5h9.1v9h-9.1zM1610.1 849.5h17.9v9h-17.9zM1636.6 849.5h9.1v9h-9.1zM1636.6 858.2h9.1v9h-9.1zM1416.3 866.8h35.5v9h-35.5zM1460.3 866.8h17.9v9h-17.9zM1566.1 866.8h9.1v9h-9.1zM1610.1 866.8h17.9v9h-17.9zM1610.1 884.2h17.9v9h-17.9zM1504.4 892.9h9.1v9h-9.1zM1504.4 919h9.1v9h-9.1zM1557.3 945.1h9.1v9h-9.1z"/><path fill="#b0c636" d="M1627.8 771.2h17.9v9h-17.9zM1530.8 779.9h9.1v9h-9.1zM1627.8 779.9h17.9v9h-17.9zM1469.1 788.6h17.9v9h-17.9zM1522 788.6h9.1v9h-9.1zM1548.5 788.6h9.1v9h-9.1zM1627.8 788.6h17.9v9h-17.9zM1451.5 797.3h35.5v9h-35.5zM1627.8 797.3h9.1v9h-9.1zM1442.7 806h9.1v9h-9.1zM1478 806h9.1v9h-9.1zM1442.7 814.7h9.1v9h-9.1zM1469.1 814.7h9.1v9h-9.1zM1619 814.7h17.9v9h-17.9zM1442.7 823.4h9.1v9h-9.1zM1469.1 823.4h9.1v9h-9.1zM1407.5 832.1h9.1v9h-9.1zM1451.5 832.1h9.1v9h-9.1zM1522 832.1h9.1v9h-9.1zM1610.1 832.1h9.1v9h-9.1zM1627.8 832.1h17.9v9h-17.9zM1389.8 840.8h9.1v9h-9.1zM1548.5 840.8h9.1v9h-9.1zM1619 840.8h26.7v9h-26.7zM1460.3 849.5h17.9v9h-17.9zM1627.8 849.5h9.1v9h-9.1zM1389.8 858.2h9.1v9h-9.1zM1460.3 858.2h17.9v9h-17.9zM1610.1 858.2h26.7v9h-26.7zM1627.8 866.8h17.9v9h-17.9zM1566.1 875.5h9.1v9h-9.1zM1566.1 884.2h9.1v9h-9.1zM1566.1 892.9h9.1v9h-9.1zM1504.4 901.6h9.1v9h-9.1zM1566.1 901.6h9.1v9h-9.1zM1504.4 910.3h9.1v9h-9.1zM1504.4 927.7h9.1v9h-9.1zM1504.4 936.4h9.1v9h-9.1zM1557.3 936.4h9.1v9h-9.1zM1504.4 945.1h9.1v9h-9.1z"/><path fill="#c1c32d" d="M1539.6 779.9h9.1v9h-9.1zM1522 797.3h9.1v9h-9.1zM1548.5 797.3h9.1v9h-9.1zM1451.5 806h26.7v9h-26.7zM1451.5 814.7h17.9v9h-17.9zM1433.9 823.4h9.1v9h-9.1zM1460.3 823.4h9.1v9h-9.1zM1522 823.4h9.1v9h-9.1zM1619 823.4h17.9v9h-17.9zM1416.3 832.1h17.9v9h-17.9zM1442.7 832.1h9.1v9h-9.1zM1460.3 832.1h9.1v9h-9.1zM1530.8 832.1h26.7v9h-26.7zM1619 832.1h9.1v9h-9.1zM1451.5 840.8h17.9v9h-17.9zM1522 840.8h9.1v9h-9.1zM1539.6 840.8h9.1v9h-9.1zM1389.8 849.5h9.1v9h-9.1zM1398.6 858.2h9.1v9h-9.1zM1451.5 858.2h9.1v9h-9.1zM1513.2 858.2h9.1v9h-9.1zM1557.3 858.2h9.1v9h-9.1z"/><path fill="#d0c027" d="M1530.8 788.6h17.9v9h-17.9zM1548.5 814.7h9.1v9h-9.1zM1530.8 823.4h26.7v9h-26.7zM1433.9 832.1h9.1v9h-9.1zM1530.8 840.8h9.1v9h-9.1zM1451.5 849.5h9.1v9h-9.1zM1548.5 849.5h9.1v9h-9.1zM1433.9 858.2h17.9v9h-17.9zM1513.2 866.8h9.1v9h-9.1zM1557.3 927.7h9.1v9h-9.1z"/><path fill="#debd29" d="M1530.8 797.3h17.9v9h-17.9zM1522 806h9.1v9h-9.1zM1548.5 806h9.1v9h-9.1zM1522 814.7h9.1v9h-9.1zM1398.6 840.8h9.1v9h-9.1zM1425.1 840.8h9.1v9h-9.1zM1442.7 840.8h9.1v9h-9.1zM1398.6 849.5h9.1v9h-9.1zM1522 849.5h9.1v9h-9.1zM1407.5 858.2h26.7v9h-26.7z"/><path fill="#eaba31" d="M1530.8 806h17.9v9h-17.9zM1530.8 814.7h9.1v9h-9.1zM1407.5 840.8h17.9v9h-17.9zM1433.9 840.8h9.1v9h-9.1zM1416.3 849.5h35.5v9h-35.5zM1513.2 875.5h9.1v9h-9.1zM1513.2 884.2h9.1v9h-9.1zM1557.3 919h9.1v9h-9.1z"/><path fill="#f5ba3a" d="M1539.6 814.7h9.1v9h-9.1zM1407.5 849.5h9.1v9h-9.1zM1539.6 849.5h9.1v9h-9.1zM1522 858.2h9.1v9h-9.1zM1557.3 866.8h9.1v9h-9.1z"/><path fill="#fdbd3d" d="M1530.8 849.5h9.1v9h-9.1zM1548.5 858.2h9.1v9h-9.1zM1557.3 875.5h9.1v9h-9.1zM1513.2 892.9h9.1v9h-9.1z"/><path fill="#fad42e" d="M1530.8 858.2h17.9v9h-17.9zM1530.8 866.8h17.9v9h-17.9zM1522 875.5h9.1v9h-9.1zM1557.3 901.6h9.1v9h-9.1zM1513.2 936.4h9.1v9h-9.1zM1513.2 945.1h9.1v9h-9.1z"/><path fill="#fec437" d="M1522 866.8h9.1v9h-9.1zM1557.3 884.2h9.1v9h-9.1zM1513.2 901.6h9.1v9h-9.1zM1513.2 910.3h9.1v9h-9.1zM1513.2 919h9.1v9h-9.1z"/><path fill="#fdcc32" d="M1548.5 866.8h9.1v9h-9.1zM1557.3 892.9h9.1v9h-9.1zM1557.3 910.3h9.1v9h-9.1zM1513.2 927.7h9.1v9h-9.1z"/><path fill="#f5e427" d="M1530.8 875.5h17.9v9h-17.9zM1522 884.2h9.1v9h-9.1zM1548.5 884.2h9.1v9h-9.1zM1522 892.9h9.1v9h-9.1zM1548.5 927.7h9.1v9h-9.1z"/><path fill="#f7dc2a" d="M1548.5 875.5h9.1v9h-9.1zM1548.5 936.4h9.1v9h-9.1zM1548.5 945.1h9.1v9h-9.1z"/><path fill="#f9fb15" d="M1530.8 884.2h17.9v9h-17.9zM1530.8 892.9h17.9v9h-17.9zM1530.8 901.6h26.7v9h-26.7zM1530.8 910.3h26.7v9h-26.7zM1530.8 919h17.9v9h-17.9zM1530.8 927.7h17.9v9h-17.9zM1530.8 936.4h17.9v9h-17.9zM1522 945.1h26.7v9h-26.7z"/><path fill="#f7f31c" d="M1548.5 892.9h9.1v9h-9.1zM1522 901.6h9.1v9h-9.1zM1522 910.3h9.1v9h-9.1z"/><path fill="#f5ec22" d="M1522 919h9.1v9h-9.1zM1548.5 919h9.1v9h-9.1zM1522 927.7h9.1v9h-9.1zM1522 936.4h9.1v9h-9.1z"/></g></g><polygon points="1536.5,692.4 1537.5,695.2 1540.5,695.3 1538.2,697.1 1539.0,700.0 1536.5,698.4 1534.0,700.0 1534.8,697.1 1532.5,695.3 1535.5,695.2" fill="#d01030"/><polygon points="1430.0,849.8 1431.0,852.6 1434.0,852.7 1431.7,854.5 1432.5,857.4 1430.0,855.8 1427.5,857.4 1428.3,854.5 1426.0,852.7 1429.0,852.6" fill="#1a1aa0"/><rect x="1369.7" y="904.3" width="78" height="6.3" fill="#fff"/><text x="1373.5" y="940" font-size="29" fill="#fff" stroke="#fff" stroke-width="0.7">2 µm</text><rect x="1733" y="597.3" width="16.4" height="356.5" fill="url(#par)" stroke="#333" stroke-width="0.6"/><text x="1756" y="604.3" font-size="20">1</text><text x="1756" y="675.6" font-size="20">0.8</text><text x="1756" y="746.9" font-size="20">0.6</text><text x="1756" y="818.2" font-size="20">0.4</text><text x="1756" y="889.5" font-size="20">0.2</text><text x="1756" y="960.8" font-size="20">0</text><path d="M1749.4 668.6h-4M1749.4 739.9h-4M1749.4 811.2h-4M1749.4 882.5h-4" stroke="#222" stroke-width="1"/><text transform="translate(1804.5 776) rotate(-90)" font-size="20.5" text-anchor="middle">C. P. S</text></g></svg></body></html>
